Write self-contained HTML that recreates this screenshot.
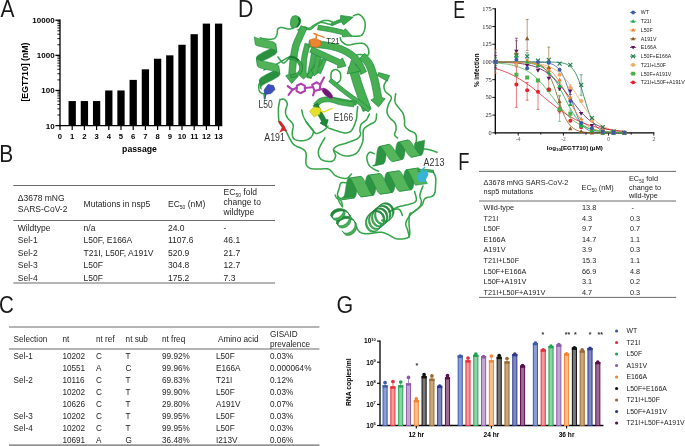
<!DOCTYPE html>
<html><head><meta charset="utf-8"><title>Figure</title>
<style>html,body{margin:0;padding:0;background:#fff;}body{width:685px;height:446px;overflow:hidden;}svg{display:block;}</style>
</head><body>
<svg width="685" height="446" viewBox="0 0 685 446">
<text x="0.50" y="17.40" font-size="23.5" font-weight="normal" text-anchor="start" fill="#1a1a1a" font-family="'Liberation Sans', Arial, sans-serif" textLength="14.0" lengthAdjust="spacingAndGlyphs">A</text>
<text x="-0.70" y="162.00" font-size="23.5" font-weight="normal" text-anchor="start" fill="#1a1a1a" font-family="'Liberation Sans', Arial, sans-serif" textLength="14.0" lengthAdjust="spacingAndGlyphs">B</text>
<text x="-1.00" y="312.80" font-size="23.5" font-weight="normal" text-anchor="start" fill="#1a1a1a" font-family="'Liberation Sans', Arial, sans-serif" textLength="14.8" lengthAdjust="spacingAndGlyphs">C</text>
<text x="238.10" y="17.40" font-size="23.5" font-weight="normal" text-anchor="start" fill="#1a1a1a" font-family="'Liberation Sans', Arial, sans-serif" textLength="15.4" lengthAdjust="spacingAndGlyphs">D</text>
<text x="453.20" y="17.80" font-size="23.5" font-weight="normal" text-anchor="start" fill="#1a1a1a" font-family="'Liberation Sans', Arial, sans-serif" textLength="11.9" lengthAdjust="spacingAndGlyphs">E</text>
<text x="458.30" y="170.30" font-size="23.5" font-weight="normal" text-anchor="start" fill="#1a1a1a" font-family="'Liberation Sans', Arial, sans-serif" textLength="11.2" lengthAdjust="spacingAndGlyphs">F</text>
<text x="336.40" y="312.80" font-size="23.5" font-weight="normal" text-anchor="start" fill="#1a1a1a" font-family="'Liberation Sans', Arial, sans-serif" textLength="16.7" lengthAdjust="spacingAndGlyphs">G</text>
<line x1="60.00" y1="19.61" x2="60.00" y2="126.20" stroke="#000" stroke-width="1.3" />
<line x1="59.40" y1="125.60" x2="222.20" y2="125.60" stroke="#000" stroke-width="1.3" />
<line x1="55.40" y1="125.60" x2="60.00" y2="125.60" stroke="#000" stroke-width="1.3" />
<text x="54.60" y="128.50" font-size="8.0" font-weight="bold" text-anchor="end" fill="#000" font-family="'Liberation Sans', Arial, sans-serif" >10</text>
<line x1="57.40" y1="115.02" x2="60.00" y2="115.02" stroke="#000" stroke-width="0.9" />
<line x1="57.40" y1="108.84" x2="60.00" y2="108.84" stroke="#000" stroke-width="0.9" />
<line x1="57.40" y1="104.45" x2="60.00" y2="104.45" stroke="#000" stroke-width="0.9" />
<line x1="57.40" y1="101.05" x2="60.00" y2="101.05" stroke="#000" stroke-width="0.9" />
<line x1="57.40" y1="98.26" x2="60.00" y2="98.26" stroke="#000" stroke-width="0.9" />
<line x1="57.40" y1="95.91" x2="60.00" y2="95.91" stroke="#000" stroke-width="0.9" />
<line x1="57.40" y1="93.87" x2="60.00" y2="93.87" stroke="#000" stroke-width="0.9" />
<line x1="57.40" y1="92.08" x2="60.00" y2="92.08" stroke="#000" stroke-width="0.9" />
<line x1="55.40" y1="90.47" x2="60.00" y2="90.47" stroke="#000" stroke-width="1.3" />
<text x="54.60" y="93.37" font-size="8.0" font-weight="bold" text-anchor="end" fill="#000" font-family="'Liberation Sans', Arial, sans-serif" >100</text>
<line x1="57.40" y1="79.89" x2="60.00" y2="79.89" stroke="#000" stroke-width="0.9" />
<line x1="57.40" y1="73.71" x2="60.00" y2="73.71" stroke="#000" stroke-width="0.9" />
<line x1="57.40" y1="69.32" x2="60.00" y2="69.32" stroke="#000" stroke-width="0.9" />
<line x1="57.40" y1="65.92" x2="60.00" y2="65.92" stroke="#000" stroke-width="0.9" />
<line x1="57.40" y1="63.13" x2="60.00" y2="63.13" stroke="#000" stroke-width="0.9" />
<line x1="57.40" y1="60.78" x2="60.00" y2="60.78" stroke="#000" stroke-width="0.9" />
<line x1="57.40" y1="58.74" x2="60.00" y2="58.74" stroke="#000" stroke-width="0.9" />
<line x1="57.40" y1="56.95" x2="60.00" y2="56.95" stroke="#000" stroke-width="0.9" />
<line x1="55.40" y1="55.34" x2="60.00" y2="55.34" stroke="#000" stroke-width="1.3" />
<text x="54.60" y="58.24" font-size="8.0" font-weight="bold" text-anchor="end" fill="#000" font-family="'Liberation Sans', Arial, sans-serif" >1000</text>
<line x1="57.40" y1="44.76" x2="60.00" y2="44.76" stroke="#000" stroke-width="0.9" />
<line x1="57.40" y1="38.58" x2="60.00" y2="38.58" stroke="#000" stroke-width="0.9" />
<line x1="57.40" y1="34.19" x2="60.00" y2="34.19" stroke="#000" stroke-width="0.9" />
<line x1="57.40" y1="30.79" x2="60.00" y2="30.79" stroke="#000" stroke-width="0.9" />
<line x1="57.40" y1="28.00" x2="60.00" y2="28.00" stroke="#000" stroke-width="0.9" />
<line x1="57.40" y1="25.65" x2="60.00" y2="25.65" stroke="#000" stroke-width="0.9" />
<line x1="57.40" y1="23.61" x2="60.00" y2="23.61" stroke="#000" stroke-width="0.9" />
<line x1="57.40" y1="21.82" x2="60.00" y2="21.82" stroke="#000" stroke-width="0.9" />
<line x1="55.40" y1="20.21" x2="60.00" y2="20.21" stroke="#000" stroke-width="1.3" />
<text x="54.60" y="23.11" font-size="8.0" font-weight="bold" text-anchor="end" fill="#000" font-family="'Liberation Sans', Arial, sans-serif" >10000</text>
<line x1="60.00" y1="125.60" x2="60.00" y2="130.00" stroke="#000" stroke-width="1.2" />
<text x="60.00" y="139.00" font-size="7.7" font-weight="bold" text-anchor="middle" fill="#000" font-family="'Liberation Sans', Arial, sans-serif" >0</text>
<line x1="72.20" y1="125.60" x2="72.20" y2="130.00" stroke="#000" stroke-width="1.2" />
<text x="72.20" y="139.00" font-size="7.7" font-weight="bold" text-anchor="middle" fill="#000" font-family="'Liberation Sans', Arial, sans-serif" >1</text>
<rect x="68.55" y="101.05" width="7.30" height="24.55" fill="#000" />
<line x1="84.40" y1="125.60" x2="84.40" y2="130.00" stroke="#000" stroke-width="1.2" />
<text x="84.40" y="139.00" font-size="7.7" font-weight="bold" text-anchor="middle" fill="#000" font-family="'Liberation Sans', Arial, sans-serif" >2</text>
<rect x="80.75" y="101.05" width="7.30" height="24.55" fill="#000" />
<line x1="96.60" y1="125.60" x2="96.60" y2="130.00" stroke="#000" stroke-width="1.2" />
<text x="96.60" y="139.00" font-size="7.7" font-weight="bold" text-anchor="middle" fill="#000" font-family="'Liberation Sans', Arial, sans-serif" >3</text>
<rect x="92.95" y="101.05" width="7.30" height="24.55" fill="#000" />
<line x1="108.80" y1="125.60" x2="108.80" y2="130.00" stroke="#000" stroke-width="1.2" />
<text x="108.80" y="139.00" font-size="7.7" font-weight="bold" text-anchor="middle" fill="#000" font-family="'Liberation Sans', Arial, sans-serif" >4</text>
<rect x="105.15" y="90.47" width="7.30" height="35.13" fill="#000" />
<line x1="121.00" y1="125.60" x2="121.00" y2="130.00" stroke="#000" stroke-width="1.2" />
<text x="121.00" y="139.00" font-size="7.7" font-weight="bold" text-anchor="middle" fill="#000" font-family="'Liberation Sans', Arial, sans-serif" >5</text>
<rect x="117.35" y="90.47" width="7.30" height="35.13" fill="#000" />
<line x1="133.20" y1="125.60" x2="133.20" y2="130.00" stroke="#000" stroke-width="1.2" />
<text x="133.20" y="139.00" font-size="7.7" font-weight="bold" text-anchor="middle" fill="#000" font-family="'Liberation Sans', Arial, sans-serif" >6</text>
<rect x="129.55" y="79.89" width="7.30" height="45.71" fill="#000" />
<line x1="145.40" y1="125.60" x2="145.40" y2="130.00" stroke="#000" stroke-width="1.2" />
<text x="145.40" y="139.00" font-size="7.7" font-weight="bold" text-anchor="middle" fill="#000" font-family="'Liberation Sans', Arial, sans-serif" >7</text>
<rect x="141.75" y="69.32" width="7.30" height="56.28" fill="#000" />
<line x1="157.60" y1="125.60" x2="157.60" y2="130.00" stroke="#000" stroke-width="1.2" />
<text x="157.60" y="139.00" font-size="7.7" font-weight="bold" text-anchor="middle" fill="#000" font-family="'Liberation Sans', Arial, sans-serif" >8</text>
<rect x="153.95" y="58.74" width="7.30" height="66.86" fill="#000" />
<line x1="169.80" y1="125.60" x2="169.80" y2="130.00" stroke="#000" stroke-width="1.2" />
<text x="169.80" y="139.00" font-size="7.7" font-weight="bold" text-anchor="middle" fill="#000" font-family="'Liberation Sans', Arial, sans-serif" >9</text>
<rect x="166.15" y="55.34" width="7.30" height="70.26" fill="#000" />
<line x1="182.00" y1="125.60" x2="182.00" y2="130.00" stroke="#000" stroke-width="1.2" />
<text x="182.00" y="139.00" font-size="7.7" font-weight="bold" text-anchor="middle" fill="#000" font-family="'Liberation Sans', Arial, sans-serif" >10</text>
<rect x="178.35" y="44.76" width="7.30" height="80.84" fill="#000" />
<line x1="194.20" y1="125.60" x2="194.20" y2="130.00" stroke="#000" stroke-width="1.2" />
<text x="194.20" y="139.00" font-size="7.7" font-weight="bold" text-anchor="middle" fill="#000" font-family="'Liberation Sans', Arial, sans-serif" >11</text>
<rect x="190.55" y="34.19" width="7.30" height="91.41" fill="#000" />
<line x1="206.40" y1="125.60" x2="206.40" y2="130.00" stroke="#000" stroke-width="1.2" />
<text x="206.40" y="139.00" font-size="7.7" font-weight="bold" text-anchor="middle" fill="#000" font-family="'Liberation Sans', Arial, sans-serif" >12</text>
<rect x="202.75" y="23.61" width="7.30" height="101.99" fill="#000" />
<line x1="218.60" y1="125.60" x2="218.60" y2="130.00" stroke="#000" stroke-width="1.2" />
<text x="218.60" y="139.00" font-size="7.7" font-weight="bold" text-anchor="middle" fill="#000" font-family="'Liberation Sans', Arial, sans-serif" >13</text>
<rect x="214.95" y="23.61" width="7.30" height="101.99" fill="#000" />
<text x="139.50" y="151.50" font-size="8.7" font-weight="bold" text-anchor="middle" fill="#000" font-family="'Liberation Sans', Arial, sans-serif" >passage</text>
<text x="0.00" y="0.00" font-size="8.7" font-weight="bold" text-anchor="middle" fill="#000" font-family="'Liberation Sans', Arial, sans-serif" transform="translate(28.3 72.1) rotate(-90)">[EGT710] (nM)</text>
<line x1="13.30" y1="185.50" x2="275.00" y2="185.50" stroke="#6b6b6b" stroke-width="1" />
<line x1="13.30" y1="220.50" x2="275.00" y2="220.50" stroke="#6b6b6b" stroke-width="1" />
<line x1="13.30" y1="283.00" x2="275.00" y2="283.00" stroke="#6b6b6b" stroke-width="1" />
<text x="17.80" y="200.80" font-size="8.5" font-weight="normal" text-anchor="start" fill="#1e1e1e" font-family="'Liberation Sans', Arial, sans-serif" >&#916;3678 mNG</text>
<text x="17.80" y="211.60" font-size="8.5" font-weight="normal" text-anchor="start" fill="#1e1e1e" font-family="'Liberation Sans', Arial, sans-serif" >SARS-CoV-2</text>
<text x="83.60" y="207.00" font-size="8.5" font-weight="normal" text-anchor="start" fill="#1e1e1e" font-family="'Liberation Sans', Arial, sans-serif" >Mutations in nsp5</text>
<text x="168.00" y="207.00" font-size="8.5" font-weight="normal" text-anchor="start" fill="#1e1e1e" font-family="'Liberation Sans', Arial, sans-serif" >EC<tspan font-size="5" dy="2">50</tspan><tspan dy="-2"> (nM)</tspan></text>
<text x="223.60" y="195.40" font-size="8.5" font-weight="normal" text-anchor="start" fill="#1e1e1e" font-family="'Liberation Sans', Arial, sans-serif" >EC<tspan font-size="5" dy="2">50</tspan><tspan dy="-2"> fold</tspan></text>
<text x="223.60" y="205.00" font-size="8.5" font-weight="normal" text-anchor="start" fill="#1e1e1e" font-family="'Liberation Sans', Arial, sans-serif" >change to</text>
<text x="223.60" y="214.60" font-size="8.5" font-weight="normal" text-anchor="start" fill="#1e1e1e" font-family="'Liberation Sans', Arial, sans-serif" >wildtype</text>
<text x="17.80" y="231.00" font-size="8.5" font-weight="normal" text-anchor="start" fill="#1e1e1e" font-family="'Liberation Sans', Arial, sans-serif" >Wildtype</text>
<text x="83.60" y="231.00" font-size="8.5" font-weight="normal" text-anchor="start" fill="#1e1e1e" font-family="'Liberation Sans', Arial, sans-serif" >n/a</text>
<text x="168.00" y="231.00" font-size="8.5" font-weight="normal" text-anchor="start" fill="#1e1e1e" font-family="'Liberation Sans', Arial, sans-serif" >24.0</text>
<text x="223.60" y="231.00" font-size="8.5" font-weight="normal" text-anchor="start" fill="#1e1e1e" font-family="'Liberation Sans', Arial, sans-serif" >-</text>
<text x="17.80" y="243.40" font-size="8.5" font-weight="normal" text-anchor="start" fill="#1e1e1e" font-family="'Liberation Sans', Arial, sans-serif" >Sel-1</text>
<text x="83.60" y="243.40" font-size="8.5" font-weight="normal" text-anchor="start" fill="#1e1e1e" font-family="'Liberation Sans', Arial, sans-serif" >L50F, E166A</text>
<text x="168.00" y="243.40" font-size="8.5" font-weight="normal" text-anchor="start" fill="#1e1e1e" font-family="'Liberation Sans', Arial, sans-serif" >1107.6</text>
<text x="223.60" y="243.40" font-size="8.5" font-weight="normal" text-anchor="start" fill="#1e1e1e" font-family="'Liberation Sans', Arial, sans-serif" >46.1</text>
<text x="17.80" y="255.80" font-size="8.5" font-weight="normal" text-anchor="start" fill="#1e1e1e" font-family="'Liberation Sans', Arial, sans-serif" >Sel-2</text>
<text x="83.60" y="255.80" font-size="8.5" font-weight="normal" text-anchor="start" fill="#1e1e1e" font-family="'Liberation Sans', Arial, sans-serif" >T21I, L50F, A191V</text>
<text x="168.00" y="255.80" font-size="8.5" font-weight="normal" text-anchor="start" fill="#1e1e1e" font-family="'Liberation Sans', Arial, sans-serif" >520.9</text>
<text x="223.60" y="255.80" font-size="8.5" font-weight="normal" text-anchor="start" fill="#1e1e1e" font-family="'Liberation Sans', Arial, sans-serif" >21.7</text>
<text x="17.80" y="268.20" font-size="8.5" font-weight="normal" text-anchor="start" fill="#1e1e1e" font-family="'Liberation Sans', Arial, sans-serif" >Sel-3</text>
<text x="83.60" y="268.20" font-size="8.5" font-weight="normal" text-anchor="start" fill="#1e1e1e" font-family="'Liberation Sans', Arial, sans-serif" >L50F</text>
<text x="168.00" y="268.20" font-size="8.5" font-weight="normal" text-anchor="start" fill="#1e1e1e" font-family="'Liberation Sans', Arial, sans-serif" >304.8</text>
<text x="223.60" y="268.20" font-size="8.5" font-weight="normal" text-anchor="start" fill="#1e1e1e" font-family="'Liberation Sans', Arial, sans-serif" >12.7</text>
<text x="17.80" y="280.60" font-size="8.5" font-weight="normal" text-anchor="start" fill="#1e1e1e" font-family="'Liberation Sans', Arial, sans-serif" >Sel-4</text>
<text x="83.60" y="280.60" font-size="8.5" font-weight="normal" text-anchor="start" fill="#1e1e1e" font-family="'Liberation Sans', Arial, sans-serif" >L50F</text>
<text x="168.00" y="280.60" font-size="8.5" font-weight="normal" text-anchor="start" fill="#1e1e1e" font-family="'Liberation Sans', Arial, sans-serif" >175.2</text>
<text x="223.60" y="280.60" font-size="8.5" font-weight="normal" text-anchor="start" fill="#1e1e1e" font-family="'Liberation Sans', Arial, sans-serif" >7.3</text>
<line x1="9.00" y1="327.00" x2="319.40" y2="327.00" stroke="#6b6b6b" stroke-width="1.2" />
<line x1="9.00" y1="349.00" x2="319.40" y2="349.00" stroke="#6b6b6b" stroke-width="1.2" />
<line x1="9.00" y1="445.20" x2="319.40" y2="445.20" stroke="#6b6b6b" stroke-width="1.2" />
<text x="13.60" y="341.60" font-size="8.2" font-weight="normal" text-anchor="start" fill="#1e1e1e" font-family="'Liberation Sans', Arial, sans-serif" >Selection</text>
<text x="62.40" y="341.60" font-size="8.2" font-weight="normal" text-anchor="start" fill="#1e1e1e" font-family="'Liberation Sans', Arial, sans-serif" >nt</text>
<text x="96.00" y="341.60" font-size="8.2" font-weight="normal" text-anchor="start" fill="#1e1e1e" font-family="'Liberation Sans', Arial, sans-serif" >nt ref</text>
<text x="125.60" y="341.60" font-size="8.2" font-weight="normal" text-anchor="start" fill="#1e1e1e" font-family="'Liberation Sans', Arial, sans-serif" >nt sub</text>
<text x="162.00" y="341.60" font-size="8.2" font-weight="normal" text-anchor="start" fill="#1e1e1e" font-family="'Liberation Sans', Arial, sans-serif" >nt freq</text>
<text x="218.00" y="341.60" font-size="8.2" font-weight="normal" text-anchor="start" fill="#1e1e1e" font-family="'Liberation Sans', Arial, sans-serif" >Amino acid</text>
<text x="270.00" y="337.00" font-size="8.2" font-weight="normal" text-anchor="start" fill="#1e1e1e" font-family="'Liberation Sans', Arial, sans-serif" >GISAID</text>
<text x="270.00" y="346.60" font-size="8.2" font-weight="normal" text-anchor="start" fill="#1e1e1e" font-family="'Liberation Sans', Arial, sans-serif" >prevalence</text>
<text x="13.60" y="359.00" font-size="8.2" font-weight="normal" text-anchor="start" fill="#1e1e1e" font-family="'Liberation Sans', Arial, sans-serif" >Sel-1</text>
<text x="62.40" y="359.00" font-size="8.2" font-weight="normal" text-anchor="start" fill="#1e1e1e" font-family="'Liberation Sans', Arial, sans-serif" >10202</text>
<text x="96.00" y="359.00" font-size="8.2" font-weight="normal" text-anchor="start" fill="#1e1e1e" font-family="'Liberation Sans', Arial, sans-serif" >C</text>
<text x="125.60" y="359.00" font-size="8.2" font-weight="normal" text-anchor="start" fill="#1e1e1e" font-family="'Liberation Sans', Arial, sans-serif" >T</text>
<text x="162.00" y="359.00" font-size="8.2" font-weight="normal" text-anchor="start" fill="#1e1e1e" font-family="'Liberation Sans', Arial, sans-serif" >99.92%</text>
<text x="216.00" y="359.00" font-size="8.2" font-weight="normal" text-anchor="start" fill="#1e1e1e" font-family="'Liberation Sans', Arial, sans-serif" >L50F</text>
<text x="270.00" y="359.00" font-size="8.2" font-weight="normal" text-anchor="start" fill="#1e1e1e" font-family="'Liberation Sans', Arial, sans-serif" >0.03%</text>
<text x="62.40" y="370.95" font-size="8.2" font-weight="normal" text-anchor="start" fill="#1e1e1e" font-family="'Liberation Sans', Arial, sans-serif" >10551</text>
<text x="96.00" y="370.95" font-size="8.2" font-weight="normal" text-anchor="start" fill="#1e1e1e" font-family="'Liberation Sans', Arial, sans-serif" >A</text>
<text x="125.60" y="370.95" font-size="8.2" font-weight="normal" text-anchor="start" fill="#1e1e1e" font-family="'Liberation Sans', Arial, sans-serif" >C</text>
<text x="162.00" y="370.95" font-size="8.2" font-weight="normal" text-anchor="start" fill="#1e1e1e" font-family="'Liberation Sans', Arial, sans-serif" >99.96%</text>
<text x="216.00" y="370.95" font-size="8.2" font-weight="normal" text-anchor="start" fill="#1e1e1e" font-family="'Liberation Sans', Arial, sans-serif" >E166A</text>
<text x="270.00" y="370.95" font-size="8.2" font-weight="normal" text-anchor="start" fill="#1e1e1e" font-family="'Liberation Sans', Arial, sans-serif" >0.000064%</text>
<text x="13.60" y="382.90" font-size="8.2" font-weight="normal" text-anchor="start" fill="#1e1e1e" font-family="'Liberation Sans', Arial, sans-serif" >Sel-2</text>
<text x="62.40" y="382.90" font-size="8.2" font-weight="normal" text-anchor="start" fill="#1e1e1e" font-family="'Liberation Sans', Arial, sans-serif" >10116</text>
<text x="96.00" y="382.90" font-size="8.2" font-weight="normal" text-anchor="start" fill="#1e1e1e" font-family="'Liberation Sans', Arial, sans-serif" >C</text>
<text x="125.60" y="382.90" font-size="8.2" font-weight="normal" text-anchor="start" fill="#1e1e1e" font-family="'Liberation Sans', Arial, sans-serif" >T</text>
<text x="162.00" y="382.90" font-size="8.2" font-weight="normal" text-anchor="start" fill="#1e1e1e" font-family="'Liberation Sans', Arial, sans-serif" >69.83%</text>
<text x="216.00" y="382.90" font-size="8.2" font-weight="normal" text-anchor="start" fill="#1e1e1e" font-family="'Liberation Sans', Arial, sans-serif" >T21I</text>
<text x="270.00" y="382.90" font-size="8.2" font-weight="normal" text-anchor="start" fill="#1e1e1e" font-family="'Liberation Sans', Arial, sans-serif" >0.12%</text>
<text x="62.40" y="394.85" font-size="8.2" font-weight="normal" text-anchor="start" fill="#1e1e1e" font-family="'Liberation Sans', Arial, sans-serif" >10202</text>
<text x="96.00" y="394.85" font-size="8.2" font-weight="normal" text-anchor="start" fill="#1e1e1e" font-family="'Liberation Sans', Arial, sans-serif" >C</text>
<text x="125.60" y="394.85" font-size="8.2" font-weight="normal" text-anchor="start" fill="#1e1e1e" font-family="'Liberation Sans', Arial, sans-serif" >T</text>
<text x="162.00" y="394.85" font-size="8.2" font-weight="normal" text-anchor="start" fill="#1e1e1e" font-family="'Liberation Sans', Arial, sans-serif" >99.90%</text>
<text x="216.00" y="394.85" font-size="8.2" font-weight="normal" text-anchor="start" fill="#1e1e1e" font-family="'Liberation Sans', Arial, sans-serif" >L50F</text>
<text x="270.00" y="394.85" font-size="8.2" font-weight="normal" text-anchor="start" fill="#1e1e1e" font-family="'Liberation Sans', Arial, sans-serif" >0.03%</text>
<text x="62.40" y="406.80" font-size="8.2" font-weight="normal" text-anchor="start" fill="#1e1e1e" font-family="'Liberation Sans', Arial, sans-serif" >10626</text>
<text x="96.00" y="406.80" font-size="8.2" font-weight="normal" text-anchor="start" fill="#1e1e1e" font-family="'Liberation Sans', Arial, sans-serif" >C</text>
<text x="125.60" y="406.80" font-size="8.2" font-weight="normal" text-anchor="start" fill="#1e1e1e" font-family="'Liberation Sans', Arial, sans-serif" >T</text>
<text x="162.00" y="406.80" font-size="8.2" font-weight="normal" text-anchor="start" fill="#1e1e1e" font-family="'Liberation Sans', Arial, sans-serif" >29.80%</text>
<text x="216.00" y="406.80" font-size="8.2" font-weight="normal" text-anchor="start" fill="#1e1e1e" font-family="'Liberation Sans', Arial, sans-serif" >A191V</text>
<text x="270.00" y="406.80" font-size="8.2" font-weight="normal" text-anchor="start" fill="#1e1e1e" font-family="'Liberation Sans', Arial, sans-serif" >0.07%</text>
<text x="13.60" y="418.75" font-size="8.2" font-weight="normal" text-anchor="start" fill="#1e1e1e" font-family="'Liberation Sans', Arial, sans-serif" >Sel-3</text>
<text x="62.40" y="418.75" font-size="8.2" font-weight="normal" text-anchor="start" fill="#1e1e1e" font-family="'Liberation Sans', Arial, sans-serif" >10202</text>
<text x="96.00" y="418.75" font-size="8.2" font-weight="normal" text-anchor="start" fill="#1e1e1e" font-family="'Liberation Sans', Arial, sans-serif" >C</text>
<text x="125.60" y="418.75" font-size="8.2" font-weight="normal" text-anchor="start" fill="#1e1e1e" font-family="'Liberation Sans', Arial, sans-serif" >T</text>
<text x="162.00" y="418.75" font-size="8.2" font-weight="normal" text-anchor="start" fill="#1e1e1e" font-family="'Liberation Sans', Arial, sans-serif" >99.95%</text>
<text x="216.00" y="418.75" font-size="8.2" font-weight="normal" text-anchor="start" fill="#1e1e1e" font-family="'Liberation Sans', Arial, sans-serif" >L50F</text>
<text x="270.00" y="418.75" font-size="8.2" font-weight="normal" text-anchor="start" fill="#1e1e1e" font-family="'Liberation Sans', Arial, sans-serif" >0.03%</text>
<text x="13.60" y="430.70" font-size="8.2" font-weight="normal" text-anchor="start" fill="#1e1e1e" font-family="'Liberation Sans', Arial, sans-serif" >Sel-4</text>
<text x="62.40" y="430.70" font-size="8.2" font-weight="normal" text-anchor="start" fill="#1e1e1e" font-family="'Liberation Sans', Arial, sans-serif" >10202</text>
<text x="96.00" y="430.70" font-size="8.2" font-weight="normal" text-anchor="start" fill="#1e1e1e" font-family="'Liberation Sans', Arial, sans-serif" >C</text>
<text x="125.60" y="430.70" font-size="8.2" font-weight="normal" text-anchor="start" fill="#1e1e1e" font-family="'Liberation Sans', Arial, sans-serif" >T</text>
<text x="162.00" y="430.70" font-size="8.2" font-weight="normal" text-anchor="start" fill="#1e1e1e" font-family="'Liberation Sans', Arial, sans-serif" >99.95%</text>
<text x="216.00" y="430.70" font-size="8.2" font-weight="normal" text-anchor="start" fill="#1e1e1e" font-family="'Liberation Sans', Arial, sans-serif" >L50F</text>
<text x="270.00" y="430.70" font-size="8.2" font-weight="normal" text-anchor="start" fill="#1e1e1e" font-family="'Liberation Sans', Arial, sans-serif" >0.03%</text>
<text x="62.40" y="442.65" font-size="8.2" font-weight="normal" text-anchor="start" fill="#1e1e1e" font-family="'Liberation Sans', Arial, sans-serif" >10691</text>
<text x="96.00" y="442.65" font-size="8.2" font-weight="normal" text-anchor="start" fill="#1e1e1e" font-family="'Liberation Sans', Arial, sans-serif" >A</text>
<text x="125.60" y="442.65" font-size="8.2" font-weight="normal" text-anchor="start" fill="#1e1e1e" font-family="'Liberation Sans', Arial, sans-serif" >G</text>
<text x="162.00" y="442.65" font-size="8.2" font-weight="normal" text-anchor="start" fill="#1e1e1e" font-family="'Liberation Sans', Arial, sans-serif" >36.48%</text>
<text x="216.00" y="442.65" font-size="8.2" font-weight="normal" text-anchor="start" fill="#1e1e1e" font-family="'Liberation Sans', Arial, sans-serif" >I213V</text>
<text x="270.00" y="442.65" font-size="8.2" font-weight="normal" text-anchor="start" fill="#1e1e1e" font-family="'Liberation Sans', Arial, sans-serif" >0.06%</text>
<line x1="479.00" y1="171.40" x2="676.00" y2="171.40" stroke="#6b6b6b" stroke-width="1" />
<line x1="479.00" y1="201.00" x2="676.00" y2="201.00" stroke="#6b6b6b" stroke-width="1" />
<line x1="479.00" y1="297.40" x2="676.00" y2="297.40" stroke="#6b6b6b" stroke-width="1" />
<text x="483.60" y="185.00" font-size="7.3" font-weight="normal" text-anchor="start" fill="#1e1e1e" font-family="'Liberation Sans', Arial, sans-serif" >&#916;3678 mNG SARS-CoV-2</text>
<text x="483.60" y="193.60" font-size="7.3" font-weight="normal" text-anchor="start" fill="#1e1e1e" font-family="'Liberation Sans', Arial, sans-serif" >nsp5 mutations</text>
<text x="581.60" y="189.60" font-size="7.3" font-weight="normal" text-anchor="start" fill="#1e1e1e" font-family="'Liberation Sans', Arial, sans-serif" >EC<tspan font-size="4.5" dy="2">50</tspan><tspan dy="-2"> (nM)</tspan></text>
<text x="629.00" y="181.00" font-size="7.3" font-weight="normal" text-anchor="start" fill="#1e1e1e" font-family="'Liberation Sans', Arial, sans-serif" >EC<tspan font-size="4.5" dy="2">50</tspan><tspan dy="-2"> fold</tspan></text>
<text x="629.00" y="189.60" font-size="7.3" font-weight="normal" text-anchor="start" fill="#1e1e1e" font-family="'Liberation Sans', Arial, sans-serif" >change to</text>
<text x="629.00" y="198.20" font-size="7.3" font-weight="normal" text-anchor="start" fill="#1e1e1e" font-family="'Liberation Sans', Arial, sans-serif" >wild-type</text>
<text x="483.60" y="210.40" font-size="7.3" font-weight="normal" text-anchor="start" fill="#1e1e1e" font-family="'Liberation Sans', Arial, sans-serif" >Wild-type</text>
<text x="582.00" y="210.40" font-size="7.3" font-weight="normal" text-anchor="start" fill="#1e1e1e" font-family="'Liberation Sans', Arial, sans-serif" >13.8</text>
<text x="631.50" y="210.40" font-size="7.3" font-weight="normal" text-anchor="start" fill="#1e1e1e" font-family="'Liberation Sans', Arial, sans-serif" >-</text>
<text x="483.60" y="220.92" font-size="7.3" font-weight="normal" text-anchor="start" fill="#1e1e1e" font-family="'Liberation Sans', Arial, sans-serif" >T21I</text>
<text x="582.00" y="220.92" font-size="7.3" font-weight="normal" text-anchor="start" fill="#1e1e1e" font-family="'Liberation Sans', Arial, sans-serif" >4.3</text>
<text x="630.00" y="220.92" font-size="7.3" font-weight="normal" text-anchor="start" fill="#1e1e1e" font-family="'Liberation Sans', Arial, sans-serif" >0.3</text>
<text x="483.60" y="231.44" font-size="7.3" font-weight="normal" text-anchor="start" fill="#1e1e1e" font-family="'Liberation Sans', Arial, sans-serif" >L50F</text>
<text x="582.00" y="231.44" font-size="7.3" font-weight="normal" text-anchor="start" fill="#1e1e1e" font-family="'Liberation Sans', Arial, sans-serif" >9.7</text>
<text x="630.00" y="231.44" font-size="7.3" font-weight="normal" text-anchor="start" fill="#1e1e1e" font-family="'Liberation Sans', Arial, sans-serif" >0.7</text>
<text x="483.60" y="241.96" font-size="7.3" font-weight="normal" text-anchor="start" fill="#1e1e1e" font-family="'Liberation Sans', Arial, sans-serif" >E166A</text>
<text x="582.00" y="241.96" font-size="7.3" font-weight="normal" text-anchor="start" fill="#1e1e1e" font-family="'Liberation Sans', Arial, sans-serif" >14.7</text>
<text x="630.00" y="241.96" font-size="7.3" font-weight="normal" text-anchor="start" fill="#1e1e1e" font-family="'Liberation Sans', Arial, sans-serif" >1.1</text>
<text x="483.60" y="252.48" font-size="7.3" font-weight="normal" text-anchor="start" fill="#1e1e1e" font-family="'Liberation Sans', Arial, sans-serif" >A191V</text>
<text x="582.00" y="252.48" font-size="7.3" font-weight="normal" text-anchor="start" fill="#1e1e1e" font-family="'Liberation Sans', Arial, sans-serif" >3.9</text>
<text x="630.00" y="252.48" font-size="7.3" font-weight="normal" text-anchor="start" fill="#1e1e1e" font-family="'Liberation Sans', Arial, sans-serif" >0.3</text>
<text x="483.60" y="263.00" font-size="7.3" font-weight="normal" text-anchor="start" fill="#1e1e1e" font-family="'Liberation Sans', Arial, sans-serif" >T21I+L50F</text>
<text x="582.00" y="263.00" font-size="7.3" font-weight="normal" text-anchor="start" fill="#1e1e1e" font-family="'Liberation Sans', Arial, sans-serif" >15.3</text>
<text x="630.00" y="263.00" font-size="7.3" font-weight="normal" text-anchor="start" fill="#1e1e1e" font-family="'Liberation Sans', Arial, sans-serif" >1.1</text>
<text x="483.60" y="273.52" font-size="7.3" font-weight="normal" text-anchor="start" fill="#1e1e1e" font-family="'Liberation Sans', Arial, sans-serif" >L50F+E166A</text>
<text x="582.00" y="273.52" font-size="7.3" font-weight="normal" text-anchor="start" fill="#1e1e1e" font-family="'Liberation Sans', Arial, sans-serif" >66.9</text>
<text x="630.00" y="273.52" font-size="7.3" font-weight="normal" text-anchor="start" fill="#1e1e1e" font-family="'Liberation Sans', Arial, sans-serif" >4.8</text>
<text x="483.60" y="284.04" font-size="7.3" font-weight="normal" text-anchor="start" fill="#1e1e1e" font-family="'Liberation Sans', Arial, sans-serif" >L50F+A191V</text>
<text x="582.00" y="284.04" font-size="7.3" font-weight="normal" text-anchor="start" fill="#1e1e1e" font-family="'Liberation Sans', Arial, sans-serif" >3.1</text>
<text x="630.00" y="284.04" font-size="7.3" font-weight="normal" text-anchor="start" fill="#1e1e1e" font-family="'Liberation Sans', Arial, sans-serif" >0.2</text>
<text x="483.60" y="294.56" font-size="7.3" font-weight="normal" text-anchor="start" fill="#1e1e1e" font-family="'Liberation Sans', Arial, sans-serif" >T21I+L50F+A191V</text>
<text x="582.00" y="294.56" font-size="7.3" font-weight="normal" text-anchor="start" fill="#1e1e1e" font-family="'Liberation Sans', Arial, sans-serif" >4.7</text>
<text x="630.00" y="294.56" font-size="7.3" font-weight="normal" text-anchor="start" fill="#1e1e1e" font-family="'Liberation Sans', Arial, sans-serif" >0.3</text>
<line x1="495.30" y1="8.31" x2="495.30" y2="133.40" stroke="#000" stroke-width="1.3" />
<line x1="494.70" y1="132.80" x2="654.30" y2="132.80" stroke="#000" stroke-width="1.3" />
<line x1="492.30" y1="132.80" x2="495.30" y2="132.80" stroke="#000" stroke-width="0.9" />
<text x="491.80" y="134.90" font-size="6.4" font-weight="normal" text-anchor="end" fill="#222" font-family="'Liberation Serif', 'Times New Roman', serif" >0</text>
<line x1="492.30" y1="115.09" x2="495.30" y2="115.09" stroke="#000" stroke-width="0.9" />
<text x="491.80" y="117.19" font-size="6.4" font-weight="normal" text-anchor="end" fill="#222" font-family="'Liberation Serif', 'Times New Roman', serif" >25</text>
<line x1="492.30" y1="97.38" x2="495.30" y2="97.38" stroke="#000" stroke-width="0.9" />
<text x="491.80" y="99.47" font-size="6.4" font-weight="normal" text-anchor="end" fill="#222" font-family="'Liberation Serif', 'Times New Roman', serif" >50</text>
<line x1="492.30" y1="79.66" x2="495.30" y2="79.66" stroke="#000" stroke-width="0.9" />
<text x="491.80" y="81.76" font-size="6.4" font-weight="normal" text-anchor="end" fill="#222" font-family="'Liberation Serif', 'Times New Roman', serif" >75</text>
<line x1="492.30" y1="61.95" x2="495.30" y2="61.95" stroke="#000" stroke-width="0.9" />
<text x="491.80" y="64.05" font-size="6.4" font-weight="normal" text-anchor="end" fill="#222" font-family="'Liberation Serif', 'Times New Roman', serif" >100</text>
<line x1="492.30" y1="44.24" x2="495.30" y2="44.24" stroke="#000" stroke-width="0.9" />
<text x="491.80" y="46.34" font-size="6.4" font-weight="normal" text-anchor="end" fill="#222" font-family="'Liberation Serif', 'Times New Roman', serif" >125</text>
<line x1="492.30" y1="26.53" x2="495.30" y2="26.53" stroke="#000" stroke-width="0.9" />
<text x="491.80" y="28.63" font-size="6.4" font-weight="normal" text-anchor="end" fill="#222" font-family="'Liberation Serif', 'Times New Roman', serif" >150</text>
<line x1="492.30" y1="8.81" x2="495.30" y2="8.81" stroke="#000" stroke-width="0.9" />
<text x="491.80" y="10.91" font-size="6.4" font-weight="normal" text-anchor="end" fill="#222" font-family="'Liberation Serif', 'Times New Roman', serif" >175</text>
<line x1="495.60" y1="132.80" x2="495.60" y2="134.60" stroke="#000" stroke-width="0.9" />
<line x1="518.20" y1="132.80" x2="518.20" y2="135.60" stroke="#000" stroke-width="0.9" />
<line x1="540.80" y1="132.80" x2="540.80" y2="134.60" stroke="#000" stroke-width="0.9" />
<line x1="563.40" y1="132.80" x2="563.40" y2="135.60" stroke="#000" stroke-width="0.9" />
<line x1="586.00" y1="132.80" x2="586.00" y2="134.60" stroke="#000" stroke-width="0.9" />
<line x1="608.60" y1="132.80" x2="608.60" y2="135.60" stroke="#000" stroke-width="0.9" />
<line x1="631.20" y1="132.80" x2="631.20" y2="134.60" stroke="#000" stroke-width="0.9" />
<line x1="653.80" y1="132.80" x2="653.80" y2="135.60" stroke="#000" stroke-width="0.9" />
<text x="518.20" y="140.80" font-size="5.4" font-weight="normal" text-anchor="middle" fill="#555" font-family="'Liberation Serif', 'Times New Roman', serif" >-4</text>
<text x="563.40" y="140.80" font-size="5.4" font-weight="normal" text-anchor="middle" fill="#555" font-family="'Liberation Serif', 'Times New Roman', serif" >-2</text>
<text x="608.60" y="140.80" font-size="5.4" font-weight="normal" text-anchor="middle" fill="#555" font-family="'Liberation Serif', 'Times New Roman', serif" >0</text>
<text x="653.80" y="140.80" font-size="5.4" font-weight="normal" text-anchor="middle" fill="#555" font-family="'Liberation Serif', 'Times New Roman', serif" >2</text>
<text x="574.80" y="149.80" font-size="6.2" font-weight="bold" text-anchor="middle" fill="#000" font-family="'Liberation Sans', Arial, sans-serif" >log<tspan font-size="4.4" dy="1.6">10</tspan><tspan dy="-1.6">[EGT710] (&#956;M)</tspan></text>
<text x="0.00" y="0.00" font-size="6.3" font-weight="bold" text-anchor="middle" fill="#000" font-family="'Liberation Sans', Arial, sans-serif" transform="translate(479.3 70.3) rotate(-90)">% infection</text>
<path d="M495.60 49.91V73.29M494.10 49.91h3M494.10 73.29h3" stroke="#f08330" stroke-width="0.7" fill="none" opacity="0.85"/>
<path d="M495.60 52.74V69.04M494.10 52.74h3M494.10 69.04h3" stroke="#3a5cab" stroke-width="0.7" fill="none" opacity="0.85"/>
<path d="M495.60 55.57V67.62M494.10 55.57h3M494.10 67.62h3" stroke="#5a1457" stroke-width="0.7" fill="none" opacity="0.85"/>
<path d="M495.60 57.70V65.49M494.10 57.70h3M494.10 65.49h3" stroke="#1f7a4f" stroke-width="0.7" fill="none" opacity="0.85"/>
<g fill="none" stroke-width="0.8">
<polyline points="495.6,62.0 497.4,62.0 499.2,62.0 501.0,62.0 502.8,62.0 504.6,62.0 506.4,62.0 508.3,62.0 510.1,62.0 511.9,62.0 513.7,62.0 515.5,62.0 517.3,62.0 519.1,62.0 520.9,62.0 522.7,62.0 524.5,62.0 526.3,62.0 528.1,62.0 530.0,62.0 531.8,62.0 533.6,62.0 535.4,62.1 537.2,62.1 539.0,62.2 540.8,62.2 542.6,62.3 544.4,62.5 546.2,62.7 548.0,63.0 549.8,63.4 551.6,64.0 553.5,64.7 555.3,65.8 557.1,67.2 558.9,69.0 560.7,71.5 562.5,74.5 564.3,78.3 566.1,82.9 567.9,88.1 569.7,93.7 571.5,99.6 573.3,105.3 575.2,110.6 577.0,115.4 578.8,119.3 580.6,122.6 582.4,125.2 584.2,127.1 586.0,128.6 587.8,129.8 589.6,130.6 591.4,131.2 593.2,131.6 595.0,132.0 596.8,132.2 598.7,132.4 600.5,132.5 602.3,132.6 604.1,132.6 605.9,132.7 607.7,132.7 609.5,132.7 611.3,132.8 613.1,132.8 614.9,132.8 616.7,132.8 618.5,132.8 620.4,132.8 622.2,132.8 624.0,132.8" stroke="#3a5cab"/>
<polyline points="495.6,62.0 497.4,62.0 499.2,62.0 501.0,62.0 502.8,62.0 504.6,62.0 506.4,62.1 508.3,62.1 510.1,62.1 511.9,62.1 513.7,62.2 515.5,62.2 517.3,62.3 519.1,62.4 520.9,62.5 522.7,62.6 524.5,62.7 526.3,62.9 528.1,63.1 530.0,63.4 531.8,63.7 533.6,64.1 535.4,64.6 537.2,65.1 539.0,65.8 540.8,66.6 542.6,67.5 544.4,68.7 546.2,70.0 548.0,71.6 549.8,73.4 551.6,75.5 553.5,77.8 555.3,80.5 557.1,83.4 558.9,86.5 560.7,89.9 562.5,93.4 564.3,96.9 566.1,100.5 567.9,104.0 569.7,107.4 571.5,110.6 573.3,113.6 575.2,116.3 577.0,118.7 578.8,120.9 580.6,122.7 582.4,124.4 584.2,125.8 586.0,126.9 587.8,127.9 589.6,128.8 591.4,129.5 593.2,130.1 595.0,130.6 596.8,131.0 598.7,131.3 600.5,131.6 602.3,131.8 604.1,132.0 605.9,132.1 607.7,132.2 609.5,132.3 611.3,132.4 613.1,132.5 614.9,132.6 616.7,132.6 618.5,132.6 620.4,132.7 622.2,132.7 624.0,132.7" stroke="#1fa84e"/>
<polyline points="495.6,62.0 497.4,62.0 499.2,62.0 501.0,62.0 502.8,62.0 504.6,62.0 506.4,62.0 508.3,62.0 510.1,62.1 511.9,62.1 513.7,62.1 515.5,62.1 517.3,62.2 519.1,62.2 520.9,62.3 522.7,62.4 524.5,62.5 526.3,62.6 528.1,62.8 530.0,62.9 531.8,63.2 533.6,63.4 535.4,63.7 537.2,64.1 539.0,64.6 540.8,65.2 542.6,65.9 544.4,66.7 546.2,67.7 548.0,68.8 549.8,70.2 551.6,71.8 553.5,73.6 555.3,75.8 557.1,78.2 558.9,80.8 560.7,83.8 562.5,86.9 564.3,90.3 566.1,93.8 567.9,97.4 569.7,101.0 571.5,104.5 573.3,107.8 575.2,111.0 577.0,113.9 578.8,116.6 580.6,119.0 582.4,121.1 584.2,123.0 586.0,124.5 587.8,125.9 589.6,127.1 591.4,128.1 593.2,128.9 595.0,129.6 596.8,130.1 598.7,130.6 600.5,131.0 602.3,131.3 604.1,131.6 605.9,131.8 607.7,132.0 609.5,132.1 611.3,132.3 613.1,132.4 614.9,132.4 616.7,132.5 618.5,132.6 620.4,132.6 622.2,132.6 624.0,132.7" stroke="#f08330"/>
<polyline points="495.6,62.0 497.4,62.0 499.2,62.0 501.0,62.0 502.8,62.0 504.6,62.0 506.4,62.0 508.3,62.0 510.1,62.0 511.9,62.0 513.7,62.0 515.5,62.0 517.3,62.0 519.1,62.0 520.9,62.1 522.7,62.1 524.5,62.2 526.3,62.3 528.1,62.4 530.0,62.5 531.8,62.7 533.6,63.0 535.4,63.4 537.2,63.9 539.0,64.6 540.8,65.5 542.6,66.7 544.4,68.4 546.2,70.4 548.0,73.1 549.8,76.3 551.6,80.2 553.5,84.8 555.3,89.9 557.1,95.3 558.9,100.8 560.7,106.2 562.5,111.2 564.3,115.6 566.1,119.3 567.9,122.4 569.7,124.9 571.5,126.8 573.3,128.3 575.2,129.5 577.0,130.3 578.8,131.0 580.6,131.5 582.4,131.8 584.2,132.1 586.0,132.3 587.8,132.4 589.6,132.5 591.4,132.6 593.2,132.6 595.0,132.7 596.8,132.7 598.7,132.7 600.5,132.8 602.3,132.8 604.1,132.8 605.9,132.8 607.7,132.8 609.5,132.8 611.3,132.8 613.1,132.8 614.9,132.8 616.7,132.8 618.5,132.8 620.4,132.8 622.2,132.8 624.0,132.8" stroke="#8a5a22"/>
<polyline points="495.6,62.2 497.4,62.2 499.2,62.3 501.0,62.3 502.8,62.4 504.6,62.4 506.4,62.5 508.3,62.6 510.1,62.7 511.9,62.8 513.7,62.9 515.5,63.1 517.3,63.2 519.1,63.4 520.9,63.6 522.7,63.9 524.5,64.2 526.3,64.5 528.1,64.8 530.0,65.2 531.8,65.7 533.6,66.2 535.4,66.8 537.2,67.5 539.0,68.2 540.8,69.1 542.6,70.0 544.4,71.0 546.2,72.2 548.0,73.5 549.8,74.8 551.6,76.4 553.5,78.0 555.3,79.8 557.1,81.7 558.9,83.7 560.7,85.9 562.5,88.1 564.3,90.4 566.1,92.8 567.9,95.2 569.7,97.7 571.5,100.1 573.3,102.5 575.2,104.9 577.0,107.2 578.8,109.4 580.6,111.5 582.4,113.5 584.2,115.4 586.0,117.2 587.8,118.8 589.6,120.3 591.4,121.6 593.2,122.9 595.0,124.0 596.8,125.0 598.7,125.9 600.5,126.7 602.3,127.4 604.1,128.1 605.9,128.7 607.7,129.2 609.5,129.6 611.3,130.0 613.1,130.4 614.9,130.7 616.7,130.9 618.5,131.2 620.4,131.4 622.2,131.6 624.0,131.7" stroke="#5a1457"/>
<polyline points="495.6,62.0 497.4,62.0 499.2,62.0 501.0,62.0 502.8,62.0 504.6,62.0 506.4,62.0 508.3,62.0 510.1,62.0 511.9,62.0 513.7,62.0 515.5,62.0 517.3,62.0 519.1,62.0 520.9,62.0 522.7,62.0 524.5,62.0 526.3,62.0 528.1,62.0 530.0,62.0 531.8,62.0 533.6,62.0 535.4,62.0 537.2,62.0 539.0,62.0 540.8,62.0 542.6,62.0 544.4,62.0 546.2,62.0 548.0,62.0 549.8,62.0 551.6,62.1 553.5,62.1 555.3,62.2 557.1,62.3 558.9,62.5 560.7,62.7 562.5,63.0 564.3,63.4 566.1,64.0 567.9,64.9 569.7,66.0 571.5,67.6 573.3,69.7 575.2,72.4 577.0,76.0 578.8,80.3 580.6,85.5 582.4,91.2 584.2,97.4 586.0,103.5 587.8,109.3 589.6,114.4 591.4,118.8 593.2,122.3 595.0,125.1 596.8,127.2 598.7,128.7 600.5,129.9 602.3,130.7 604.1,131.3 605.9,131.8 607.7,132.1 609.5,132.3 611.3,132.4 613.1,132.5 614.9,132.6 616.7,132.7 618.5,132.7 620.4,132.7 622.2,132.8 624.0,132.8" stroke="#1f7a4f"/>
<polyline points="495.6,62.0 497.4,62.0 499.2,62.0 501.0,62.0 502.8,62.0 504.6,62.0 506.4,62.0 508.3,62.1 510.1,62.1 511.9,62.1 513.7,62.1 515.5,62.2 517.3,62.2 519.1,62.3 520.9,62.3 522.7,62.4 524.5,62.5 526.3,62.6 528.1,62.7 530.0,62.8 531.8,62.9 533.6,63.1 535.4,63.3 537.2,63.6 539.0,63.9 540.8,64.2 542.6,64.6 544.4,65.0 546.2,65.6 548.0,66.2 549.8,66.9 551.6,67.7 553.5,68.7 555.3,69.7 557.1,71.0 558.9,72.3 560.7,73.9 562.5,75.6 564.3,77.6 566.1,79.7 567.9,82.0 569.7,84.4 571.5,87.0 573.3,89.8 575.2,92.6 577.0,95.5 578.8,98.5 580.6,101.4 582.4,104.3 584.2,107.0 586.0,109.7 587.8,112.2 589.6,114.5 591.4,116.7 593.2,118.7 595.0,120.4 596.8,122.0 598.7,123.5 600.5,124.7 602.3,125.8 604.1,126.8 605.9,127.7 607.7,128.4 609.5,129.0 611.3,129.6 613.1,130.1 614.9,130.5 616.7,130.8 618.5,131.1 620.4,131.4 622.2,131.6 624.0,131.8" stroke="#f0a865"/>
<polyline points="495.6,62.9 497.4,63.0 499.2,63.2 501.0,63.4 502.8,63.6 504.6,63.8 506.4,64.0 508.3,64.3 510.1,64.7 511.9,65.1 513.7,65.5 515.5,66.0 517.3,66.5 519.1,67.1 520.9,67.8 522.7,68.6 524.5,69.5 526.3,70.4 528.1,71.5 530.0,72.7 531.8,74.0 533.6,75.4 535.4,77.0 537.2,78.7 539.0,80.5 540.8,82.4 542.6,84.4 544.4,86.6 546.2,88.8 548.0,91.1 549.8,93.5 551.6,95.9 553.5,98.3 555.3,100.7 557.1,103.1 558.9,105.4 560.7,107.6 562.5,109.8 564.3,111.9 566.1,113.8 567.9,115.7 569.7,117.4 571.5,118.9 573.3,120.4 575.2,121.7 577.0,122.9 578.8,124.0 580.6,125.0 582.4,125.9 584.2,126.7 586.0,127.4 587.8,128.1 589.6,128.7 591.4,129.2 593.2,129.6 595.0,130.0 596.8,130.3 598.7,130.6 600.5,130.9 602.3,131.1 604.1,131.3 605.9,131.5 607.7,131.7 609.5,131.8 611.3,132.0 613.1,132.1 614.9,132.2 616.7,132.2 618.5,132.3 620.4,132.4 622.2,132.4 624.0,132.5" stroke="#4bb04b"/>
<polyline points="495.6,68.5 497.4,69.1 499.2,69.6 501.0,70.2 502.8,70.9 504.6,71.5 506.4,72.3 508.3,73.0 510.1,73.9 511.9,74.7 513.7,75.6 515.5,76.6 517.3,77.6 519.1,78.7 520.9,79.8 522.7,80.9 524.5,82.1 526.3,83.4 528.1,84.6 530.0,86.0 531.8,87.3 533.6,88.7 535.4,90.2 537.2,91.6 539.0,93.1 540.8,94.6 542.6,96.1 544.4,97.6 546.2,99.1 548.0,100.6 549.8,102.0 551.6,103.5 553.5,104.9 555.3,106.4 557.1,107.8 558.9,109.1 560.7,110.4 562.5,111.7 564.3,112.9 566.1,114.1 567.9,115.3 569.7,116.4 571.5,117.4 573.3,118.4 575.2,119.4 577.0,120.2 578.8,121.1 580.6,121.9 582.4,122.7 584.2,123.4 586.0,124.0 587.8,124.7 589.6,125.3 591.4,125.8 593.2,126.3 595.0,126.8 596.8,127.3 598.7,127.7 600.5,128.1 602.3,128.4 604.1,128.8 605.9,129.1 607.7,129.4 609.5,129.6 611.3,129.9 613.1,130.1 614.9,130.3 616.7,130.5 618.5,130.7 620.4,130.9 622.2,131.0 624.0,131.2" stroke="#e8202c"/>
</g>
<path d="M516.39 56.28V63.37M514.89 56.28h3M514.89 63.37h3" stroke="#3a5cab" stroke-width="0.7" fill="none" opacity="0.85"/>
<path d="M559.56 81.79V90.29M558.06 81.79h3M558.06 90.29h3" stroke="#1fa84e" stroke-width="0.7" fill="none" opacity="0.85"/>
<path d="M516.39 40.70V65.49M514.89 40.70h3M514.89 65.49h3" stroke="#8a5a22" stroke-width="0.7" fill="none" opacity="0.85"/>
<path d="M527.18 19.44V50.61M525.68 19.44h3M525.68 50.61h3" stroke="#8a5a22" stroke-width="0.7" fill="none" opacity="0.85"/>
<path d="M548.77 47.07V88.87M547.27 47.07h3M547.27 88.87h3" stroke="#8a5a22" stroke-width="0.7" fill="none" opacity="0.85"/>
<path d="M559.56 95.96V107.29M558.06 95.96h3M558.06 107.29h3" stroke="#8a5a22" stroke-width="0.7" fill="none" opacity="0.85"/>
<path d="M516.39 38.22V64.08M514.89 38.22h3M514.89 64.08h3" stroke="#5a1457" stroke-width="0.7" fill="none" opacity="0.85"/>
<path d="M570.35 87.46V94.54M568.85 87.46h3M568.85 94.54h3" stroke="#5a1457" stroke-width="0.7" fill="none" opacity="0.85"/>
<path d="M581.14 74.70V95.25M579.64 74.70h3M579.64 95.25h3" stroke="#1f7a4f" stroke-width="0.7" fill="none" opacity="0.85"/>
<path d="M527.18 52.74V59.82M525.68 52.74h3M525.68 59.82h3" stroke="#1f7a4f" stroke-width="0.7" fill="none" opacity="0.85"/>
<path d="M570.35 84.62V90.29M568.85 84.62h3M568.85 90.29h3" stroke="#f0a865" stroke-width="0.7" fill="none" opacity="0.85"/>
<path d="M559.56 95.25V121.46M558.06 95.25h3M558.06 121.46h3" stroke="#4bb04b" stroke-width="0.7" fill="none" opacity="0.85"/>
<path d="M570.35 110.13V117.21M568.85 110.13h3M568.85 117.21h3" stroke="#4bb04b" stroke-width="0.7" fill="none" opacity="0.85"/>
<path d="M516.39 66.91V107.29M514.89 66.91h3M514.89 107.29h3" stroke="#e8202c" stroke-width="0.7" fill="none" opacity="0.85"/>
<path d="M527.18 82.50V100.21M525.68 82.50h3M525.68 100.21h3" stroke="#e8202c" stroke-width="0.7" fill="none" opacity="0.85"/>
<path d="M537.98 81.79V109.42M536.48 81.79h3M536.48 109.42h3" stroke="#e8202c" stroke-width="0.7" fill="none" opacity="0.85"/>
<path d="M559.56 107.29V112.96M558.06 107.29h3M558.06 112.96h3" stroke="#e8202c" stroke-width="0.7" fill="none" opacity="0.85"/>
<circle cx="495.60" cy="61.95" r="2.00" fill="#e8202c"/>
<rect x="493.60" y="59.95" width="4.00" height="4.00" fill="#4bb04b"/>
<circle cx="495.60" cy="61.95" r="2.00" fill="#f0a865"/>
<path d="M493.60 59.95L497.60 63.95M497.60 59.95L493.60 63.95" stroke="#1f7a4f" stroke-width="1.1"/>
<polygon points="495.60,64.15 497.80,60.35 493.40,60.35" fill="#5a1457"/>
<polygon points="495.60,59.75 497.80,63.55 493.40,63.55" fill="#8a5a22"/>
<polygon points="495.60,59.75 497.80,63.55 493.40,63.55" fill="#f08330"/>
<polygon points="495.60,59.75 497.80,63.55 493.40,63.55" fill="#1fa84e"/>
<circle cx="495.60" cy="61.95" r="2.00" fill="#3a5cab"/>
<circle cx="516.39" cy="84.62" r="2.00" fill="#e8202c"/>
<circle cx="527.18" cy="90.29" r="2.00" fill="#e8202c"/>
<circle cx="537.98" cy="91.71" r="2.00" fill="#e8202c"/>
<circle cx="548.77" cy="89.58" r="2.00" fill="#e8202c"/>
<circle cx="559.56" cy="110.13" r="2.00" fill="#e8202c"/>
<circle cx="570.35" cy="120.76" r="2.00" fill="#e8202c"/>
<circle cx="581.14" cy="127.13" r="2.00" fill="#e8202c"/>
<circle cx="591.93" cy="131.38" r="2.00" fill="#e8202c"/>
<circle cx="602.72" cy="132.80" r="2.00" fill="#e8202c"/>
<circle cx="613.52" cy="132.80" r="2.00" fill="#e8202c"/>
<circle cx="624.31" cy="132.80" r="2.00" fill="#e8202c"/>
<rect x="514.39" y="72.70" width="4.00" height="4.00" fill="#4bb04b"/>
<rect x="525.18" y="75.54" width="4.00" height="4.00" fill="#4bb04b"/>
<rect x="535.98" y="78.37" width="4.00" height="4.00" fill="#4bb04b"/>
<rect x="546.77" y="87.94" width="4.00" height="4.00" fill="#4bb04b"/>
<rect x="557.56" y="107.42" width="4.00" height="4.00" fill="#4bb04b"/>
<rect x="568.35" y="111.67" width="4.00" height="4.00" fill="#4bb04b"/>
<rect x="579.14" y="123.72" width="4.00" height="4.00" fill="#4bb04b"/>
<rect x="589.93" y="128.67" width="4.00" height="4.00" fill="#4bb04b"/>
<rect x="600.72" y="130.80" width="4.00" height="4.00" fill="#4bb04b"/>
<rect x="611.52" y="130.80" width="4.00" height="4.00" fill="#4bb04b"/>
<rect x="622.31" y="130.80" width="4.00" height="4.00" fill="#4bb04b"/>
<circle cx="516.39" cy="64.08" r="2.00" fill="#f0a865"/>
<circle cx="527.18" cy="61.95" r="2.00" fill="#f0a865"/>
<circle cx="537.98" cy="64.78" r="2.00" fill="#f0a865"/>
<circle cx="548.77" cy="68.33" r="2.00" fill="#f0a865"/>
<circle cx="559.56" cy="74.70" r="2.00" fill="#f0a865"/>
<circle cx="570.35" cy="87.46" r="2.00" fill="#f0a865"/>
<circle cx="581.14" cy="100.92" r="2.00" fill="#f0a865"/>
<circle cx="591.93" cy="120.76" r="2.00" fill="#f0a865"/>
<circle cx="602.72" cy="130.67" r="2.00" fill="#f0a865"/>
<circle cx="613.52" cy="132.80" r="2.00" fill="#f0a865"/>
<circle cx="624.31" cy="132.80" r="2.00" fill="#f0a865"/>
<path d="M514.39 52.87L518.39 56.87M518.39 52.87L514.39 56.87" stroke="#1f7a4f" stroke-width="1.1"/>
<path d="M525.18 54.28L529.18 58.28M529.18 54.28L525.18 58.28" stroke="#1f7a4f" stroke-width="1.1"/>
<path d="M535.98 58.53L539.98 62.53M539.98 58.53L535.98 62.53" stroke="#1f7a4f" stroke-width="1.1"/>
<path d="M546.77 57.82L550.77 61.82M550.77 57.82L546.77 61.82" stroke="#1f7a4f" stroke-width="1.1"/>
<path d="M557.56 61.72L561.56 65.72M561.56 61.72L557.56 65.72" stroke="#1f7a4f" stroke-width="1.1"/>
<path d="M568.35 62.78L572.35 66.78M572.35 62.78L568.35 66.78" stroke="#1f7a4f" stroke-width="1.1"/>
<path d="M579.14 82.91L583.14 86.91M583.14 82.91L579.14 86.91" stroke="#1f7a4f" stroke-width="1.1"/>
<path d="M589.93 115.92L593.93 119.92M593.93 115.92L589.93 119.92" stroke="#1f7a4f" stroke-width="1.1"/>
<path d="M600.72 125.13L604.72 129.13M604.72 125.13L600.72 129.13" stroke="#1f7a4f" stroke-width="1.1"/>
<path d="M611.52 129.38L615.52 133.38M615.52 129.38L611.52 133.38" stroke="#1f7a4f" stroke-width="1.1"/>
<path d="M622.31 130.80L626.31 134.80M626.31 130.80L622.31 134.80" stroke="#1f7a4f" stroke-width="1.1"/>
<polygon points="516.39,53.52 518.59,49.72 514.19,49.72" fill="#5a1457"/>
<polygon points="527.18,67.69 529.38,63.89 524.98,63.89" fill="#5a1457"/>
<polygon points="537.98,72.65 540.18,68.85 535.77,68.85" fill="#5a1457"/>
<polygon points="548.77,80.45 550.97,76.65 546.57,76.65" fill="#5a1457"/>
<polygon points="559.56,91.07 561.76,87.27 557.36,87.27" fill="#5a1457"/>
<polygon points="570.35,93.20 572.55,89.40 568.15,89.40" fill="#5a1457"/>
<polygon points="581.14,115.87 583.34,112.07 578.94,112.07" fill="#5a1457"/>
<polygon points="591.93,127.92 594.13,124.12 589.73,124.12" fill="#5a1457"/>
<polygon points="602.72,133.58 604.92,129.78 600.52,129.78" fill="#5a1457"/>
<polygon points="613.52,135.00 615.72,131.20 611.32,131.20" fill="#5a1457"/>
<polygon points="624.31,135.00 626.51,131.20 622.11,131.20" fill="#5a1457"/>
<polygon points="516.39,51.25 518.59,55.05 514.19,55.05" fill="#8a5a22"/>
<polygon points="527.18,36.37 529.38,40.17 524.98,40.17" fill="#8a5a22"/>
<polygon points="537.98,63.29 540.18,67.09 535.77,67.09" fill="#8a5a22"/>
<polygon points="548.77,65.42 550.97,69.22 546.57,69.22" fill="#8a5a22"/>
<polygon points="559.56,99.43 561.76,103.23 557.36,103.23" fill="#8a5a22"/>
<polygon points="570.35,126.35 572.55,130.15 568.15,130.15" fill="#8a5a22"/>
<polygon points="581.14,129.18 583.34,132.98 578.94,132.98" fill="#8a5a22"/>
<polygon points="591.93,130.60 594.13,134.40 589.73,134.40" fill="#8a5a22"/>
<polygon points="602.72,130.60 604.92,134.40 600.52,134.40" fill="#8a5a22"/>
<polygon points="613.52,130.60 615.72,134.40 611.32,134.40" fill="#8a5a22"/>
<polygon points="624.31,130.60 626.51,134.40 622.11,134.40" fill="#8a5a22"/>
<polygon points="516.39,59.75 518.59,63.55 514.19,63.55" fill="#f08330"/>
<polygon points="527.18,58.33 529.38,62.13 524.98,62.13" fill="#f08330"/>
<polygon points="537.98,61.88 540.18,65.68 535.77,65.68" fill="#f08330"/>
<polygon points="548.77,68.25 550.97,72.05 546.57,72.05" fill="#f08330"/>
<polygon points="559.56,77.46 561.76,81.26 557.36,81.26" fill="#f08330"/>
<polygon points="570.35,95.17 572.55,98.97 568.15,98.97" fill="#f08330"/>
<polygon points="581.14,116.43 583.34,120.23 578.94,120.23" fill="#f08330"/>
<polygon points="591.93,127.06 594.13,130.86 589.73,130.86" fill="#f08330"/>
<polygon points="602.72,129.89 604.92,133.69 600.52,133.69" fill="#f08330"/>
<polygon points="613.52,130.60 615.72,134.40 611.32,134.40" fill="#f08330"/>
<polygon points="624.31,130.60 626.51,134.40 622.11,134.40" fill="#f08330"/>
<polygon points="516.39,54.08 518.59,57.88 514.19,57.88" fill="#1fa84e"/>
<polygon points="527.18,59.75 529.38,63.55 524.98,63.55" fill="#1fa84e"/>
<polygon points="537.98,63.29 540.18,67.09 535.77,67.09" fill="#1fa84e"/>
<polygon points="548.77,70.38 550.97,74.18 546.57,74.18" fill="#1fa84e"/>
<polygon points="559.56,83.84 561.76,87.64 557.36,87.64" fill="#1fa84e"/>
<polygon points="570.35,102.26 572.55,106.06 568.15,106.06" fill="#1fa84e"/>
<polygon points="581.14,123.52 583.34,127.32 578.94,127.32" fill="#1fa84e"/>
<polygon points="591.93,128.47 594.13,132.27 589.73,132.27" fill="#1fa84e"/>
<polygon points="602.72,130.25 604.92,134.05 600.52,134.05" fill="#1fa84e"/>
<polygon points="613.52,130.60 615.72,134.40 611.32,134.40" fill="#1fa84e"/>
<polygon points="624.31,130.60 626.51,134.40 622.11,134.40" fill="#1fa84e"/>
<circle cx="516.39" cy="59.82" r="2.00" fill="#3a5cab"/>
<circle cx="527.18" cy="68.33" r="2.00" fill="#3a5cab"/>
<circle cx="537.98" cy="61.95" r="2.00" fill="#3a5cab"/>
<circle cx="548.77" cy="62.66" r="2.00" fill="#3a5cab"/>
<circle cx="559.56" cy="69.74" r="2.00" fill="#3a5cab"/>
<circle cx="570.35" cy="100.92" r="2.00" fill="#3a5cab"/>
<circle cx="581.14" cy="122.88" r="2.00" fill="#3a5cab"/>
<circle cx="591.93" cy="128.19" r="2.00" fill="#3a5cab"/>
<circle cx="602.72" cy="132.09" r="2.00" fill="#3a5cab"/>
<circle cx="613.52" cy="132.80" r="2.00" fill="#3a5cab"/>
<circle cx="624.31" cy="132.80" r="2.00" fill="#3a5cab"/>
<circle cx="548.77" cy="89.58" r="2.00" fill="#e8202c"/>
<line x1="630.00" y1="12.50" x2="636.20" y2="12.50" stroke="#3a5cab" stroke-width="0.8" />
<circle cx="633.10" cy="12.50" r="1.90" fill="#3a5cab"/>
<text x="640.80" y="14.40" font-size="5.2" font-weight="normal" text-anchor="start" fill="#222" font-family="'Liberation Sans', Arial, sans-serif" >WT</text>
<line x1="630.00" y1="21.24" x2="636.20" y2="21.24" stroke="#1fa84e" stroke-width="0.8" />
<polygon points="633.10,19.15 635.19,22.76 631.01,22.76" fill="#1fa84e"/>
<text x="640.80" y="23.14" font-size="5.2" font-weight="normal" text-anchor="start" fill="#222" font-family="'Liberation Sans', Arial, sans-serif" >T21I</text>
<line x1="630.00" y1="29.98" x2="636.20" y2="29.98" stroke="#f08330" stroke-width="0.8" />
<polygon points="633.10,27.89 635.19,31.50 631.01,31.50" fill="#f08330"/>
<text x="640.80" y="31.88" font-size="5.2" font-weight="normal" text-anchor="start" fill="#222" font-family="'Liberation Sans', Arial, sans-serif" >L50F</text>
<line x1="630.00" y1="38.72" x2="636.20" y2="38.72" stroke="#8a5a22" stroke-width="0.8" />
<polygon points="633.10,36.63 635.19,40.24 631.01,40.24" fill="#8a5a22"/>
<text x="640.80" y="40.62" font-size="5.2" font-weight="normal" text-anchor="start" fill="#222" font-family="'Liberation Sans', Arial, sans-serif" >A191V</text>
<line x1="630.00" y1="47.46" x2="636.20" y2="47.46" stroke="#5a1457" stroke-width="0.8" />
<polygon points="633.10,49.55 635.19,45.94 631.01,45.94" fill="#5a1457"/>
<text x="640.80" y="49.36" font-size="5.2" font-weight="normal" text-anchor="start" fill="#222" font-family="'Liberation Sans', Arial, sans-serif" >E166A</text>
<line x1="630.00" y1="56.20" x2="636.20" y2="56.20" stroke="#1f7a4f" stroke-width="0.8" />
<path d="M631.20 54.30L635.00 58.10M635.00 54.30L631.20 58.10" stroke="#1f7a4f" stroke-width="1.1"/>
<text x="640.80" y="58.10" font-size="5.2" font-weight="normal" text-anchor="start" fill="#222" font-family="'Liberation Sans', Arial, sans-serif" >L50F+E166A</text>
<line x1="630.00" y1="64.94" x2="636.20" y2="64.94" stroke="#f0a865" stroke-width="0.8" />
<circle cx="633.10" cy="64.94" r="1.90" fill="#f0a865"/>
<text x="640.80" y="66.84" font-size="5.2" font-weight="normal" text-anchor="start" fill="#222" font-family="'Liberation Sans', Arial, sans-serif" >T21I+L50F</text>
<line x1="630.00" y1="73.68" x2="636.20" y2="73.68" stroke="#4bb04b" stroke-width="0.8" />
<rect x="631.20" y="71.78" width="3.80" height="3.80" fill="#4bb04b"/>
<text x="640.80" y="75.58" font-size="5.2" font-weight="normal" text-anchor="start" fill="#222" font-family="'Liberation Sans', Arial, sans-serif" >L50F+A191V</text>
<line x1="630.00" y1="82.42" x2="636.20" y2="82.42" stroke="#e8202c" stroke-width="0.8" />
<circle cx="633.10" cy="82.42" r="1.90" fill="#e8202c"/>
<text x="640.80" y="84.32" font-size="5.2" font-weight="normal" text-anchor="start" fill="#222" font-family="'Liberation Sans', Arial, sans-serif" >T21I+L50F+A191V</text>
<line x1="380.00" y1="340.60" x2="380.00" y2="426.10" stroke="#000" stroke-width="1.3" />
<line x1="379.40" y1="425.50" x2="603.40" y2="425.50" stroke="#000" stroke-width="1.3" />
<line x1="377.00" y1="425.50" x2="380.00" y2="425.50" stroke="#000" stroke-width="1.1" />
<text x="375.80" y="427.80" font-size="6.6" font-weight="bold" text-anchor="end" fill="#000" font-family="'Liberation Sans', Arial, sans-serif" >10<tspan font-size="4" dy="-2.6">6</tspan></text>
<line x1="377.00" y1="404.40" x2="380.00" y2="404.40" stroke="#000" stroke-width="1.1" />
<text x="375.80" y="406.70" font-size="6.6" font-weight="bold" text-anchor="end" fill="#000" font-family="'Liberation Sans', Arial, sans-serif" >10<tspan font-size="4" dy="-2.6">7</tspan></text>
<line x1="377.00" y1="383.30" x2="380.00" y2="383.30" stroke="#000" stroke-width="1.1" />
<text x="375.80" y="385.60" font-size="6.6" font-weight="bold" text-anchor="end" fill="#000" font-family="'Liberation Sans', Arial, sans-serif" >10<tspan font-size="4" dy="-2.6">8</tspan></text>
<line x1="377.00" y1="362.20" x2="380.00" y2="362.20" stroke="#000" stroke-width="1.1" />
<text x="375.80" y="364.50" font-size="6.6" font-weight="bold" text-anchor="end" fill="#000" font-family="'Liberation Sans', Arial, sans-serif" >10<tspan font-size="4" dy="-2.6">9</tspan></text>
<line x1="377.00" y1="341.10" x2="380.00" y2="341.10" stroke="#000" stroke-width="1.1" />
<text x="375.80" y="343.40" font-size="6.6" font-weight="bold" text-anchor="end" fill="#000" font-family="'Liberation Sans', Arial, sans-serif" >10<tspan font-size="4" dy="-2.6">10</tspan></text>
<text x="0.00" y="0.00" font-size="6.8" font-weight="bold" text-anchor="middle" fill="#000" font-family="'Liberation Sans', Arial, sans-serif" transform="translate(350.9 382.2) rotate(-90)">RNA copies/ml</text>
<line x1="416.30" y1="425.50" x2="416.30" y2="428.50" stroke="#000" stroke-width="1.1" />
<text x="416.30" y="437.00" font-size="6.6" font-weight="bold" text-anchor="middle" fill="#000" font-family="'Liberation Sans', Arial, sans-serif" >12 hr</text>
<rect x="383.05" y="385.80" width="4.1" height="39.70" fill="#8b9fd6" stroke="#3a5bad" stroke-width="1.0"/>
<rect x="382.55" y="385.30" width="5.10" height="2.30" fill="#3a5bad" />
<line x1="385.10" y1="382.50" x2="385.10" y2="385.80" stroke="#3a5bad" stroke-width="0.7" />
<circle cx="385.10" cy="382.50" r="1.85" fill="#3a5bad"/>
<rect x="390.85" y="386.90" width="4.1" height="38.60" fill="#f39a9a" stroke="#e8303c" stroke-width="1.0"/>
<rect x="390.35" y="386.40" width="5.10" height="2.30" fill="#e8303c" />
<line x1="392.90" y1="381.50" x2="392.90" y2="386.90" stroke="#e8303c" stroke-width="0.7" />
<circle cx="392.90" cy="381.50" r="1.85" fill="#e8303c"/>
<rect x="398.65" y="385.80" width="4.1" height="39.70" fill="#8fd3a5" stroke="#23a455" stroke-width="1.0"/>
<rect x="398.15" y="385.30" width="5.10" height="2.30" fill="#23a455" />
<line x1="400.70" y1="382.00" x2="400.70" y2="385.80" stroke="#23a455" stroke-width="0.7" />
<circle cx="400.70" cy="382.00" r="1.85" fill="#23a455"/>
<rect x="406.45" y="383.80" width="4.1" height="41.70" fill="#c3a8d2" stroke="#8c5ca8" stroke-width="1.0"/>
<rect x="405.95" y="383.30" width="5.10" height="2.30" fill="#8c5ca8" />
<line x1="408.50" y1="377.40" x2="408.50" y2="383.80" stroke="#8c5ca8" stroke-width="0.7" />
<circle cx="408.50" cy="377.40" r="1.85" fill="#8c5ca8"/>
<rect x="414.25" y="400.60" width="4.1" height="24.90" fill="#f7c08e" stroke="#f08532" stroke-width="1.0"/>
<rect x="413.75" y="400.10" width="5.10" height="2.30" fill="#f08532" />
<line x1="416.30" y1="398.80" x2="416.30" y2="400.60" stroke="#f08532" stroke-width="0.7" />
<circle cx="416.30" cy="398.80" r="1.85" fill="#f08532"/>
<rect x="422.05" y="376.60" width="4.1" height="48.90" fill="#777777" stroke="#111111" stroke-width="1.0"/>
<rect x="421.55" y="376.10" width="5.10" height="2.30" fill="#111111" />
<line x1="424.10" y1="374.70" x2="424.10" y2="376.60" stroke="#111111" stroke-width="0.7" />
<circle cx="424.10" cy="374.70" r="1.85" fill="#111111"/>
<rect x="429.85" y="379.20" width="4.1" height="46.30" fill="#c9a77a" stroke="#9a6a34" stroke-width="1.0"/>
<rect x="429.35" y="378.70" width="5.10" height="2.30" fill="#9a6a34" />
<line x1="431.90" y1="375.90" x2="431.90" y2="379.20" stroke="#9a6a34" stroke-width="0.7" />
<circle cx="431.90" cy="375.90" r="1.85" fill="#9a6a34"/>
<rect x="437.65" y="386.30" width="4.1" height="39.20" fill="#8088c2" stroke="#2f3a8e" stroke-width="1.0"/>
<rect x="437.15" y="385.80" width="5.10" height="2.30" fill="#2f3a8e" />
<circle cx="439.70" cy="386.10" r="1.85" fill="#2f3a8e"/>
<rect x="445.45" y="377.70" width="4.1" height="47.80" fill="#a06a96" stroke="#5a0f4e" stroke-width="1.0"/>
<rect x="444.95" y="377.20" width="5.10" height="2.30" fill="#5a0f4e" />
<line x1="447.50" y1="375.70" x2="447.50" y2="377.70" stroke="#5a0f4e" stroke-width="0.7" />
<circle cx="447.50" cy="375.70" r="1.85" fill="#5a0f4e"/>
<line x1="491.40" y1="425.50" x2="491.40" y2="428.50" stroke="#000" stroke-width="1.1" />
<text x="491.40" y="437.00" font-size="6.6" font-weight="bold" text-anchor="middle" fill="#000" font-family="'Liberation Sans', Arial, sans-serif" >24 hr</text>
<rect x="458.15" y="356.00" width="4.1" height="69.50" fill="#8b9fd6" stroke="#3a5bad" stroke-width="1.0"/>
<rect x="457.65" y="355.50" width="5.10" height="2.30" fill="#3a5bad" />
<circle cx="460.20" cy="356.00" r="1.85" fill="#3a5bad"/>
<rect x="465.95" y="360.80" width="4.1" height="64.70" fill="#f39a9a" stroke="#e8303c" stroke-width="1.0"/>
<rect x="465.45" y="360.30" width="5.10" height="2.30" fill="#e8303c" />
<line x1="468.00" y1="358.00" x2="468.00" y2="360.80" stroke="#e8303c" stroke-width="0.7" />
<circle cx="468.00" cy="358.00" r="1.85" fill="#e8303c"/>
<rect x="473.75" y="355.20" width="4.1" height="70.30" fill="#8fd3a5" stroke="#23a455" stroke-width="1.0"/>
<rect x="473.25" y="354.70" width="5.10" height="2.30" fill="#23a455" />
<circle cx="475.80" cy="354.00" r="1.85" fill="#23a455"/>
<rect x="481.55" y="356.50" width="4.1" height="69.00" fill="#c3a8d2" stroke="#8c5ca8" stroke-width="1.0"/>
<rect x="481.05" y="356.00" width="5.10" height="2.30" fill="#8c5ca8" />
<circle cx="483.60" cy="356.70" r="1.85" fill="#8c5ca8"/>
<rect x="489.35" y="360.80" width="4.1" height="64.70" fill="#f7c08e" stroke="#f08532" stroke-width="1.0"/>
<rect x="488.85" y="360.30" width="5.10" height="2.30" fill="#f08532" />
<line x1="491.40" y1="356.00" x2="491.40" y2="360.80" stroke="#f08532" stroke-width="0.7" />
<circle cx="491.40" cy="356.00" r="1.85" fill="#f08532"/>
<rect x="497.15" y="357.30" width="4.1" height="68.20" fill="#777777" stroke="#111111" stroke-width="1.0"/>
<rect x="496.65" y="356.80" width="5.10" height="2.30" fill="#111111" />
<line x1="499.20" y1="355.50" x2="499.20" y2="357.30" stroke="#111111" stroke-width="0.7" />
<circle cx="499.20" cy="355.50" r="1.85" fill="#111111"/>
<rect x="504.95" y="361.90" width="4.1" height="63.60" fill="#c9a77a" stroke="#9a6a34" stroke-width="1.0"/>
<rect x="504.45" y="361.40" width="5.10" height="2.30" fill="#9a6a34" />
<line x1="507.00" y1="358.50" x2="507.00" y2="361.90" stroke="#9a6a34" stroke-width="0.7" />
<circle cx="507.00" cy="358.50" r="1.85" fill="#9a6a34"/>
<rect x="512.75" y="354.50" width="4.1" height="71.00" fill="#8088c2" stroke="#2f3a8e" stroke-width="1.0"/>
<rect x="512.25" y="354.00" width="5.10" height="2.30" fill="#2f3a8e" />
<circle cx="514.80" cy="354.00" r="1.85" fill="#2f3a8e"/>
<rect x="520.55" y="366.00" width="4.1" height="59.50" fill="#a06a96" stroke="#5a0f4e" stroke-width="1.0"/>
<rect x="520.05" y="365.50" width="5.10" height="2.30" fill="#5a0f4e" />
<circle cx="522.60" cy="365.70" r="1.85" fill="#5a0f4e"/>
<line x1="566.60" y1="425.50" x2="566.60" y2="428.50" stroke="#000" stroke-width="1.1" />
<text x="566.60" y="437.00" font-size="6.6" font-weight="bold" text-anchor="middle" fill="#000" font-family="'Liberation Sans', Arial, sans-serif" >36 hr</text>
<rect x="533.35" y="343.50" width="4.1" height="82.00" fill="#8b9fd6" stroke="#3a5bad" stroke-width="1.0"/>
<rect x="532.85" y="343.00" width="5.10" height="2.30" fill="#3a5bad" />
<circle cx="535.40" cy="343.10" r="1.85" fill="#3a5bad"/>
<rect x="541.15" y="350.00" width="4.1" height="75.50" fill="#f39a9a" stroke="#e8303c" stroke-width="1.0"/>
<rect x="540.65" y="349.50" width="5.10" height="2.30" fill="#e8303c" />
<circle cx="543.20" cy="349.80" r="1.85" fill="#e8303c"/>
<rect x="548.95" y="346.50" width="4.1" height="79.00" fill="#8fd3a5" stroke="#23a455" stroke-width="1.0"/>
<rect x="548.45" y="346.00" width="5.10" height="2.30" fill="#23a455" />
<circle cx="551.00" cy="346.20" r="1.85" fill="#23a455"/>
<rect x="556.75" y="345.00" width="4.1" height="80.50" fill="#c3a8d2" stroke="#8c5ca8" stroke-width="1.0"/>
<rect x="556.25" y="344.50" width="5.10" height="2.30" fill="#8c5ca8" />
<circle cx="558.80" cy="344.70" r="1.85" fill="#8c5ca8"/>
<rect x="564.55" y="354.00" width="4.1" height="71.50" fill="#f7c08e" stroke="#f08532" stroke-width="1.0"/>
<rect x="564.05" y="353.50" width="5.10" height="2.30" fill="#f08532" />
<circle cx="566.60" cy="353.80" r="1.85" fill="#f08532"/>
<rect x="572.35" y="348.00" width="4.1" height="77.50" fill="#777777" stroke="#111111" stroke-width="1.0"/>
<rect x="571.85" y="347.50" width="5.10" height="2.30" fill="#111111" />
<circle cx="574.40" cy="347.80" r="1.85" fill="#111111"/>
<rect x="580.15" y="351.00" width="4.1" height="74.50" fill="#c9a77a" stroke="#9a6a34" stroke-width="1.0"/>
<rect x="579.65" y="350.50" width="5.10" height="2.30" fill="#9a6a34" />
<circle cx="582.20" cy="349.80" r="1.85" fill="#9a6a34"/>
<rect x="587.95" y="348.50" width="4.1" height="77.00" fill="#8088c2" stroke="#2f3a8e" stroke-width="1.0"/>
<rect x="587.45" y="348.00" width="5.10" height="2.30" fill="#2f3a8e" />
<circle cx="590.00" cy="348.30" r="1.85" fill="#2f3a8e"/>
<rect x="595.75" y="362.50" width="4.1" height="63.00" fill="#a06a96" stroke="#5a0f4e" stroke-width="1.0"/>
<rect x="595.25" y="362.00" width="5.10" height="2.30" fill="#5a0f4e" />
<circle cx="597.80" cy="362.10" r="1.85" fill="#5a0f4e"/>
<text x="416.80" y="368.40" font-size="7" font-weight="bold" text-anchor="middle" fill="#333" font-family="'Liberation Sans', Arial, sans-serif" >*</text>
<text x="542.80" y="337.40" font-size="7" font-weight="bold" text-anchor="middle" fill="#333" font-family="'Liberation Sans', Arial, sans-serif" >*</text>
<text x="567.40" y="337.40" font-size="7" font-weight="bold" text-anchor="middle" fill="#333" font-family="'Liberation Sans', Arial, sans-serif" >**</text>
<text x="575.30" y="337.40" font-size="7" font-weight="bold" text-anchor="middle" fill="#333" font-family="'Liberation Sans', Arial, sans-serif" >*</text>
<text x="590.20" y="337.40" font-size="7" font-weight="bold" text-anchor="middle" fill="#333" font-family="'Liberation Sans', Arial, sans-serif" >*</text>
<text x="600.20" y="337.40" font-size="7" font-weight="bold" text-anchor="middle" fill="#333" font-family="'Liberation Sans', Arial, sans-serif" >**</text>
<circle cx="616.6" cy="331.00" r="1.6" fill="#3a5bad"/>
<text x="626.40" y="333.40" font-size="6.9" font-weight="normal" text-anchor="start" fill="#222" font-family="'Liberation Sans', Arial, sans-serif" >WT</text>
<circle cx="616.6" cy="342.50" r="1.6" fill="#e8303c"/>
<text x="626.40" y="344.90" font-size="6.9" font-weight="normal" text-anchor="start" fill="#222" font-family="'Liberation Sans', Arial, sans-serif" >T21I</text>
<circle cx="616.6" cy="354.00" r="1.6" fill="#23a455"/>
<text x="626.40" y="356.40" font-size="6.9" font-weight="normal" text-anchor="start" fill="#222" font-family="'Liberation Sans', Arial, sans-serif" >L50F</text>
<circle cx="616.6" cy="365.50" r="1.6" fill="#8c5ca8"/>
<text x="626.40" y="367.90" font-size="6.9" font-weight="normal" text-anchor="start" fill="#222" font-family="'Liberation Sans', Arial, sans-serif" >A191V</text>
<circle cx="616.6" cy="377.00" r="1.6" fill="#f08532"/>
<text x="626.40" y="379.40" font-size="6.9" font-weight="normal" text-anchor="start" fill="#222" font-family="'Liberation Sans', Arial, sans-serif" >E166A</text>
<circle cx="616.6" cy="388.50" r="1.6" fill="#111111"/>
<text x="626.40" y="390.90" font-size="6.9" font-weight="normal" text-anchor="start" fill="#222" font-family="'Liberation Sans', Arial, sans-serif" >L50F+E166A</text>
<circle cx="616.6" cy="400.00" r="1.6" fill="#9a6a34"/>
<text x="626.40" y="402.40" font-size="6.9" font-weight="normal" text-anchor="start" fill="#222" font-family="'Liberation Sans', Arial, sans-serif" >T21I+L50F</text>
<circle cx="616.6" cy="411.50" r="1.6" fill="#2f3a8e"/>
<text x="626.40" y="413.90" font-size="6.9" font-weight="normal" text-anchor="start" fill="#222" font-family="'Liberation Sans', Arial, sans-serif" >L50F+A191V</text>
<circle cx="616.6" cy="423.00" r="1.6" fill="#5a0f4e"/>
<text x="626.40" y="425.40" font-size="6.9" font-weight="normal" text-anchor="start" fill="#222" font-family="'Liberation Sans', Arial, sans-serif" >T21I+L50F+A191V</text>
<g id="protein">
<polyline points="293.20,28.20 292.88,28.28 292.48,28.40 292.00,28.54 291.46,28.69 290.86,28.83 290.21,28.94 289.52,29.00 288.80,29.00 288.00,28.90 287.09,28.72 286.12,28.47 285.11,28.21 284.10,27.94 283.14,27.72 282.26,27.56 281.50,27.50 280.84,27.52 280.25,27.58 279.72,27.68 279.24,27.84 278.81,28.04 278.43,28.30 278.09,28.62 277.80,29.00 277.58,29.47 277.47,30.04 277.41,30.68 277.40,31.37 277.39,32.08 277.36,32.79 277.27,33.47 277.10,34.10 276.86,34.71 276.60,35.34 276.30,35.96 275.97,36.58 275.60,37.15 275.18,37.68 274.72,38.13 274.20,38.50 273.61,38.77 272.96,38.97 272.24,39.10 271.49,39.17 270.71,39.20 269.92,39.21 269.15,39.20 268.40,39.20 267.64,39.18 266.85,39.13 266.03,39.04 265.22,38.94 264.45,38.83 263.72,38.71 263.06,38.60 262.50,38.50 262.03,38.40 261.64,38.29 261.31,38.17 261.03,38.06 260.80,37.95 260.61,37.85 260.44,37.76 260.30,37.70" fill="none" stroke="#34a64a" stroke-width="1.55" stroke-linecap="round" stroke-linejoin="round"/>
<polyline points="298.00,30.00 298.47,29.74 299.10,29.36 299.85,28.91 300.68,28.43 301.54,27.95 302.42,27.53 303.25,27.19 304.00,27.00 304.68,26.98 305.34,27.12 305.98,27.35 306.61,27.64 307.24,27.92 307.88,28.14 308.53,28.25 309.20,28.20 309.89,27.98 310.57,27.64 311.26,27.20 311.96,26.70 312.68,26.16 313.42,25.61 314.19,25.08 315.00,24.60 315.86,24.13 316.78,23.63 317.74,23.11 318.71,22.61 319.69,22.12 320.64,21.68 321.55,21.30 322.40,21.00 323.19,20.78 323.95,20.61 324.68,20.50 325.38,20.43 326.05,20.40 326.71,20.41 327.36,20.45 328.00,20.50 328.65,20.60 329.33,20.77 330.00,20.98 330.65,21.22 331.26,21.46 331.80,21.68 332.25,21.87 332.60,22.00" fill="none" stroke="#34a64a" stroke-width="1.55" stroke-linecap="round" stroke-linejoin="round"/>
<polyline points="305.00,28.50 305.40,28.60 305.94,28.77 306.57,28.98 307.28,29.19 308.03,29.37 308.79,29.49 309.52,29.51 310.20,29.40 310.84,29.14 311.48,28.74 312.12,28.25 312.76,27.69 313.39,27.11 314.03,26.52 314.66,25.98 315.30,25.50 315.93,25.05 316.55,24.59 317.16,24.13 317.78,23.69 318.41,23.29 319.05,22.95 319.71,22.68 320.40,22.50 321.13,22.43 321.90,22.46 322.69,22.56 323.50,22.72 324.31,22.91 325.10,23.12 325.87,23.32 326.60,23.50 327.33,23.67 328.07,23.88 328.82,24.09 329.54,24.31 330.21,24.53 330.81,24.72 331.31,24.88 331.70,25.00" fill="none" stroke="#34a64a" stroke-width="1.55" stroke-linecap="round" stroke-linejoin="round"/>
<polyline points="353.40,15.80 353.85,15.64 354.46,15.38 355.18,15.06 355.98,14.74 356.82,14.46 357.66,14.28 358.47,14.24 359.20,14.40 359.90,14.77 360.63,15.31 361.36,15.98 362.07,16.76 362.74,17.60 363.35,18.48 363.88,19.35 364.30,20.20 364.62,21.04 364.87,21.92 365.04,22.83 365.15,23.76 365.19,24.70 365.18,25.64 365.11,26.58 365.00,27.50 364.83,28.45 364.60,29.46 364.30,30.49 363.96,31.51 363.56,32.49 363.11,33.38 362.63,34.17 362.10,34.80 361.51,35.28 360.84,35.62 360.12,35.87 359.35,36.02 358.57,36.12 357.78,36.19 357.02,36.24 356.30,36.30 355.58,36.35 354.82,36.34 354.04,36.31 353.29,36.24 352.58,36.17 351.94,36.10 351.41,36.04 351.00,36.00" fill="none" stroke="#34a64a" stroke-width="1.55" stroke-linecap="round" stroke-linejoin="round"/>
<polyline points="340.20,37.70 340.29,37.99 340.37,38.37 340.46,38.82 340.59,39.33 340.76,39.86 340.99,40.40 341.30,40.92 341.70,41.40 342.20,41.89 342.78,42.42 343.43,42.98 344.14,43.52 344.92,44.02 345.74,44.45 346.60,44.79 347.50,45.00 348.47,45.05 349.52,44.97 350.65,44.78 351.81,44.52 352.98,44.24 354.14,43.97 355.25,43.74 356.30,43.60 357.30,43.50 358.30,43.40 359.27,43.30 360.23,43.24 361.14,43.22 362.01,43.26 362.84,43.38 363.60,43.60 364.31,43.93 364.99,44.36 365.63,44.87 366.21,45.44 366.75,46.05 367.23,46.70 367.65,47.35 368.00,48.00 368.28,48.69 368.50,49.45 368.66,50.26 368.76,51.08 368.81,51.88 368.82,52.62 368.78,53.27 368.70,53.80 368.60,54.21 368.47,54.53 368.31,54.78 368.10,54.96 367.83,55.09 367.48,55.19 367.04,55.25 366.50,55.30 365.81,55.30 364.97,55.21 364.01,55.08 362.99,54.91 361.95,54.75 360.94,54.61 360.01,54.52 359.20,54.50 358.48,54.57 357.79,54.71 357.14,54.89 356.54,55.10 356.00,55.32 355.52,55.52 355.12,55.69 354.80,55.80" fill="none" stroke="#34a64a" stroke-width="1.55" stroke-linecap="round" stroke-linejoin="round"/>
<polyline points="264.00,69.90 264.80,69.57 265.87,69.13 267.14,68.60 268.55,68.02 270.03,67.39 271.51,66.75 272.92,66.11 274.20,65.50 275.39,64.88 276.57,64.22 277.73,63.55 278.87,62.86 279.98,62.19 281.04,61.54 282.05,60.94 283.00,60.40 283.87,59.90 284.66,59.41 285.39,58.95 286.09,58.53 286.76,58.15 287.42,57.83 288.10,57.58 288.80,57.40 289.56,57.32 290.39,57.35 291.23,57.46 292.06,57.61 292.85,57.79 293.56,57.97 294.15,58.11 294.60,58.20" fill="none" stroke="#34a64a" stroke-width="1.55" stroke-linecap="round" stroke-linejoin="round"/>
<polyline points="278.00,57.00 278.23,57.32 278.54,57.77 278.91,58.29 279.31,58.88 279.74,59.47 280.18,60.05 280.60,60.57 281.00,61.00 281.36,61.39 281.71,61.80 282.05,62.20 282.39,62.55 282.74,62.84 283.12,63.02 283.54,63.09 284.00,63.00 284.55,62.69 285.19,62.17 285.88,61.49 286.59,60.73 287.27,59.95 287.90,59.22 288.42,58.62 288.80,58.20" fill="none" stroke="#34a64a" stroke-width="1.55" stroke-linecap="round" stroke-linejoin="round"/>
<polyline points="262.00,80.40 261.73,80.72 261.35,81.14 260.90,81.63 260.41,82.19 259.92,82.80 259.48,83.44 259.13,84.11 258.90,84.80 258.78,85.55 258.72,86.40 258.72,87.31 258.78,88.24 258.90,89.15 259.08,90.01 259.31,90.77 259.60,91.40 259.98,91.93 260.48,92.41 261.04,92.84 261.66,93.19 262.30,93.45 262.92,93.62 263.50,93.67 264.00,93.60 264.45,93.34 264.90,92.86 265.32,92.24 265.73,91.54 266.09,90.82 266.41,90.15 266.69,89.58 266.90,89.20" fill="none" stroke="#34a64a" stroke-width="1.55" stroke-linecap="round" stroke-linejoin="round"/>
<polyline points="264.00,93.60 264.50,99.00" fill="none" stroke="#34a64a" stroke-width="1.55" stroke-linecap="round" stroke-linejoin="round"/>
<polyline points="280.80,99.40 281.08,99.37 281.46,99.30 281.92,99.21 282.42,99.13 282.94,99.08 283.46,99.09 283.96,99.19 284.40,99.40 284.83,99.72 285.28,100.12 285.75,100.60 286.19,101.15 286.59,101.75 286.92,102.40 287.17,103.09 287.30,103.80 287.28,104.57 287.10,105.42 286.82,106.33 286.48,107.28 286.13,108.24 285.82,109.20 285.59,110.12 285.50,111.00 285.51,111.82 285.56,112.61 285.66,113.38 285.82,114.14 286.04,114.90 286.32,115.68 286.67,116.47 287.10,117.30 287.68,118.15 288.43,119.02 289.29,119.90 290.20,120.79 291.09,121.71 291.90,122.65 292.55,123.61 293.00,124.60 293.20,125.65 293.20,126.76 293.06,127.92 292.83,129.09 292.57,130.25 292.35,131.38 292.20,132.43 292.20,133.40 292.29,134.30 292.38,135.16 292.52,135.98 292.70,136.76 292.96,137.47 293.32,138.12 293.79,138.70 294.40,139.20 295.19,139.62 296.17,139.98 297.28,140.28 298.48,140.50 299.72,140.66 300.95,140.74 302.13,140.76 303.20,140.70 304.21,140.56 305.23,140.33 306.24,140.03 307.22,139.66 308.15,139.23 309.02,138.75 309.81,138.24 310.50,137.70 311.11,137.10 311.67,136.41 312.16,135.67 312.59,134.89 312.93,134.10 313.19,133.32 313.35,132.58 313.40,131.90 313.33,131.29 313.12,130.73 312.80,130.21 312.41,129.70 311.95,129.19 311.47,128.67 310.97,128.11 310.50,127.50 310.01,126.84 309.47,126.15 308.89,125.43 308.30,124.69 307.71,123.94 307.13,123.19 306.59,122.44 306.10,121.70 305.66,120.97 305.24,120.23 304.84,119.49 304.47,118.75 304.12,118.01 303.79,117.27 303.49,116.53 303.20,115.80 302.94,115.03 302.69,114.21 302.47,113.36 302.27,112.53 302.09,111.75 301.94,111.04 301.81,110.45 301.70,110.00" fill="none" stroke="#34a64a" stroke-width="1.55" stroke-linecap="round" stroke-linejoin="round"/>
<polyline points="280.00,99.40 279.88,99.98 279.72,100.76 279.52,101.69 279.31,102.72 279.10,103.79 278.90,104.84 278.73,105.83 278.60,106.70 278.51,107.43 278.44,108.06 278.40,108.64 278.37,109.20 278.36,109.78 278.36,110.41 278.37,111.14 278.40,112.00 278.43,113.04 278.46,114.24 278.50,115.55 278.56,116.91 278.64,118.26 278.75,119.55 278.90,120.72 279.10,121.70 279.35,122.48 279.64,123.12 279.96,123.64 280.32,124.09 280.71,124.51 281.12,124.94 281.55,125.42 282.00,126.00 282.48,126.65 283.01,127.33 283.58,128.03 284.16,128.76 284.74,129.51 285.32,130.29 285.88,131.08 286.40,131.90 286.88,132.76 287.34,133.66 287.77,134.60 288.20,135.56 288.63,136.51 289.06,137.45 289.52,138.35 290.00,139.20 290.48,140.01 290.94,140.79 291.40,141.55 291.88,142.28 292.39,142.99 292.97,143.68 293.63,144.35 294.40,145.00 295.33,145.62 296.43,146.20 297.64,146.75 298.89,147.29 300.14,147.81 301.31,148.33 302.35,148.86 303.20,149.40 303.86,149.91 304.41,150.36 304.85,150.80 305.20,151.24 305.48,151.73 305.72,152.29 305.92,152.97 306.10,153.80 306.21,154.84 306.20,156.08 306.12,157.46 306.01,158.90 305.91,160.34 305.86,161.72 305.91,162.96 306.10,164.00 306.40,164.85 306.77,165.60 307.20,166.24 307.71,166.80 308.28,167.28 308.94,167.70 309.68,168.07 310.50,168.40 311.45,168.66 312.53,168.83 313.72,168.92 314.98,168.96 316.26,168.97 317.55,168.97 318.81,168.97 320.00,169.00 321.15,169.00 322.29,168.93 323.43,168.82 324.56,168.72 325.66,168.67 326.74,168.71 327.79,168.87 328.80,169.20 329.74,169.75 330.60,170.49 331.42,171.38 332.21,172.35 333.02,173.34 333.87,174.28 334.78,175.12 335.80,175.80 336.95,176.36 338.24,176.90 339.60,177.38 340.99,177.79 342.38,178.11 343.71,178.34 344.93,178.44 346.00,178.40 346.95,178.15 347.83,177.69 348.65,177.07 349.39,176.36 350.05,175.64 350.62,174.95 351.11,174.39 351.50,174.00" fill="none" stroke="#34a64a" stroke-width="1.55" stroke-linecap="round" stroke-linejoin="round"/>
<polyline points="306.10,121.70 306.57,122.28 307.20,123.08 307.95,124.03 308.78,125.08 309.65,126.15 310.50,127.21 311.30,128.18 312.00,129.00 312.59,129.74 313.12,130.48 313.60,131.19 314.06,131.84 314.54,132.42 315.05,132.89 315.63,133.22 316.30,133.40 317.09,133.39 317.98,133.20 318.95,132.88 319.94,132.45 320.94,131.95 321.91,131.42 322.81,130.89 323.60,130.40 324.32,129.89 325.01,129.30 325.66,128.66 326.26,128.01 326.80,127.39 327.28,126.82 327.68,126.35 328.00,126.00" fill="none" stroke="#34a64a" stroke-width="1.55" stroke-linecap="round" stroke-linejoin="round"/>
<polyline points="324.80,137.90 324.25,138.90 323.46,140.25 322.50,141.86 321.48,143.64 320.48,145.49 319.59,147.31 318.90,149.02 318.50,150.50 318.35,151.84 318.35,153.15 318.50,154.42 318.78,155.62 319.20,156.75 319.74,157.76 320.41,158.65 321.20,159.40 322.21,160.01 323.50,160.52 324.97,160.91 326.54,161.19 328.12,161.36 329.62,161.42 330.94,161.37 332.00,161.20 332.83,160.88 333.54,160.38 334.13,159.74 334.61,159.01 334.98,158.21 335.27,157.38 335.47,156.57 335.60,155.80 335.57,155.04 335.32,154.23 334.94,153.40 334.49,152.56 334.05,151.73 333.69,150.93 333.49,150.18 333.50,149.50 333.73,148.88 334.10,148.29 334.59,147.74 335.18,147.23 335.84,146.75 336.54,146.31 337.27,145.89 338.00,145.50 338.76,145.16 339.57,144.87 340.44,144.63 341.34,144.41 342.27,144.20 343.19,143.99 344.11,143.76 345.00,143.50 345.88,143.21 346.78,142.91 347.68,142.60 348.58,142.28 349.47,141.96 350.34,141.64 351.19,141.32 352.00,141.00 352.79,140.70 353.58,140.41 354.36,140.13 355.11,139.85 355.82,139.55 356.50,139.24 357.13,138.89 357.70,138.50 358.22,138.07 358.71,137.59 359.15,137.09 359.55,136.57 359.90,136.03 360.19,135.48 360.43,134.94 360.60,134.40 360.67,133.87 360.63,133.35 360.51,132.83 360.34,132.31 360.17,131.77 360.01,131.21 359.91,130.62 359.90,130.00 359.95,129.33 360.02,128.62 360.11,127.87 360.24,127.10 360.41,126.33 360.64,125.58 360.93,124.87 361.30,124.20 361.77,123.59 362.36,123.03 363.03,122.51 363.75,122.00 364.48,121.49 365.19,120.97 365.84,120.41 366.40,119.80 366.90,119.10 367.37,118.31 367.81,117.47 368.22,116.62 368.59,115.81 368.91,115.07 369.18,114.46 369.40,114.00" fill="none" stroke="#34a64a" stroke-width="1.55" stroke-linecap="round" stroke-linejoin="round"/>
<polyline points="333.80,150.50 334.62,150.96 335.72,151.62 337.02,152.41 338.48,153.26 340.01,154.10 341.57,154.85 343.08,155.44 344.50,155.80 345.88,155.95 347.32,155.97 348.78,155.88 350.24,155.68 351.65,155.38 352.98,154.99 354.21,154.53 355.30,154.00 356.25,153.36 357.08,152.59 357.82,151.72 358.48,150.77 359.07,149.78 359.61,148.79 360.11,147.81 360.60,146.90 361.05,146.05 361.45,145.23 361.80,144.43 362.10,143.63 362.37,142.81 362.60,141.94 362.81,141.01 363.00,140.00 363.13,138.86 363.17,137.59 363.16,136.23 363.13,134.84 363.11,133.48 363.15,132.18 363.26,131.00 363.50,130.00 363.84,129.18 364.26,128.51 364.74,127.94 365.28,127.45 365.87,127.00 366.50,126.57 367.18,126.11 367.90,125.60 368.71,125.07 369.66,124.57 370.68,124.07 371.74,123.57 372.77,123.06 373.72,122.50 374.55,121.88 375.20,121.20 375.67,120.38 376.00,119.43 376.22,118.39 376.36,117.33 376.44,116.30 376.49,115.36 376.53,114.57 376.60,114.00" fill="none" stroke="#34a64a" stroke-width="1.55" stroke-linecap="round" stroke-linejoin="round"/>
<polyline points="326.00,126.50 326.28,126.65 326.61,126.84 327.00,127.06 327.46,127.32 327.98,127.60 328.58,127.89 329.25,128.19 330.00,128.50 330.87,128.83 331.88,129.19 332.98,129.58 334.14,129.98 335.33,130.38 336.51,130.75 337.65,131.10 338.70,131.40 339.69,131.68 340.66,131.98 341.60,132.26 342.52,132.51 343.43,132.72 344.31,132.87 345.16,132.93 346.00,132.90 346.82,132.80 347.61,132.66 348.39,132.46 349.14,132.18 349.87,131.82 350.57,131.34 351.25,130.74 351.90,130.00 352.54,129.05 353.17,127.90 353.78,126.58 354.37,125.17 354.91,123.73 355.41,122.32 355.84,120.99 356.20,119.80 356.47,118.74 356.65,117.74 356.76,116.78 356.82,115.87 356.86,115.00 356.89,114.15 356.93,113.32 357.00,112.50 357.10,111.66 357.20,110.81 357.30,109.96 357.40,109.14 357.49,108.38 357.58,107.71 357.65,107.14 357.70,106.70" fill="none" stroke="#34a64a" stroke-width="1.55" stroke-linecap="round" stroke-linejoin="round"/>
<polyline points="387.00,79.80 386.74,80.26 386.36,80.86 385.90,81.58 385.41,82.39 384.93,83.24 384.50,84.09 384.18,84.93 384.00,85.70 383.94,86.43 383.96,87.16 384.04,87.88 384.20,88.61 384.42,89.33 384.72,90.05 385.08,90.78 385.50,91.50 386.08,92.21 386.85,92.91 387.74,93.61 388.68,94.31 389.57,95.02 390.36,95.74 390.96,96.50 391.30,97.30 391.34,98.14 391.15,99.02 390.78,99.92 390.30,100.85 389.76,101.79 389.22,102.73 388.75,103.67 388.40,104.60 388.12,105.53 387.84,106.48 387.57,107.43 387.33,108.38 387.14,109.32 387.01,110.25 386.95,111.14 387.00,112.00 387.15,112.82 387.39,113.62 387.71,114.40 388.10,115.15 388.54,115.88 389.01,116.60 389.50,117.31 390.00,118.00 390.56,118.67 391.20,119.30 391.90,119.90 392.62,120.50 393.32,121.10 393.98,121.70 394.55,122.33 395.00,123.00 395.34,123.70 395.61,124.43 395.81,125.19 395.96,125.95 396.05,126.72 396.10,127.49 396.11,128.25 396.10,129.00 396.01,129.75 395.80,130.52 395.53,131.30 395.23,132.07 394.95,132.82 394.72,133.54 394.59,134.20 394.60,134.80 394.78,135.35 395.10,135.86 395.53,136.33 396.01,136.76 396.50,137.15 396.96,137.49 397.34,137.77 397.60,138.00" fill="none" stroke="#34a64a" stroke-width="1.55" stroke-linecap="round" stroke-linejoin="round"/>
<polyline points="395.70,93.70 395.62,94.33 395.47,95.19 395.30,96.21 395.12,97.33 394.98,98.50 394.89,99.66 394.89,100.75 395.00,101.70 395.24,102.54 395.58,103.33 396.00,104.07 396.48,104.79 397.00,105.49 397.54,106.18 398.08,106.88 398.60,107.60 399.13,108.32 399.71,109.04 400.32,109.75 400.93,110.46 401.53,111.17 402.09,111.90 402.58,112.64 403.00,113.40 403.33,114.19 403.60,115.01 403.82,115.84 404.00,116.69 404.15,117.53 404.27,118.37 404.38,119.20 404.50,120.00 404.58,120.79 404.59,121.58 404.56,122.36 404.53,123.14 404.51,123.89 404.55,124.63 404.67,125.33 404.90,126.00 405.24,126.64 405.66,127.25 406.16,127.83 406.71,128.39 407.30,128.92 407.92,129.44 408.56,129.93 409.20,130.40 409.89,130.82 410.67,131.18 411.49,131.50 412.33,131.81 413.15,132.13 413.90,132.49 414.57,132.90 415.10,133.40 415.51,133.99 415.83,134.65 416.08,135.37 416.26,136.12 416.38,136.90 416.45,137.68 416.49,138.46 416.50,139.20 416.45,139.96 416.31,140.79 416.12,141.63 415.89,142.46 415.65,143.25 415.42,143.96 415.23,144.55 415.10,145.00" fill="none" stroke="#34a64a" stroke-width="1.55" stroke-linecap="round" stroke-linejoin="round"/>
<polyline points="419.50,148.70 420.17,148.74 421.06,148.77 422.12,148.81 423.30,148.87 424.55,148.95 425.81,149.05 427.05,149.20 428.20,149.40 429.36,149.68 430.60,150.04 431.88,150.45 433.14,150.89 434.34,151.33 435.42,151.73 436.32,152.06 437.00,152.30" fill="none" stroke="#34a64a" stroke-width="1.55" stroke-linecap="round" stroke-linejoin="round"/>
<polyline points="374.20,153.80 373.85,153.64 373.37,153.39 372.81,153.09 372.18,152.78 371.53,152.50 370.90,152.30 370.31,152.22 369.80,152.30 369.34,152.55 368.87,152.92 368.41,153.39 367.98,153.95 367.60,154.58 367.28,155.26 367.04,155.97 366.90,156.70 366.86,157.49 366.90,158.39 367.02,159.35 367.20,160.35 367.44,161.35 367.72,162.31 368.05,163.21 368.40,164.00 368.79,164.70 369.24,165.34 369.74,165.93 370.27,166.48 370.85,166.99 371.45,167.47 372.07,167.94 372.70,168.40 373.40,168.85 374.20,169.30 375.05,169.72 375.92,170.13 376.75,170.49 377.50,170.81 378.13,171.09 378.60,171.30" fill="none" stroke="#34a64a" stroke-width="1.55" stroke-linecap="round" stroke-linejoin="round"/>
<polyline points="346.30,182.80 345.87,182.78 345.26,182.72 344.54,182.65 343.76,182.59 342.96,182.56 342.20,182.61 341.53,182.74 341.00,183.00 340.62,183.38 340.32,183.87 340.10,184.44 339.93,185.07 339.79,185.77 339.65,186.50 339.49,187.25 339.30,188.00 339.04,188.80 338.73,189.69 338.40,190.63 338.08,191.59 337.79,192.54 337.58,193.45 337.47,194.28 337.50,195.00 337.68,195.65 337.99,196.26 338.40,196.83 338.89,197.34 339.42,197.78 339.97,198.13 340.50,198.37 341.00,198.50 341.50,198.46 342.06,198.24 342.64,197.89 343.22,197.47 343.77,197.02 344.27,196.59 344.69,196.23 345.00,196.00" fill="none" stroke="#34a64a" stroke-width="1.55" stroke-linecap="round" stroke-linejoin="round"/>
<polyline points="337.50,196.80 337.63,197.20 337.79,197.75 337.98,198.39 338.20,199.11 338.44,199.86 338.71,200.61 339.00,201.34 339.30,202.00 339.65,202.64 340.08,203.32 340.54,204.01 341.01,204.68 341.47,205.30 341.89,205.87 342.24,206.34 342.50,206.70" fill="none" stroke="#34a64a" stroke-width="1.55" stroke-linecap="round" stroke-linejoin="round"/>
<polyline points="356.40,227.10 356.65,227.52 356.96,228.10 357.32,228.80 357.74,229.56 358.22,230.33 358.76,231.06 359.35,231.70 360.00,232.20 360.70,232.58 361.43,232.90 362.21,233.16 363.05,233.36 363.97,233.52 364.97,233.62 366.08,233.68 367.30,233.70 368.71,233.63 370.32,233.45 372.08,233.19 373.90,232.91 375.72,232.62 377.48,232.39 379.09,232.23 380.50,232.20 381.69,232.28 382.71,232.44 383.61,232.66 384.43,232.93 385.22,233.25 386.01,233.61 386.86,233.99 387.80,234.40 388.81,234.88 389.84,235.46 390.89,236.11 391.96,236.78 393.06,237.43 394.18,238.01 395.33,238.48 396.50,238.80 397.76,238.98 399.14,239.05 400.57,239.04 402.01,238.96 403.41,238.81 404.71,238.61 405.86,238.37 406.80,238.10 407.54,237.84 408.13,237.57 408.59,237.28 408.94,236.94 409.20,236.51 409.40,235.96 409.56,235.27 409.70,234.40 409.78,233.30 409.75,231.97 409.64,230.47 409.49,228.86 409.32,227.22 409.16,225.60 409.05,224.07 409.00,222.70 409.01,221.42 409.03,220.15 409.06,218.90 409.12,217.71 409.21,216.60 409.34,215.60 409.50,214.72 409.70,214.00 409.94,213.49 410.20,213.19 410.50,213.04 410.83,212.98 411.20,212.96 411.62,212.91 412.08,212.78 412.60,212.50 413.21,212.10 413.91,211.64 414.69,211.12 415.49,210.57 416.30,209.98 417.08,209.37 417.79,208.74 418.40,208.10 418.94,207.45 419.45,206.78 419.93,206.09 420.36,205.38 420.73,204.65 421.03,203.89 421.26,203.11 421.40,202.30 421.40,201.47 421.23,200.62 420.96,199.75 420.64,198.85 420.32,197.93 420.06,196.98 419.90,196.00 419.90,195.00 420.09,193.89 420.42,192.66 420.86,191.35 421.36,190.04 421.86,188.79 422.34,187.66 422.73,186.71 423.00,186.00" fill="none" stroke="#34a64a" stroke-width="1.55" stroke-linecap="round" stroke-linejoin="round"/>
<polyline points="433.00,171.50 433.21,171.91 433.51,172.44 433.86,173.07 434.24,173.78 434.63,174.55 434.99,175.36 435.29,176.18 435.50,177.00 435.64,177.82 435.74,178.66 435.80,179.53 435.82,180.44 435.81,181.38 435.76,182.37 435.69,183.41 435.60,184.50 435.51,185.72 435.45,187.08 435.37,188.53 435.26,190.00 435.07,191.44 434.79,192.80 434.37,194.00 433.80,195.00 433.00,195.75 431.97,196.29 430.78,196.67 429.50,196.97 428.21,197.24 426.98,197.54 425.89,197.94 425.00,198.50 424.37,199.20 423.94,199.96 423.65,200.79 423.41,201.67 423.17,202.59 422.83,203.54 422.33,204.51 421.60,205.50 420.58,206.51 419.33,207.58 417.92,208.67 416.41,209.79 414.90,210.93 413.44,212.06 412.12,213.19 411.00,214.30 410.04,215.40 409.16,216.52 408.35,217.64 407.62,218.76 407.00,219.87 406.48,220.95 406.08,221.99 405.80,223.00 405.69,223.96 405.76,224.87 405.97,225.75 406.27,226.61 406.62,227.45 406.99,228.29 407.33,229.14 407.60,230.00 407.83,230.92 408.07,231.91 408.32,232.93 408.56,233.94 408.79,234.89 409.00,235.74 409.17,236.46 409.30,237.00" fill="none" stroke="#34a64a" stroke-width="1.55" stroke-linecap="round" stroke-linejoin="round"/>
<polyline points="414.60,191.50 414.78,192.22 415.07,193.21 415.42,194.39 415.78,195.68 416.10,197.00 416.33,198.27 416.41,199.39 416.30,200.30 415.98,201.00 415.51,201.59 414.90,202.08 414.19,202.49 413.42,202.85 412.61,203.18 411.79,203.48 411.00,203.80 410.21,204.10 409.37,204.35 408.50,204.56 407.61,204.76 406.70,204.93 405.79,205.11 404.89,205.30 404.00,205.50 403.12,205.71 402.23,205.90 401.33,206.08 400.44,206.28 399.55,206.48 398.68,206.71 397.83,206.98 397.00,207.30 396.16,207.70 395.29,208.18 394.41,208.71 393.56,209.26 392.77,209.80 392.05,210.29 391.46,210.70 391.00,211.00" fill="none" stroke="#34a64a" stroke-width="1.55" stroke-linecap="round" stroke-linejoin="round"/>
<polyline points="402.40,215.40 402.20,214.91 401.95,214.22 401.66,213.39 401.32,212.50 400.93,211.61 400.50,210.78 400.03,210.09 399.50,209.60 398.90,209.31 398.21,209.14 397.45,209.07 396.66,209.09 395.85,209.17 395.05,209.30 394.30,209.45 393.60,209.60 392.93,209.80 392.25,210.09 391.58,210.43 390.93,210.80 390.33,211.17 389.80,211.51 389.35,211.80 389.00,212.00" fill="none" stroke="#34a64a" stroke-width="1.55" stroke-linecap="round" stroke-linejoin="round"/>
<polyline points="335.20,195.00 335.30,195.22 335.40,195.52 335.53,195.88 335.68,196.27 335.87,196.69 336.09,197.11 336.37,197.52 336.70,197.90 337.12,198.24 337.64,198.55 338.23,198.86 338.85,199.16 339.47,199.49 340.06,199.86 340.58,200.29 341.00,200.80 341.33,201.43 341.61,202.20 341.83,203.05 342.02,203.93 342.17,204.79 342.30,205.57 342.40,206.22 342.50,206.70" fill="none" stroke="#34a64a" stroke-width="1.55" stroke-linecap="round" stroke-linejoin="round"/>
<polyline points="336.00,84.00 335.62,83.72 335.09,83.38 334.44,82.97 333.75,82.50 333.06,81.97 332.41,81.38 331.88,80.72 331.50,80.00 331.25,79.15 331.08,78.15 330.97,77.05 330.94,75.90 330.97,74.77 331.08,73.70 331.25,72.76 331.50,72.00 331.85,71.39 332.32,70.87 332.87,70.43 333.49,70.09 334.14,69.83 334.79,69.66 335.42,69.58 336.00,69.60 336.57,69.72 337.17,69.96 337.78,70.29 338.38,70.71 338.95,71.21 339.45,71.76 339.88,72.36 340.20,73.00 340.43,73.72 340.59,74.57 340.69,75.49 340.73,76.46 340.69,77.44 340.59,78.38 340.43,79.24 340.20,80.00 339.85,80.67 339.35,81.30 338.75,81.90 338.10,82.44 337.45,82.92 336.85,83.35 336.35,83.71 336.00,84.00" fill="none" stroke="#34a64a" stroke-width="1.55" stroke-linecap="round" stroke-linejoin="round"/>
<polygon points="276.76,51.87 276.77,52.06 276.76,52.26 276.71,52.46 276.63,52.66 276.52,52.87 276.39,53.08 276.23,53.29 276.04,53.51 275.82,53.73 275.58,53.95 275.31,54.18 275.02,54.41 274.70,54.65 274.36,54.88 274.00,55.13 273.62,55.37 273.22,55.62 272.80,55.86 272.36,56.11 271.91,56.37 271.44,56.62 270.96,56.88 270.47,57.14 269.97,57.40 269.46,57.66 268.95,57.92 268.43,58.18 267.90,58.44 267.37,58.71 266.84,58.97 266.32,59.23 265.79,59.50 265.27,59.76 264.75,60.02 264.24,60.28 263.74,60.54 263.25,60.80 262.77,61.05 262.31,61.31 261.85,61.56 261.42,61.81 261.00,62.06 260.60,62.31 260.22,62.55 259.86,62.79 259.52,63.03 259.20,63.26 258.91,63.50 258.64,63.72 258.39,63.95 258.18,64.17 257.99,64.39 257.83,64.60 257.69,64.81 257.59,65.02 257.51,65.22 257.46,65.42 257.44,65.61 257.45,65.80 256.38,57.88 256.37,57.69 256.39,57.49 256.44,57.29 256.52,57.09 256.62,56.88 256.76,56.67 256.92,56.46 257.11,56.24 257.33,56.02 257.57,55.80 257.84,55.57 258.13,55.34 258.45,55.10 258.79,54.86 259.15,54.62 259.53,54.38 259.93,54.13 260.35,53.89 260.79,53.63 261.24,53.38 261.70,53.13 262.18,52.87 262.67,52.61 263.17,52.35 263.68,52.09 264.20,51.83 264.72,51.57 265.25,51.31 265.77,51.04 266.30,50.78 266.83,50.52 267.36,50.25 267.88,49.99 268.39,49.73 268.90,49.47 269.40,49.21 269.89,48.95 270.37,48.69 270.84,48.44 271.29,48.19 271.73,47.94 272.15,47.69 272.55,47.44 272.93,47.20 273.29,46.96 273.63,46.72 273.95,46.48 274.24,46.25 274.51,46.02 274.75,45.80 274.97,45.58 275.16,45.36 275.32,45.15 275.45,44.94 275.56,44.73 275.64,44.53 275.69,44.33 275.70,44.14 275.69,43.94" fill="#2a9040" stroke="#2a9040" stroke-width="0.6" stroke-linejoin="round"/>
<polygon points="279.76,74.12 279.77,74.31 279.76,74.51 279.71,74.71 279.63,74.91 279.52,75.12 279.39,75.33 279.23,75.54 279.04,75.76 278.82,75.98 278.58,76.20 278.31,76.43 278.02,76.66 277.70,76.90 277.36,77.13 277.00,77.38 276.62,77.62 276.22,77.87 275.80,78.11 275.36,78.36 274.91,78.62 274.44,78.87 273.96,79.13 273.47,79.39 272.97,79.65 272.46,79.91 271.95,80.17 271.43,80.43 270.90,80.69 270.37,80.96 269.84,81.22 269.32,81.48 268.79,81.75 268.27,82.01 267.75,82.27 267.24,82.53 266.74,82.79 266.25,83.05 265.77,83.30 265.31,83.56 264.85,83.81 264.42,84.06 264.00,84.31 263.60,84.56 263.22,84.80 262.86,85.04 262.52,85.28 262.20,85.51 261.91,85.75 261.64,85.97 261.39,86.20 261.18,86.42 260.99,86.64 260.83,86.85 260.69,87.06 260.59,87.27 260.51,87.47 260.46,87.67 260.44,87.86 260.45,88.05 259.38,80.13 259.37,79.94 259.39,79.74 259.44,79.54 259.52,79.34 259.62,79.13 259.76,78.92 259.92,78.71 260.11,78.49 260.33,78.27 260.57,78.05 260.84,77.82 261.13,77.59 261.45,77.35 261.79,77.11 262.15,76.87 262.53,76.63 262.93,76.38 263.35,76.14 263.79,75.88 264.24,75.63 264.70,75.38 265.18,75.12 265.67,74.86 266.17,74.60 266.68,74.34 267.20,74.08 267.72,73.82 268.25,73.56 268.77,73.29 269.30,73.03 269.83,72.77 270.36,72.50 270.88,72.24 271.39,71.98 271.90,71.72 272.40,71.46 272.89,71.20 273.37,70.94 273.84,70.69 274.29,70.44 274.73,70.19 275.15,69.94 275.55,69.69 275.93,69.45 276.29,69.21 276.63,68.97 276.95,68.73 277.24,68.50 277.51,68.27 277.75,68.05 277.97,67.83 278.16,67.61 278.32,67.40 278.45,67.19 278.56,66.98 278.64,66.78 278.69,66.58 278.70,66.39 278.69,66.19" fill="#2a9040" stroke="#2a9040" stroke-width="0.6" stroke-linejoin="round"/>
<polygon points="255.34,44.77 255.58,44.93 255.84,45.09 256.14,45.24 256.45,45.39 256.80,45.54 257.17,45.68 257.55,45.82 257.97,45.95 258.40,46.09 258.85,46.22 259.32,46.35 259.81,46.47 260.31,46.60 260.83,46.72 261.36,46.84 261.90,46.96 262.45,47.08 263.01,47.20 263.58,47.31 264.15,47.43 264.73,47.54 265.31,47.65 265.89,47.77 266.46,47.88 267.04,48.00 267.61,48.11 268.18,48.23 268.74,48.34 269.29,48.46 269.84,48.58 270.37,48.70 270.88,48.82 271.39,48.95 271.87,49.07 272.35,49.20 272.80,49.33 273.23,49.47 273.64,49.60 274.03,49.74 274.40,49.89 274.75,50.03 275.07,50.18 275.36,50.33 275.63,50.49 275.87,50.65 276.08,50.81 276.27,50.98 276.43,51.15 276.55,51.32 276.65,51.50 276.72,51.69 276.76,51.87 275.69,43.94 275.65,43.76 275.58,43.58 275.49,43.40 275.36,43.22 275.20,43.05 275.01,42.88 274.80,42.72 274.56,42.56 274.29,42.40 274.00,42.25 273.68,42.10 273.33,41.96 272.97,41.82 272.57,41.68 272.16,41.54 271.73,41.41 271.28,41.27 270.81,41.15 270.32,41.02 269.82,40.90 269.30,40.77 268.77,40.65 268.23,40.53 267.67,40.42 267.11,40.30 266.55,40.18 265.97,40.07 265.40,39.95 264.82,39.84 264.24,39.73 263.66,39.61 263.08,39.50 262.51,39.38 261.94,39.27 261.38,39.15 260.83,39.03 260.29,38.91 259.76,38.79 259.24,38.67 258.74,38.55 258.25,38.42 257.78,38.29 257.33,38.16 256.90,38.03 256.49,37.89 256.10,37.75 255.73,37.61 255.39,37.46 255.07,37.31 254.77,37.16 254.51,37.00 254.27,36.84" fill="#52b257" stroke="#1a8a3a" stroke-width="0.6" stroke-linejoin="round"/>
<polygon points="257.45,65.80 257.49,65.99 257.56,66.17 257.66,66.35 257.79,66.53 257.95,66.70 258.13,66.86 258.34,67.03 258.58,67.19 258.85,67.34 259.15,67.50 259.47,67.64 259.81,67.79 260.18,67.93 260.57,68.07 260.98,68.21 261.41,68.34 261.86,68.47 262.33,68.60 262.82,68.73 263.32,68.85 263.84,68.97 264.37,69.09 264.91,69.21 265.46,69.33 266.02,69.45 266.59,69.56 267.16,69.68 267.74,69.79 268.32,69.91 268.90,70.02 269.48,70.13 270.05,70.25 270.62,70.36 271.19,70.48 271.75,70.60 272.30,70.71 272.84,70.83 273.37,70.95 273.89,71.08 274.39,71.20 274.88,71.33 275.35,71.45 275.80,71.59 276.24,71.72 276.65,71.86 277.04,71.99 277.41,72.14 277.75,72.28 278.07,72.43 278.36,72.58 278.63,72.74 278.87,72.90 279.08,73.06 279.27,73.23 279.43,73.40 279.55,73.58 279.65,73.75 279.72,73.94 279.76,74.12 278.69,66.19 278.65,66.01 278.58,65.83 278.49,65.65 278.36,65.47 278.20,65.30 278.02,65.13 277.80,64.97 277.56,64.81 277.29,64.66 277.00,64.50 276.68,64.35 276.34,64.21 275.97,64.07 275.58,63.93 275.17,63.79 274.73,63.66 274.28,63.53 273.81,63.40 273.32,63.27 272.82,63.15 272.31,63.02 271.78,62.90 271.23,62.78 270.68,62.67 270.12,62.55 269.56,62.44 268.98,62.32 268.41,62.21 267.83,62.09 267.25,61.98 266.67,61.86 266.09,61.75 265.52,61.64 264.95,61.52 264.39,61.40 263.84,61.29 263.30,61.17 262.77,61.05 262.25,60.92 261.75,60.80 261.26,60.67 260.79,60.54 260.34,60.41 259.91,60.28 259.50,60.14 259.11,60.00 258.74,59.86 258.40,59.72 258.08,59.57 257.78,59.41 257.52,59.26 257.28,59.10 257.06,58.94 256.88,58.77 256.72,58.60 256.59,58.42 256.49,58.25 256.42,58.06 256.38,57.88" fill="#52b257" stroke="#1a8a3a" stroke-width="0.6" stroke-linejoin="round"/>
<polygon points="260.45,88.05 260.49,88.24 260.56,88.42 260.66,88.60 260.79,88.77 260.94,88.94 261.12,89.11 261.34,89.27 260.27,81.34 260.06,81.18 259.87,81.01 259.72,80.84 259.59,80.67 259.49,80.49 259.42,80.31 259.38,80.13" fill="#52b257" stroke="#1a8a3a" stroke-width="0.6" stroke-linejoin="round"/>
<polygon points="290.4,24 290.9,19.5 292.3,16.4 295.8,15.6 299.4,17.2 300.8,20.2 300.1,23.8 297.6,26.8 294,28.1 291.4,27.2" fill="#48ae52" stroke="#1a8a3a" stroke-width="0.7" stroke-linejoin="round"/>
<path d="M298.6,18.2 Q301.2,22 297.2,26.6" fill="none" stroke="#146a2a" stroke-width="1.6" stroke-linecap="round"/>
<polygon points="383.47,163.69 383.63,163.64 383.78,163.57 383.93,163.47 384.07,163.35 384.20,163.20 384.33,163.04 384.46,162.84 384.58,162.63 384.69,162.39 384.80,162.13 384.91,161.86 385.01,161.56 385.10,161.24 385.19,160.90 385.28,160.54 385.36,160.17 385.44,159.78 385.52,159.38 385.59,158.96 385.66,158.53 385.73,158.09 385.79,157.64 385.86,157.17 385.92,156.70 385.98,156.23 386.03,155.74 386.09,155.25 386.15,154.76 386.20,154.27 386.26,153.78 386.31,153.28 386.37,152.79 386.43,152.31 386.48,151.82 386.54,151.34 386.60,150.87 386.67,150.41 386.73,149.96 386.80,149.52 386.87,149.09 386.94,148.67 387.02,148.27 387.10,147.88 387.18,147.50 387.27,147.15 387.36,146.81 387.45,146.49 387.55,146.19 387.66,145.91 387.77,145.65 387.88,145.42 388.00,145.20 388.13,145.01 388.26,144.84 388.39,144.70 388.53,144.58 388.68,144.48 388.83,144.40 388.99,144.36 379.25,146.60 379.09,146.65 378.94,146.73 378.79,146.82 378.65,146.95 378.51,147.09 378.38,147.26 378.26,147.45 378.14,147.67 378.02,147.90 377.91,148.16 377.81,148.44 377.71,148.74 377.61,149.06 377.52,149.40 377.44,149.75 377.35,150.13 377.27,150.51 377.20,150.92 377.12,151.33 377.05,151.77 376.99,152.21 376.92,152.66 376.86,153.12 376.80,153.59 376.74,154.07 376.68,154.55 376.63,155.04 376.57,155.53 376.51,156.03 376.46,156.52 376.40,157.01 376.35,157.50 376.29,157.99 376.23,158.47 376.17,158.95 376.11,159.42 376.05,159.88 375.99,160.34 375.92,160.78 375.85,161.21 375.78,161.63 375.70,162.03 375.62,162.42 375.54,162.79 375.45,163.15 375.36,163.49 375.26,163.80 375.16,164.10 375.06,164.38 374.95,164.64 374.83,164.88 374.71,165.09 374.59,165.28 374.46,165.45 374.32,165.60 374.18,165.72 374.04,165.82 373.88,165.89 373.73,165.94" fill="#2c9442" stroke="#2c9442" stroke-width="0.6" stroke-linejoin="round"/>
<polygon points="402.43,159.32 402.59,159.27 402.74,159.19 402.88,159.10 403.03,158.98 403.16,158.83 403.29,158.66 403.42,158.47 403.54,158.25 403.65,158.02 403.76,157.76 403.87,157.48 403.97,157.18 404.06,156.86 404.15,156.52 404.24,156.17 404.32,155.80 404.40,155.41 404.48,155.00 404.55,154.59 404.62,154.16 404.69,153.71 404.75,153.26 404.82,152.80 404.88,152.33 404.94,151.85 404.99,151.37 405.05,150.88 405.11,150.39 405.16,149.90 405.22,149.40 405.27,148.91 405.33,148.42 405.38,147.93 405.44,147.45 405.50,146.97 405.56,146.50 405.62,146.04 405.69,145.58 405.76,145.14 405.83,144.71 405.90,144.29 405.98,143.89 406.05,143.50 406.14,143.13 406.23,142.77 406.32,142.44 406.41,142.12 406.51,141.82 406.62,141.54 406.73,141.28 406.84,141.04 406.96,140.83 407.09,140.64 407.22,140.47 407.35,140.32 407.49,140.20 407.64,140.10 407.79,140.03 407.95,139.98 398.21,142.23 398.05,142.28 397.90,142.35 397.75,142.45 397.61,142.57 397.47,142.72 397.34,142.89 397.22,143.08 397.10,143.29 396.98,143.53 396.87,143.79 396.77,144.07 396.67,144.37 396.57,144.68 396.48,145.02 396.39,145.38 396.31,145.75 396.23,146.14 396.16,146.54 396.08,146.96 396.01,147.39 395.95,147.83 395.88,148.29 395.82,148.75 395.76,149.22 395.70,149.70 395.64,150.18 395.58,150.67 395.53,151.16 395.47,151.65 395.42,152.14 395.36,152.64 395.31,153.13 395.25,153.62 395.19,154.10 395.13,154.58 395.07,155.05 395.01,155.51 394.94,155.96 394.88,156.40 394.81,156.83 394.73,157.25 394.66,157.66 394.58,158.04 394.50,158.42 394.41,158.77 394.32,159.11 394.22,159.43 394.12,159.73 394.02,160.01 393.91,160.27 393.79,160.50 393.67,160.72 393.55,160.91 393.42,161.08 393.28,161.22 393.14,161.35 392.99,161.44 392.84,161.52 392.68,161.57" fill="#2c9442" stroke="#2c9442" stroke-width="0.6" stroke-linejoin="round"/>
<polygon points="421.39,154.94 421.54,154.89 421.70,154.82 421.85,154.72 421.99,154.60 422.12,154.45 422.25,154.28 422.38,154.09 422.50,153.87 422.62,153.63 422.73,153.37 422.83,153.09 422.93,152.78 423.03,152.46 423.12,152.12 423.21,151.76 423.29,151.38 423.37,150.99 423.44,150.58 423.52,150.16 423.59,149.73 423.65,149.28 423.72,148.83 423.78,148.36 423.84,147.89 423.90,147.40 423.96,146.92 424.02,146.43 424.07,145.93 424.13,145.44 424.18,144.94 424.24,144.44 424.30,143.95 424.35,143.46 424.41,142.98 424.47,142.50 424.53,142.02 424.60,141.56 424.66,141.11 424.73,140.67 424.80,140.24 415.06,142.49 414.99,142.92 414.92,143.36 414.85,143.81 414.79,144.27 414.73,144.75 414.67,145.22 414.61,145.71 414.55,146.20 414.50,146.69 414.44,147.19 414.38,147.68 414.33,148.18 414.27,148.67 414.22,149.17 414.16,149.65 414.10,150.13 414.04,150.61 413.98,151.07 413.91,151.53 413.84,151.98 413.77,152.41 413.70,152.83 413.62,153.24 413.54,153.63 413.46,154.01 413.37,154.37 413.28,154.71 413.19,155.03 413.09,155.33 412.98,155.62 412.87,155.88 412.76,156.12 412.64,156.33 412.51,156.53 412.38,156.70 412.24,156.85 412.10,156.97 411.95,157.07 411.80,157.14 411.64,157.19" fill="#2c9442" stroke="#2c9442" stroke-width="0.6" stroke-linejoin="round"/>
<polygon points="382.22,163.37 382.41,163.48 382.60,163.58 382.79,163.65 382.97,163.69 383.14,163.72 383.31,163.72 383.47,163.69 373.73,165.94 373.56,165.97 373.39,165.97 373.22,165.94 373.04,165.90 372.86,165.83 372.67,165.73 372.47,165.62" fill="#55b55a" stroke="#1a8a3a" stroke-width="0.6" stroke-linejoin="round"/>
<polygon points="388.99,144.36 389.15,144.33 389.32,144.33 389.50,144.35 389.68,144.40 389.86,144.47 390.06,144.57 390.25,144.68 390.45,144.83 390.66,144.99 390.87,145.17 391.09,145.38 391.31,145.60 391.54,145.85 391.77,146.11 392.00,146.39 392.24,146.69 392.48,147.00 392.72,147.33 392.97,147.68 393.22,148.03 393.48,148.40 393.74,148.78 393.99,149.17 394.25,149.56 394.52,149.97 394.78,150.38 395.05,150.79 395.31,151.21 395.58,151.63 395.84,152.05 396.11,152.46 396.37,152.88 396.64,153.30 396.90,153.70 397.16,154.11 397.43,154.50 397.68,154.89 397.94,155.27 398.19,155.64 398.45,156.00 398.69,156.34 398.94,156.67 399.18,156.98 399.42,157.28 399.65,157.56 399.88,157.83 400.11,158.07 400.33,158.30 400.55,158.50 400.76,158.68 400.97,158.85 401.17,158.99 401.36,159.11 401.55,159.20 401.74,159.27 401.92,159.32 402.10,159.34 402.26,159.34 402.43,159.32 392.68,161.57 392.52,161.59 392.35,161.59 392.18,161.57 392.00,161.52 391.81,161.45 391.62,161.35 391.42,161.24 391.22,161.10 391.02,160.93 390.80,160.75 390.59,160.54 390.37,160.32 390.14,160.07 389.91,159.81 389.68,159.53 389.44,159.23 389.20,158.92 388.95,158.59 388.70,158.24 388.45,157.89 388.20,157.52 387.94,157.14 387.68,156.75 387.42,156.36 387.16,155.95 386.89,155.54 386.63,155.13 386.36,154.71 386.10,154.29 385.83,153.88 385.57,153.46 385.30,153.04 385.04,152.63 384.77,152.22 384.51,151.81 384.25,151.42 383.99,151.03 383.73,150.65 383.48,150.28 383.23,149.93 382.98,149.58 382.74,149.25 382.49,148.94 382.26,148.64 382.02,148.36 381.79,148.10 381.57,147.85 381.34,147.63 381.13,147.42 380.92,147.24 380.71,147.07 380.51,146.93 380.31,146.82 380.12,146.72 379.93,146.65 379.75,146.60 379.58,146.58 379.41,146.58 379.25,146.60" fill="#55b55a" stroke="#1a8a3a" stroke-width="0.6" stroke-linejoin="round"/>
<polygon points="407.95,139.98 408.11,139.96 408.28,139.95 408.46,139.98 408.64,140.03 408.82,140.10 409.01,140.19 409.21,140.31 409.41,140.45 409.62,140.61 409.83,140.80 410.05,141.00 410.27,141.23 410.49,141.47 410.72,141.74 410.96,142.02 411.20,142.32 411.44,142.63 411.68,142.96 411.93,143.30 412.18,143.66 412.44,144.03 412.69,144.41 412.95,144.79 413.21,145.19 413.48,145.59 413.74,146.00 414.00,146.42 414.27,146.83 414.53,147.25 414.80,147.67 415.07,148.09 415.33,148.51 415.60,148.92 415.86,149.33 416.12,149.73 416.38,150.13 416.64,150.52 416.90,150.90 417.15,151.26 417.40,151.62 417.65,151.96 417.90,152.29 418.14,152.61 418.38,152.91 418.61,153.19 418.84,153.45 419.07,153.70 419.29,153.92 419.51,154.13 419.72,154.31 419.92,154.47 420.13,154.61 420.32,154.73 420.51,154.83 420.70,154.90 420.88,154.94 421.05,154.97 421.22,154.97 421.39,154.94 411.64,157.19 411.48,157.22 411.31,157.22 411.14,157.19 410.95,157.15 410.77,157.07 410.58,156.98 410.38,156.86 410.18,156.72 409.97,156.56 409.76,156.37 409.55,156.17 409.32,155.94 409.10,155.70 408.87,155.44 408.63,155.15 408.40,154.86 408.15,154.54 407.91,154.21 407.66,153.87 407.41,153.51 407.15,153.14 406.90,152.77 406.64,152.38 406.38,151.98 406.12,151.58 405.85,151.17 405.59,150.76 405.32,150.34 405.06,149.92 404.79,149.50 404.53,149.08 404.26,148.66 403.99,148.25 403.73,147.84 403.47,147.44 403.21,147.04 402.95,146.65 402.69,146.28 402.44,145.91 402.19,145.55 401.94,145.21 401.69,144.88 401.45,144.56 401.21,144.27 400.98,143.98 400.75,143.72 400.52,143.48 400.30,143.25 400.09,143.05 399.87,142.86 399.67,142.70 399.47,142.56 399.27,142.44 399.08,142.35 398.89,142.27 398.71,142.23 398.54,142.20 398.37,142.20 398.21,142.23" fill="#55b55a" stroke="#1a8a3a" stroke-width="0.6" stroke-linejoin="round"/>
<polygon points="354.14,197.98 354.30,197.94 354.46,197.87 354.61,197.78 354.76,197.65 354.90,197.50 355.04,197.32 355.18,197.12 355.31,196.88 355.44,196.63 355.56,196.34 355.68,196.03 355.80,195.70 355.91,195.35 356.02,194.97 356.13,194.57 356.23,194.15 356.34,193.71 356.43,193.26 356.53,192.79 356.63,192.30 356.72,191.80 356.81,191.29 356.90,190.76 356.99,190.23 357.07,189.69 357.16,189.14 357.24,188.58 357.33,188.03 357.41,187.47 357.49,186.91 357.58,186.35 357.66,185.79 357.75,185.23 357.83,184.68 357.92,184.14 358.01,183.61 358.10,183.08 358.19,182.57 358.28,182.07 358.37,181.58 358.47,181.11 358.57,180.66 358.67,180.22 358.78,179.80 358.88,179.40 358.99,179.03 359.11,178.67 359.22,178.34 359.34,178.03 359.47,177.75 359.60,177.49 359.73,177.25 359.86,177.05 360.00,176.87 360.15,176.72 360.29,176.60 360.44,176.50 360.60,176.43 360.76,176.40 348.89,178.13 348.73,178.16 348.57,178.23 348.42,178.33 348.27,178.45 348.13,178.60 347.99,178.78 347.85,178.98 347.72,179.22 347.59,179.48 347.47,179.76 347.35,180.07 347.23,180.40 347.12,180.76 347.01,181.13 346.90,181.53 346.80,181.95 346.69,182.39 346.60,182.84 346.50,183.31 346.40,183.80 346.31,184.30 346.22,184.81 346.13,185.34 346.04,185.87 345.96,186.41 345.87,186.96 345.79,187.52 345.70,188.08 345.62,188.64 345.54,189.20 345.45,189.76 345.37,190.31 345.28,190.87 345.20,191.42 345.11,191.96 345.02,192.49 344.93,193.02 344.84,193.53 344.75,194.03 344.66,194.52 344.56,194.99 344.46,195.44 344.36,195.88 344.25,196.30 344.15,196.70 344.04,197.08 343.92,197.43 343.81,197.76 343.69,198.07 343.56,198.36 343.43,198.61 343.30,198.85 343.17,199.05 343.03,199.23 342.88,199.38 342.74,199.51 342.59,199.60 342.43,199.67 342.27,199.71" fill="#2c9442" stroke="#2c9442" stroke-width="0.6" stroke-linejoin="round"/>
<polygon points="373.26,195.19 373.42,195.15 373.57,195.09 373.73,194.99 373.87,194.87 374.02,194.72 374.16,194.54 374.29,194.33 374.42,194.10 374.55,193.84 374.67,193.56 374.79,193.25 374.91,192.92 375.03,192.56 375.14,192.18 375.24,191.78 375.35,191.37 375.45,190.93 375.55,190.47 375.65,190.00 375.74,189.52 375.83,189.02 375.92,188.50 376.01,187.98 376.10,187.44 376.19,186.90 376.27,186.35 376.36,185.80 376.44,185.24 376.52,184.68 376.61,184.12 376.69,183.56 376.78,183.00 376.86,182.45 376.95,181.90 377.03,181.36 377.12,180.82 377.21,180.30 377.30,179.79 377.39,179.29 377.49,178.80 377.58,178.33 377.68,177.87 377.78,177.44 377.89,177.02 378.00,176.62 378.11,176.24 378.22,175.89 378.34,175.55 378.46,175.24 378.58,174.96 378.71,174.70 378.84,174.47 378.98,174.26 379.12,174.08 379.26,173.93 379.41,173.81 379.56,173.72 379.71,173.65 379.87,173.61 368.00,175.34 367.84,175.38 367.68,175.45 367.53,175.54 367.38,175.66 367.24,175.82 367.10,175.99 366.97,176.20 366.83,176.43 366.71,176.69 366.58,176.97 366.46,177.28 366.35,177.62 366.23,177.97 366.12,178.35 366.01,178.75 365.91,179.17 365.81,179.60 365.71,180.06 365.61,180.53 365.52,181.02 365.43,181.52 365.33,182.03 365.25,182.55 365.16,183.09 365.07,183.63 364.99,184.18 364.90,184.73 364.82,185.29 364.73,185.85 364.65,186.41 364.57,186.97 364.48,187.53 364.40,188.08 364.31,188.63 364.23,189.17 364.14,189.71 364.05,190.23 363.96,190.75 363.87,191.25 363.77,191.73 363.67,192.20 363.57,192.66 363.47,193.10 363.37,193.51 363.26,193.91 363.15,194.29 363.04,194.65 362.92,194.98 362.80,195.29 362.68,195.57 362.55,195.83 362.42,196.06 362.28,196.27 362.14,196.45 362.00,196.60 361.85,196.72 361.70,196.82 361.54,196.88 361.38,196.92" fill="#2c9442" stroke="#2c9442" stroke-width="0.6" stroke-linejoin="round"/>
<polygon points="392.37,192.41 392.53,192.37 392.69,192.30 392.84,192.21 392.99,192.08 393.13,191.93 393.27,191.75 393.41,191.55 393.54,191.31 393.66,191.06 393.79,190.77 393.91,190.46 394.03,190.13 394.14,189.78 394.25,189.40 394.36,189.00 394.46,188.58 394.56,188.14 394.66,187.69 394.76,187.22 394.85,186.73 394.95,186.23 395.04,185.72 395.13,185.19 395.21,184.66 395.30,184.12 395.39,183.57 395.47,183.01 395.55,182.46 395.64,181.90 395.72,181.34 395.81,180.78 395.89,180.22 395.97,179.66 396.06,179.11 396.15,178.57 396.23,178.04 396.32,177.51 396.41,177.00 396.51,176.50 396.60,176.01 396.70,175.54 396.80,175.09 396.90,174.65 397.00,174.23 397.11,173.83 397.22,173.46 397.33,173.10 397.45,172.77 397.57,172.46 397.70,172.18 397.82,171.92 397.96,171.68 398.09,171.48 398.23,171.30 398.37,171.15 398.52,171.03 398.67,170.93 398.83,170.86 398.99,170.83 387.11,172.56 386.95,172.59 386.80,172.66 386.65,172.76 386.50,172.88 386.36,173.03 386.22,173.21 386.08,173.41 385.95,173.65 385.82,173.91 385.70,174.19 385.58,174.50 385.46,174.83 385.35,175.19 385.24,175.56 385.13,175.96 385.02,176.38 384.92,176.82 384.82,177.27 384.73,177.74 384.63,178.23 384.54,178.73 384.45,179.24 384.36,179.77 384.27,180.30 384.19,180.84 384.10,181.39 384.02,181.95 383.93,182.51 383.85,183.07 383.76,183.63 383.68,184.19 383.60,184.74 383.51,185.30 383.43,185.85 383.34,186.39 383.25,186.92 383.16,187.45 383.07,187.96 382.98,188.46 382.88,188.95 382.79,189.42 382.69,189.87 382.59,190.31 382.48,190.73 382.38,191.13 382.26,191.51 382.15,191.86 382.03,192.19 381.91,192.50 381.79,192.79 381.66,193.05 381.53,193.28 381.39,193.48 381.26,193.66 381.11,193.81 380.96,193.94 380.81,194.03 380.66,194.10 380.50,194.14" fill="#2c9442" stroke="#2c9442" stroke-width="0.6" stroke-linejoin="round"/>
<polygon points="411.49,189.62 411.65,189.58 411.80,189.52 411.95,189.42 412.10,189.30 412.24,189.15 412.38,188.97 412.52,188.76 412.65,188.53 412.78,188.27 412.90,187.99 413.02,187.68 413.14,187.35 413.25,186.99 413.36,186.61 413.47,186.22 413.58,185.80 413.68,185.36 413.78,184.90 413.87,184.43 413.97,183.95 414.06,183.45 414.15,182.93 414.24,182.41 414.33,181.88 414.41,181.33 414.50,180.78 414.58,180.23 414.67,179.67 414.75,179.11 414.84,178.55 414.92,177.99 415.00,177.43 415.09,176.88 415.17,176.33 415.26,175.79 415.35,175.25 415.44,174.73 415.53,174.22 415.62,173.72 415.71,173.23 415.81,172.76 415.91,172.30 416.01,171.87 416.12,171.45 416.22,171.05 416.33,170.67 416.45,170.32 416.57,169.98 416.69,169.68 416.81,169.39 416.94,169.13 417.07,168.90 417.20,168.69 417.34,168.52 417.49,168.36 417.63,168.24 417.79,168.15 417.94,168.08 418.10,168.04 406.23,169.77 406.07,169.81 405.91,169.88 405.76,169.97 405.61,170.09 405.47,170.25 405.33,170.42 405.19,170.63 405.06,170.86 404.94,171.12 404.81,171.41 404.69,171.71 404.57,172.05 404.46,172.40 404.35,172.78 404.24,173.18 404.14,173.60 404.04,174.03 403.94,174.49 403.84,174.96 403.75,175.45 403.65,175.95 403.56,176.46 403.47,176.98 403.39,177.52 403.30,178.06 403.21,178.61 403.13,179.16 403.04,179.72 402.96,180.28 402.88,180.84 402.79,181.40 402.71,181.96 402.62,182.51 402.54,183.06 402.45,183.61 402.37,184.14 402.28,184.66 402.19,185.18 402.09,185.68 402.00,186.16 401.90,186.63 401.80,187.09 401.70,187.53 401.60,187.95 401.49,188.34 401.38,188.72 401.27,189.08 401.15,189.41 401.03,189.72 400.90,190.00 400.78,190.26 400.64,190.49 400.51,190.70 400.37,190.88 400.23,191.03 400.08,191.15 399.93,191.25 399.77,191.31 399.61,191.35" fill="#2c9442" stroke="#2c9442" stroke-width="0.6" stroke-linejoin="round"/>
<polygon points="352.17,196.63 352.39,196.90 352.60,197.14 352.81,197.36 353.02,197.54 353.22,197.69 353.41,197.81 353.60,197.90 353.79,197.96 353.97,197.98 354.14,197.98 342.27,199.71 342.09,199.71 341.91,199.69 341.73,199.63 341.54,199.54 341.34,199.42 341.14,199.27 340.94,199.09 340.73,198.87 340.52,198.63 340.30,198.36" fill="#55b55a" stroke="#1a8a3a" stroke-width="0.6" stroke-linejoin="round"/>
<polygon points="360.76,176.40 360.92,176.39 361.09,176.41 361.26,176.45 361.44,176.53 361.62,176.63 361.81,176.77 361.99,176.92 362.19,177.11 362.38,177.32 362.58,177.56 362.79,177.82 362.99,178.10 363.20,178.41 363.42,178.74 363.63,179.09 363.85,179.47 364.08,179.86 364.30,180.26 364.53,180.69 364.76,181.13 364.99,181.58 365.22,182.05 365.46,182.52 365.69,183.01 365.93,183.50 366.17,184.01 366.41,184.51 366.65,185.02 366.89,185.54 367.13,186.05 367.37,186.56 367.61,187.07 367.85,187.58 368.09,188.08 368.32,188.58 368.56,189.06 368.80,189.54 369.03,190.01 369.26,190.46 369.49,190.90 369.72,191.32 369.94,191.73 370.16,192.12 370.38,192.49 370.60,192.84 370.81,193.17 371.02,193.48 371.23,193.77 371.43,194.03 371.63,194.27 371.83,194.48 372.02,194.66 372.21,194.82 372.40,194.95 372.58,195.06 372.75,195.13 372.93,195.18 373.09,195.20 373.26,195.19 361.38,196.92 361.22,196.93 361.05,196.91 360.88,196.86 360.70,196.79 360.52,196.68 360.34,196.55 360.15,196.39 359.96,196.21 359.76,196.00 359.56,195.76 359.36,195.50 359.15,195.21 358.94,194.90 358.73,194.57 358.51,194.22 358.29,193.85 358.07,193.46 357.84,193.05 357.62,192.63 357.39,192.19 357.15,191.74 356.92,191.27 356.69,190.79 356.45,190.31 356.21,189.81 355.97,189.31 355.73,188.80 355.49,188.29 355.25,187.78 355.01,187.27 354.77,186.75 354.53,186.24 354.30,185.74 354.06,185.23 353.82,184.74 353.58,184.25 353.35,183.78 353.11,183.31 352.88,182.86 352.65,182.42 352.43,181.99 352.20,181.59 351.98,181.20 351.76,180.82 351.54,180.47 351.33,180.14 351.12,179.83 350.91,179.55 350.71,179.29 350.51,179.05 350.31,178.84 350.12,178.65 349.93,178.50 349.75,178.36 349.57,178.26 349.39,178.18 349.22,178.14 349.05,178.12 348.89,178.13" fill="#55b55a" stroke="#1a8a3a" stroke-width="0.6" stroke-linejoin="round"/>
<polygon points="379.87,173.61 380.04,173.60 380.21,173.62 380.38,173.67 380.56,173.75 380.74,173.85 380.92,173.98 381.11,174.14 381.30,174.32 381.50,174.54 381.70,174.77 381.90,175.03 382.11,175.32 382.32,175.63 382.53,175.96 382.75,176.31 382.97,176.68 383.19,177.07 383.42,177.48 383.64,177.90 383.87,178.34 384.10,178.80 384.34,179.26 384.57,179.74 384.81,180.22 385.05,180.72 385.28,181.22 385.52,181.73 385.76,182.24 386.00,182.75 386.24,183.27 386.48,183.78 386.72,184.29 386.96,184.80 387.20,185.30 387.44,185.79 387.67,186.28 387.91,186.76 388.14,187.22 388.37,187.68 388.60,188.11 388.83,188.54 389.06,188.95 389.28,189.34 389.50,189.71 389.71,190.06 389.93,190.39 390.14,190.70 390.35,190.98 390.55,191.24 390.75,191.48 390.94,191.69 391.14,191.88 391.33,192.04 391.51,192.17 391.69,192.27 391.87,192.35 392.04,192.40 392.21,192.42 392.37,192.41 380.50,194.14 380.33,194.15 380.17,194.13 379.99,194.08 379.82,194.00 379.64,193.90 379.45,193.77 379.26,193.61 379.07,193.42 378.87,193.21 378.67,192.97 378.47,192.71 378.26,192.43 378.05,192.12 377.84,191.79 377.62,191.44 377.40,191.07 377.18,190.68 376.96,190.27 376.73,189.84 376.50,189.41 376.27,188.95 376.04,188.49 375.80,188.01 375.56,187.52 375.33,187.03 375.09,186.53 374.85,186.02 374.61,185.51 374.37,185.00 374.13,184.48 373.89,183.97 373.65,183.46 373.41,182.95 373.17,182.45 372.93,181.95 372.70,181.47 372.46,180.99 372.23,180.53 372.00,180.07 371.77,179.63 371.54,179.21 371.32,178.80 371.09,178.41 370.87,178.04 370.66,177.69 370.44,177.36 370.23,177.05 370.03,176.76 369.82,176.50 369.62,176.27 369.43,176.05 369.23,175.87 369.05,175.71 368.86,175.58 368.68,175.48 368.50,175.40 368.33,175.35 368.16,175.33 368.00,175.34" fill="#55b55a" stroke="#1a8a3a" stroke-width="0.6" stroke-linejoin="round"/>
<polygon points="398.99,170.83 399.15,170.82 399.31,170.84 399.48,170.88 399.66,170.95 399.83,171.05 400.02,171.18 400.20,171.33 400.39,171.51 400.58,171.72 400.78,171.95 400.98,172.20 401.18,172.48 401.39,172.77 401.60,173.09 401.81,173.43 402.02,173.79 402.24,174.17 402.46,174.57 402.68,174.98 402.91,175.41 403.14,175.85 403.36,176.30 403.60,176.77 403.83,177.24 404.06,177.73 404.29,178.22 404.53,178.71 404.76,179.22 405.00,179.72 405.24,180.22 405.47,180.73 405.71,181.23 405.94,181.73 406.18,182.23 406.41,182.72 406.65,183.20 406.88,183.68 407.11,184.14 407.34,184.60 407.57,185.04 407.79,185.47 408.01,185.88 408.23,186.27 408.45,186.65 408.67,187.01 408.88,187.35 409.09,187.67 409.29,187.97 409.50,188.25 409.70,188.50 409.89,188.73 410.08,188.93 410.27,189.11 410.46,189.27 410.64,189.39 410.82,189.49 410.99,189.57 411.16,189.61 411.32,189.63 411.49,189.62 399.61,191.35 399.45,191.36 399.28,191.34 399.12,191.30 398.94,191.22 398.76,191.12 398.58,191.00 398.40,190.84 398.21,190.66 398.02,190.46 397.82,190.23 397.62,189.98 397.42,189.70 397.21,189.40 397.00,189.08 396.79,188.74 396.58,188.38 396.36,188.00 396.14,187.61 395.92,187.20 395.69,186.77 395.46,186.33 395.23,185.87 395.00,185.41 394.77,184.93 394.54,184.45 394.31,183.96 394.07,183.46 393.83,182.96 393.60,182.46 393.36,181.95 393.13,181.45 392.89,180.95 392.65,180.44 392.42,179.95 392.19,179.46 391.95,178.97 391.72,178.50 391.49,178.03 391.26,177.58 391.03,177.14 390.81,176.71 390.59,176.30 390.37,175.90 390.15,175.52 389.93,175.16 389.72,174.82 389.51,174.50 389.31,174.21 389.10,173.93 388.90,173.68 388.71,173.45 388.51,173.24 388.33,173.06 388.14,172.91 387.96,172.78 387.78,172.68 387.61,172.61 387.44,172.57 387.27,172.55 387.11,172.56" fill="#55b55a" stroke="#1a8a3a" stroke-width="0.6" stroke-linejoin="round"/>
<polygon points="418.10,168.04 418.26,168.03 418.43,168.05 418.60,168.10 418.77,168.17 418.95,168.27 419.13,168.40 419.32,168.55 419.51,168.73 419.70,168.94 419.90,169.17 420.10,169.42 420.30,169.70 420.51,170.00 420.72,170.32 420.93,170.66 421.14,171.02 421.36,171.40 421.58,171.80 421.81,172.22 422.03,172.64 422.26,173.09 422.49,173.54 422.72,174.01 422.95,174.49 423.19,174.97 423.42,175.46 423.66,175.96 423.89,176.46 424.13,176.97 424.37,177.47 424.60,177.98 424.84,178.48 425.08,178.99 425.31,179.48 425.55,179.97 425.78,180.46 426.01,180.93 426.24,181.40 426.47,181.85 426.70,182.29 426.93,182.72 427.15,183.13 427.37,183.53 415.49,185.26 415.27,184.86 415.05,184.45 414.83,184.02 414.60,183.58 414.37,183.13 414.14,182.66 413.91,182.19 413.67,181.70 413.44,181.21 413.20,180.72 412.97,180.21 412.73,179.71 412.49,179.20 412.26,178.70 412.02,178.19 411.78,177.69 411.55,177.19 411.31,176.70 411.08,176.22 410.85,175.74 410.62,175.27 410.39,174.82 410.16,174.37 409.93,173.95 409.71,173.53 409.49,173.13 409.27,172.75 409.05,172.39 408.84,172.05 408.63,171.73 408.43,171.43 408.22,171.15 408.02,170.90 407.83,170.67 407.63,170.46 407.44,170.28 407.26,170.13 407.08,170.00 406.90,169.90 406.72,169.83 406.55,169.78 406.39,169.76 406.23,169.77" fill="#55b55a" stroke="#1a8a3a" stroke-width="0.6" stroke-linejoin="round"/>
<polygon points="332.60,217.90 332.52,217.52 332.50,217.12 332.51,216.72 332.58,216.31 332.70,215.89 332.86,215.47 333.07,215.06 333.33,214.64 333.63,214.24 333.98,213.85 334.37,213.47 334.79,213.10 335.26,212.76 335.76,212.44 336.30,212.14 336.86,211.87 337.46,211.63 338.07,211.43 338.71,211.25 339.36,211.11 340.03,211.01 340.70,210.94 341.39,210.92 342.07,210.93 342.75,210.98 343.43,211.07 344.10,211.21 344.75,211.38 345.39,211.59 346.01,211.84 346.61,212.13 347.18,212.46 347.71,212.82 348.22,213.21 348.69,213.64 349.13,214.09 349.52,214.57 349.87,215.08 350.18,215.61 350.44,216.16 348.76,213.92 348.50,213.37 348.19,212.84 347.84,212.33 347.45,211.85 347.01,211.40 346.54,210.97 346.03,210.58 345.50,210.22 344.93,209.89 344.33,209.60 343.71,209.35 343.07,209.14 342.42,208.97 341.75,208.83 341.07,208.74 340.39,208.69 339.71,208.68 339.02,208.70 338.35,208.77 337.68,208.87 337.03,209.01 336.39,209.19 335.78,209.39 335.18,209.63 334.62,209.90 334.08,210.20 333.58,210.52 333.11,210.86 332.69,211.23 332.30,211.61 331.95,212.00 331.65,212.40 331.39,212.82 331.18,213.23 331.02,213.65 330.90,214.07 330.83,214.48 330.82,214.88 330.84,215.28 330.92,215.66" fill="#23883a" stroke="#23883a" stroke-width="0.9" stroke-linejoin="round"/>
<polygon points="338.23,225.40 338.15,225.02 338.12,224.62 338.14,224.22 338.21,223.81 338.32,223.39 338.49,222.97 338.70,222.56 338.95,222.14 339.26,221.74 339.60,221.35 339.99,220.97 340.42,220.60 340.89,220.26 341.39,219.94 341.92,219.64 342.49,219.37 343.08,219.13 343.70,218.93 344.33,218.75 344.99,218.61 345.65,218.51 346.33,218.44 347.01,218.42 347.70,218.43 348.38,218.48 349.06,218.57 349.72,218.71 350.38,218.88 351.02,219.09 351.64,219.34 352.23,219.63 352.80,219.96 353.34,220.32 353.85,220.71 354.32,221.14 354.75,221.59 355.14,222.07 355.50,222.58 355.80,223.11 356.07,223.66 354.39,221.42 354.12,220.87 353.82,220.34 353.46,219.83 353.07,219.35 352.64,218.90 352.17,218.47 351.66,218.08 351.12,217.72 350.55,217.39 349.96,217.10 349.34,216.85 348.70,216.64 348.04,216.47 347.38,216.33 346.70,216.24 346.02,216.19 345.33,216.18 344.65,216.20 343.97,216.27 343.31,216.37 342.65,216.51 342.02,216.69 341.40,216.89 340.81,217.13 340.24,217.40 339.71,217.70 339.21,218.02 338.74,218.36 338.31,218.73 337.92,219.11 337.58,219.50 337.27,219.90 337.02,220.32 336.81,220.73 336.64,221.15 336.53,221.57 336.46,221.98 336.44,222.38 336.47,222.78 336.55,223.16" fill="#23883a" stroke="#23883a" stroke-width="0.9" stroke-linejoin="round"/>
<polygon points="345.26,213.20 345.11,213.80 344.92,214.39 344.69,214.97 344.41,215.53 344.09,216.08 343.73,216.60 343.34,217.09 342.92,217.56 342.47,218.00 342.00,218.41 341.50,218.79 340.99,219.13 340.46,219.43 339.92,219.69 339.37,219.92 338.82,220.10 338.27,220.24 337.73,220.35 337.19,220.41 336.67,220.43 336.16,220.41 335.68,220.35 335.22,220.25 334.78,220.12 334.37,219.94 334.00,219.74 333.67,219.50 333.37,219.23 333.11,218.93 332.89,218.61 332.72,218.26 332.60,217.90 330.92,215.66 331.04,216.02 331.21,216.37 331.43,216.69 331.69,216.99 331.99,217.26 332.32,217.50 332.69,217.70 333.10,217.88 333.54,218.01 334.00,218.11 334.48,218.17 334.99,218.19 335.51,218.17 336.05,218.11 336.59,218.00 337.14,217.86 337.69,217.68 338.24,217.45 338.78,217.19 339.31,216.89 339.82,216.55 340.32,216.17 340.79,215.76 341.24,215.32 341.66,214.85 342.05,214.36 342.41,213.84 342.73,213.29 343.01,212.73 343.24,212.15 343.43,211.56 343.58,210.96" fill="#48ae52" stroke="#1a8a3a" stroke-width="0.7" stroke-linejoin="round"/>
<polygon points="350.44,216.16 350.66,216.73 350.83,217.31 350.95,217.90 351.02,218.50 351.05,219.10 351.03,219.71 350.96,220.31 350.84,220.91 350.68,221.51 350.47,222.09 350.22,222.65 349.94,223.20 349.61,223.74 349.25,224.24 348.85,224.73 348.43,225.18 347.98,225.61 347.50,226.01 347.01,226.37 346.49,226.70 345.97,226.99 345.43,227.24 344.89,227.45 344.35,227.63 343.81,227.76 343.27,227.86 342.74,227.91 342.23,227.93 341.73,227.90 341.25,227.84 340.80,227.74 340.37,227.60 339.97,227.43 339.60,227.22 339.27,226.98 338.98,226.72 338.73,226.42 338.52,226.10 338.35,225.76 338.23,225.40 336.55,223.16 336.67,223.52 336.84,223.86 337.05,224.18 337.30,224.48 337.59,224.74 337.92,224.98 338.29,225.19 338.69,225.36 339.12,225.50 339.57,225.60 340.05,225.66 340.55,225.69 341.06,225.67 341.59,225.62 342.13,225.52 342.67,225.39 343.21,225.21 343.75,225.00 344.29,224.75 344.81,224.46 345.33,224.13 345.82,223.77 346.30,223.37 346.75,222.94 347.17,222.49 347.57,222.00 347.93,221.50 348.26,220.96 348.54,220.41 348.79,219.85 349.00,219.27 349.16,218.67 349.28,218.07 349.35,217.47 349.37,216.86 349.34,216.26 349.27,215.66 349.15,215.07 348.98,214.49 348.76,213.92" fill="#48ae52" stroke="#1a8a3a" stroke-width="0.7" stroke-linejoin="round"/>
<polygon points="356.07,223.66 356.29,224.24 356.46,224.83 356.58,225.43 356.65,226.04 356.67,226.65 356.65,227.27 356.57,227.88 356.45,228.49 356.28,229.09 356.06,229.68 355.80,230.25 355.50,230.81 355.16,231.35 354.79,231.86 354.38,232.34 353.94,232.80 353.47,233.23 352.98,233.62 352.47,233.98 351.95,234.30 351.41,234.58 350.86,234.82 350.31,235.03 349.76,235.19 349.21,235.31 348.67,235.39 348.14,235.43 347.62,235.42 347.12,235.38 346.65,235.30 346.20,235.17 345.78,235.02 345.39,234.82 345.04,234.59 344.72,234.33 344.45,234.05 344.22,233.73 344.03,233.39 343.89,233.03 342.21,230.79 342.35,231.15 342.54,231.49 342.77,231.81 343.04,232.09 343.36,232.35 343.71,232.58 344.10,232.78 344.52,232.93 344.97,233.06 345.44,233.14 345.94,233.18 346.46,233.19 346.99,233.15 347.53,233.07 348.08,232.95 348.63,232.79 349.18,232.58 349.73,232.34 350.27,232.06 350.79,231.74 351.30,231.38 351.79,230.99 352.26,230.56 352.70,230.10 353.11,229.62 353.48,229.11 353.82,228.57 354.12,228.01 354.38,227.44 354.60,226.85 354.77,226.25 354.89,225.64 354.97,225.03 354.99,224.41 354.97,223.80 354.90,223.19 354.78,222.59 354.61,222.00 354.39,221.42" fill="#48ae52" stroke="#1a8a3a" stroke-width="0.7" stroke-linejoin="round"/>
<polygon points="367.12,219.04 367.34,218.28 367.60,217.53 367.90,216.80 368.26,216.09 368.65,215.41 369.09,214.76 369.57,214.14 370.08,213.57 370.63,213.03 371.20,212.55 371.81,212.11 372.43,211.72 373.08,211.38 373.74,211.10 374.41,210.88 375.10,210.71 375.78,210.60 376.47,210.55 377.15,210.56 377.82,210.62 378.49,210.75 379.13,210.93 379.76,211.17 380.36,211.46 380.94,211.80 381.49,212.20 382.01,212.64 382.49,213.12 382.93,213.65 383.33,214.21 383.68,214.81 383.99,215.44 384.26,216.09 384.47,216.76 384.64,217.46 384.75,218.16 384.82,218.88 384.83,219.59 384.80,220.31 384.71,221.02 383.41,222.12 383.50,221.41 383.53,220.69 383.52,219.97 383.46,219.26 383.34,218.56 383.17,217.86 382.96,217.19 382.69,216.53 382.38,215.91 382.03,215.31 381.63,214.75 381.19,214.22 380.71,213.74 380.19,213.30 379.65,212.90 379.07,212.56 378.46,212.27 377.84,212.03 377.19,211.85 376.53,211.72 375.85,211.65 375.17,211.65 374.48,211.70 373.80,211.81 373.12,211.97 372.44,212.20 371.78,212.48 371.14,212.82 370.51,213.21 369.91,213.65 369.33,214.13 368.78,214.67 368.27,215.24 367.79,215.86 367.36,216.50 366.96,217.19 366.61,217.89 366.30,218.63 366.04,219.38 365.83,220.14" fill="#23883a" stroke="#23883a" stroke-width="0.9" stroke-linejoin="round"/>
<polygon points="370.15,216.48 370.36,215.72 370.62,214.97 370.93,214.24 371.28,213.53 371.68,212.85 372.12,212.20 372.59,211.58 373.11,211.01 373.65,210.48 374.23,209.99 374.83,209.55 375.46,209.16 376.10,208.82 376.76,208.54 377.44,208.32 378.12,208.15 378.80,208.04 379.49,207.99 380.17,208.00 380.85,208.07 381.51,208.19 382.16,208.37 382.78,208.61 383.39,208.90 383.97,209.25 384.51,209.64 385.03,210.08 385.51,210.56 385.95,211.09 386.35,211.65 386.70,212.25 387.02,212.88 387.28,213.53 387.50,214.21 387.66,214.90 387.78,215.60 387.84,216.32 387.86,217.04 387.82,217.75 387.73,218.46 386.43,219.56 386.52,218.85 386.56,218.13 386.54,217.42 386.48,216.70 386.36,216.00 386.20,215.30 385.98,214.63 385.72,213.98 385.41,213.35 385.05,212.75 384.65,212.19 384.21,211.66 383.73,211.18 383.22,210.74 382.67,210.34 382.09,210.00 381.49,209.71 380.86,209.47 380.21,209.29 379.55,209.16 378.87,209.10 378.19,209.09 377.51,209.14 376.82,209.25 376.14,209.42 375.47,209.64 374.80,209.92 374.16,210.26 373.53,210.65 372.93,211.09 372.35,211.57 371.81,212.11 371.29,212.68 370.82,213.30 370.38,213.95 369.98,214.63 369.63,215.34 369.32,216.07 369.06,216.82 368.85,217.58" fill="#23883a" stroke="#23883a" stroke-width="0.9" stroke-linejoin="round"/>
<polygon points="373.17,213.93 373.38,213.16 373.64,212.41 373.95,211.68 374.30,210.97 374.70,210.29 375.14,209.64 375.62,209.03 376.13,208.45 376.67,207.92 377.25,207.43 377.85,206.99 378.48,206.60 379.13,206.27 379.79,205.99 380.46,205.76 381.14,205.59 381.83,205.48 382.51,205.43 383.20,205.44 383.87,205.51 384.53,205.63 385.18,205.81 385.81,206.05 386.41,206.34 386.99,206.69 387.54,207.08 388.05,207.52 388.53,208.01 388.97,208.53 389.37,209.10 389.73,209.69 390.04,210.32 390.30,210.97 390.52,211.65 390.68,212.34 390.80,213.05 390.87,213.76 390.88,214.48 390.84,215.19 390.76,215.91 389.46,217.00 389.54,216.29 389.58,215.58 389.57,214.86 389.50,214.14 389.39,213.44 389.22,212.75 389.01,212.07 388.74,211.42 388.43,210.79 388.07,210.19 387.67,209.63 387.23,209.10 386.75,208.62 386.24,208.18 385.69,207.79 385.11,207.44 384.51,207.15 383.88,206.91 383.23,206.73 382.57,206.61 381.90,206.54 381.22,206.53 380.53,206.58 379.84,206.69 379.16,206.86 378.49,207.08 377.83,207.36 377.18,207.70 376.56,208.09 375.95,208.53 375.38,209.02 374.83,209.55 374.32,210.12 373.84,210.74 373.40,211.39 373.01,212.07 372.65,212.78 372.35,213.51 372.08,214.26 371.87,215.02" fill="#23883a" stroke="#23883a" stroke-width="0.9" stroke-linejoin="round"/>
<polygon points="376.19,211.37 376.41,210.60 376.67,209.85 376.97,209.12 377.33,208.41 377.72,207.73 378.16,207.08 378.64,206.47 379.15,205.89 379.70,205.36 380.27,204.87 380.88,204.43 381.50,204.04 382.15,203.71 382.81,203.43 383.48,203.20 384.17,203.03 384.85,202.92 385.54,202.87 386.22,202.88 386.89,202.95 387.56,203.07 388.20,203.26 388.83,203.49 389.43,203.79 390.01,204.13 390.56,204.52 391.08,204.96 391.56,205.45 392.00,205.97 392.40,206.54 392.75,207.13 393.06,207.76 393.33,208.42 393.54,209.09 393.71,209.78 393.82,210.49 393.89,211.20 393.90,211.92 393.87,212.64 393.78,213.35 392.48,214.45 392.57,213.73 392.60,213.02 392.59,212.30 392.53,211.59 392.41,210.88 392.24,210.19 392.03,209.51 391.76,208.86 391.45,208.23 391.10,207.64 390.70,207.07 390.26,206.55 389.78,206.06 389.26,205.62 388.71,205.23 388.14,204.88 387.53,204.59 386.90,204.35 386.26,204.17 385.60,204.05 384.92,203.98 384.24,203.97 383.55,204.02 382.87,204.13 382.19,204.30 381.51,204.53 380.85,204.81 380.21,205.14 379.58,205.53 378.98,205.97 378.40,206.46 377.85,206.99 377.34,207.57 376.86,208.18 376.43,208.83 376.03,209.51 375.68,210.22 375.37,210.95 375.11,211.70 374.90,212.47" fill="#23883a" stroke="#23883a" stroke-width="0.9" stroke-linejoin="round"/>
<polygon points="381.69,223.58 381.55,224.28 381.36,224.97 381.13,225.64 380.85,226.28 380.53,226.90 380.17,227.48 379.77,228.03 379.33,228.54 378.86,229.01 378.36,229.44 377.83,229.81 377.28,230.14 376.71,230.41 376.13,230.63 375.53,230.79 374.92,230.89 374.31,230.94 373.70,230.92 373.10,230.85 372.50,230.72 371.91,230.53 371.34,230.29 370.79,229.98 370.26,229.63 369.76,229.22 369.28,228.76 368.84,228.26 368.44,227.71 368.08,227.12 367.75,226.49 367.47,225.83 367.24,225.14 367.05,224.42 366.91,223.68 366.82,222.93 366.78,222.16 366.79,221.38 366.85,220.60 366.96,219.82 367.12,219.04 365.83,220.14 365.66,220.92 365.55,221.70 365.49,222.48 365.48,223.26 365.52,224.03 365.61,224.78 365.75,225.52 365.94,226.24 366.17,226.93 366.45,227.59 366.78,228.22 367.14,228.81 367.55,229.36 367.99,229.86 368.46,230.32 368.96,230.73 369.49,231.08 370.04,231.38 370.61,231.63 371.20,231.82 371.80,231.95 372.40,232.02 373.02,232.03 373.63,231.99 374.23,231.89 374.83,231.72 375.42,231.51 375.99,231.23 376.54,230.91 377.06,230.53 377.56,230.11 378.03,229.64 378.47,229.13 378.87,228.58 379.24,227.99 379.56,227.38 379.83,226.73 380.07,226.07 380.25,225.38 380.39,224.68" fill="#48ae52" stroke="#1a8a3a" stroke-width="0.7" stroke-linejoin="round"/>
<polygon points="384.71,221.02 384.57,221.72 384.39,222.41 384.15,223.08 383.88,223.72 383.56,224.34 383.19,224.92 382.79,225.47 382.36,225.99 381.88,226.45 381.38,226.88 380.86,227.25 380.31,227.58 379.74,227.85 379.15,228.07 378.55,228.23 377.95,228.33 377.34,228.38 376.73,228.36 376.12,228.29 375.52,228.16 374.93,227.97 374.36,227.73 373.81,227.43 373.28,227.07 372.78,226.66 372.31,226.20 371.87,225.70 371.46,225.15 371.10,224.56 370.77,223.93 370.49,223.27 370.26,222.58 370.07,221.86 369.93,221.13 369.84,220.37 369.80,219.60 369.81,218.82 369.87,218.04 369.98,217.26 370.15,216.48 368.85,217.58 368.69,218.36 368.57,219.14 368.51,219.92 368.50,220.70 368.54,221.47 368.63,222.22 368.77,222.96 368.96,223.68 369.20,224.37 369.48,225.03 369.80,225.66 370.17,226.25 370.57,226.80 371.01,227.30 371.48,227.76 371.98,228.17 372.51,228.52 373.06,228.83 373.64,229.07 374.22,229.26 374.82,229.39 375.43,229.46 376.04,229.48 376.65,229.43 377.25,229.33 377.85,229.17 378.44,228.95 379.01,228.68 379.56,228.35 380.09,227.98 380.59,227.55 381.06,227.08 381.49,226.57 381.90,226.02 382.26,225.44 382.58,224.82 382.86,224.18 383.09,223.51 383.27,222.82 383.41,222.12" fill="#48ae52" stroke="#1a8a3a" stroke-width="0.7" stroke-linejoin="round"/>
<polygon points="387.73,218.46 387.60,219.16 387.41,219.85 387.18,220.52 386.90,221.16 386.58,221.78 386.22,222.37 385.82,222.92 385.38,223.43 384.91,223.90 384.41,224.32 383.88,224.70 383.33,225.02 382.76,225.29 382.17,225.51 381.58,225.67 380.97,225.77 380.36,225.82 379.75,225.81 379.14,225.73 378.54,225.60 377.96,225.41 377.39,225.17 376.83,224.87 376.31,224.51 375.80,224.10 375.33,223.65 374.89,223.14 374.49,222.59 374.12,222.00 373.80,221.38 373.52,220.72 373.28,220.02 373.09,219.31 372.95,218.57 372.86,217.81 372.82,217.04 372.83,216.26 372.90,215.48 373.01,214.70 373.17,213.93 371.87,215.02 371.71,215.80 371.60,216.58 371.54,217.36 371.53,218.14 371.57,218.91 371.66,219.67 371.80,220.40 371.98,221.12 372.22,221.81 372.50,222.47 372.82,223.10 373.19,223.69 373.59,224.24 374.03,224.74 374.50,225.20 375.01,225.61 375.54,225.97 376.09,226.27 376.66,226.51 377.25,226.70 377.84,226.83 378.45,226.90 379.06,226.92 379.67,226.87 380.28,226.77 380.88,226.61 381.46,226.39 382.03,226.12 382.58,225.79 383.11,225.42 383.61,224.99 384.08,224.53 384.52,224.01 384.92,223.46 385.28,222.88 385.60,222.26 385.88,221.62 386.11,220.95 386.30,220.26 386.43,219.56" fill="#48ae52" stroke="#1a8a3a" stroke-width="0.7" stroke-linejoin="round"/>
<polygon points="390.76,215.91 390.62,216.61 390.43,217.29 390.20,217.96 389.92,218.61 389.60,219.22 389.24,219.81 388.84,220.36 388.40,220.87 387.93,221.34 387.43,221.76 386.90,222.14 386.35,222.46 385.78,222.73 385.20,222.95 384.60,223.11 383.99,223.22 383.38,223.26 382.77,223.25 382.17,223.18 381.57,223.05 380.98,222.86 380.41,222.61 379.86,222.31 379.33,221.95 378.83,221.55 378.35,221.09 377.91,220.58 377.51,220.04 377.14,219.45 376.82,218.82 376.54,218.16 376.31,217.47 376.12,216.75 375.98,216.01 375.89,215.25 375.85,214.48 375.86,213.71 375.92,212.92 376.03,212.14 376.19,211.37 374.90,212.47 374.73,213.24 374.62,214.02 374.56,214.80 374.55,215.58 374.59,216.35 374.68,217.11 374.82,217.85 375.01,218.56 375.24,219.26 375.52,219.92 375.85,220.54 376.21,221.13 376.62,221.68 377.06,222.19 377.53,222.64 378.03,223.05 378.56,223.41 379.11,223.71 379.68,223.95 380.27,224.14 380.87,224.27 381.47,224.35 382.08,224.36 382.70,224.31 383.30,224.21 383.90,224.05 384.49,223.83 385.06,223.56 385.61,223.24 386.13,222.86 386.63,222.44 387.10,221.97 387.54,221.46 387.94,220.91 388.30,220.32 388.63,219.70 388.90,219.06 389.14,218.39 389.32,217.70 389.46,217.00" fill="#48ae52" stroke="#1a8a3a" stroke-width="0.7" stroke-linejoin="round"/>
<polygon points="393.78,213.35 393.64,214.05 393.46,214.74 393.22,215.40 392.95,216.05 392.63,216.66 392.26,217.25 391.86,217.80 391.42,218.31 390.95,218.78 390.45,219.20 389.93,219.58 389.38,219.90 388.81,220.18 388.22,220.39 387.62,220.55 387.02,220.66 386.41,220.70 385.80,220.69 385.19,220.62 384.59,220.49 384.00,220.30 383.43,220.05 382.88,219.75 382.35,219.40 381.05,220.49 381.58,220.85 382.13,221.15 382.71,221.40 383.29,221.59 383.89,221.72 384.50,221.79 385.11,221.80 385.72,221.76 386.32,221.65 386.92,221.49 387.51,221.27 388.08,221.00 388.63,220.68 389.16,220.30 389.66,219.88 390.13,219.41 390.56,218.90 390.97,218.35 391.33,217.76 391.65,217.15 391.93,216.50 392.16,215.83 392.34,215.15 392.48,214.45" fill="#48ae52" stroke="#1a8a3a" stroke-width="0.7" stroke-linejoin="round"/>
<polygon points="317.63,29.77 318.35,29.89 319.26,30.03 320.33,30.19 321.53,30.38 322.83,30.58 324.18,30.80 325.57,31.03 326.94,31.27 328.28,31.51 329.56,31.76 330.82,32.01 332.13,32.28 333.48,32.56 334.83,32.85 336.18,33.15 337.52,33.46 338.82,33.77 340.07,34.08 341.25,34.39 342.34,34.70 342.74,37.00 352.00,36.00 345.47,28.69 343.66,30.30 342.47,29.96 341.21,29.62 339.91,29.30 338.56,28.98 337.19,28.66 335.81,28.36 334.43,28.06 333.07,27.78 331.74,27.50 330.44,27.24 329.13,26.99 327.74,26.74 326.33,26.50 324.92,26.26 323.55,26.04 322.24,25.84 321.04,25.65 319.97,25.48 319.07,25.34 318.37,25.23" fill="#48ae52" stroke="#1a8a3a" stroke-width="0.7" stroke-linejoin="round"/>
<polygon points="300.99,25.64 300.72,26.24 300.37,27.01 299.95,27.93 299.48,28.96 298.98,30.07 298.45,31.23 297.92,32.41 297.41,33.56 296.92,34.67 296.48,35.67 296.08,36.58 295.69,37.44 295.29,38.29 294.89,39.15 294.49,40.04 294.09,40.95 293.70,41.91 293.32,42.91 292.96,43.98 292.62,45.10 292.32,46.26 292.03,47.44 291.77,48.65 291.53,49.87 291.31,51.12 291.09,52.38 290.89,53.66 290.70,54.95 290.51,56.24 290.33,57.56 290.15,58.91 289.98,60.33 289.82,61.77 289.66,63.24 289.52,64.71 289.38,66.18 289.25,67.63 289.13,69.05 289.01,70.43 288.91,71.75 288.81,73.08 288.73,74.45 285.68,75.66 291.60,83.50 298.20,76.34 295.31,74.84 295.40,73.53 295.49,72.25 295.59,70.96 295.70,69.60 295.82,68.21 295.95,66.78 296.08,65.35 296.23,63.91 296.38,62.49 296.53,61.10 296.70,59.75 296.87,58.44 297.05,57.17 297.23,55.90 297.42,54.66 297.61,53.44 297.81,52.26 298.02,51.10 298.24,49.98 298.47,48.91 298.72,47.88 298.98,46.90 299.25,45.99 299.54,45.13 299.85,44.32 300.17,43.51 300.52,42.71 300.89,41.90 301.28,41.07 301.68,40.20 302.10,39.28 302.52,38.33 302.96,37.32 303.44,36.25 303.94,35.11 304.47,33.95 304.99,32.80 305.49,31.69 305.96,30.67 306.38,29.74 306.73,28.96 307.01,28.36" fill="#48ae52" stroke="#1a8a3a" stroke-width="0.7" stroke-linejoin="round"/>
<polygon points="304.97,43.40 304.75,44.32 304.46,45.48 304.10,46.88 303.69,48.47 303.26,50.20 302.82,52.03 302.40,53.94 302.01,55.88 301.67,57.81 301.42,59.70 301.23,61.67 301.10,63.78 301.02,66.00 300.96,68.25 300.93,70.48 300.92,72.62 298.58,74.60 303.50,79.00 308.46,74.60 306.12,72.63 306.13,70.52 306.16,68.34 306.21,66.16 306.30,64.04 306.42,62.06 306.58,60.30 306.81,58.60 307.12,56.83 307.48,55.01 307.89,53.20 308.31,51.43 308.73,49.74 309.13,48.18 309.49,46.77 309.80,45.56 310.03,44.60" fill="#48ae52" stroke="#1a8a3a" stroke-width="0.7" stroke-linejoin="round"/>
<polygon points="311.78,51.61 311.64,52.45 311.44,53.55 311.22,54.85 310.96,56.30 310.69,57.86 310.40,59.48 310.11,61.11 309.83,62.70 309.55,64.21 309.29,65.58 309.03,66.90 308.76,68.27 308.47,69.67 308.18,71.06 307.89,72.41 307.62,73.69 307.37,74.87 307.14,75.93 306.95,76.83 306.80,77.54 311.20,78.46 311.35,77.76 311.54,76.87 311.77,75.82 312.02,74.63 312.29,73.34 312.58,71.98 312.87,70.58 313.16,69.17 313.45,67.77 313.71,66.42 313.97,65.03 314.25,63.51 314.54,61.90 314.84,60.26 315.12,58.64 315.40,57.08 315.65,55.62 315.88,54.32 316.07,53.23 316.22,52.39" fill="#48ae52" stroke="#1a8a3a" stroke-width="0.7" stroke-linejoin="round"/>
<polygon points="310.89,78.23 311.25,77.67 311.70,76.96 312.22,76.13 312.80,75.20 313.43,74.22 314.09,73.19 314.77,72.17 315.46,71.17 316.13,70.23 316.77,69.39 317.44,68.57 318.19,67.70 319.01,66.79 319.85,65.88 320.70,64.99 321.52,64.14 322.29,63.35 322.98,62.64 323.58,62.03 324.03,61.55 320.77,58.45 320.33,58.91 319.76,59.50 319.07,60.21 318.29,61.01 317.45,61.88 316.57,62.80 315.69,63.76 314.82,64.72 314.00,65.67 313.23,66.61 312.51,67.57 311.77,68.59 311.04,69.65 310.33,70.73 309.64,71.78 309.00,72.80 308.41,73.73 307.89,74.56 307.46,75.25 307.11,75.77" fill="#48ae52" stroke="#1a8a3a" stroke-width="0.7" stroke-linejoin="round"/>
<polygon points="308.66,46.88 309.96,47.02 311.66,47.17 313.65,47.35 315.87,47.55 318.24,47.77 320.67,48.02 323.09,48.29 325.40,48.58 327.51,48.90 329.36,49.24 331.03,49.60 332.65,49.98 334.19,50.38 335.66,50.80 337.07,51.24 338.42,51.72 339.73,52.22 341.01,52.75 342.26,53.32 343.49,53.93 344.70,54.58 345.88,55.25 347.02,55.95 348.11,56.67 349.16,57.42 350.16,58.20 351.13,59.02 352.05,59.88 352.94,60.78 353.75,61.70 354.53,62.71 355.33,63.93 356.14,65.31 356.93,66.78 357.70,68.30 358.42,69.79 359.08,71.21 359.68,72.50 360.22,73.63 360.66,74.50 366.54,71.50 366.15,70.73 365.66,69.70 365.06,68.42 364.38,66.96 363.62,65.38 362.78,63.73 361.89,62.07 360.94,60.45 359.92,58.90 358.85,57.50 357.76,56.28 356.66,55.15 355.51,54.09 354.33,53.08 353.10,52.13 351.85,51.23 350.56,50.38 349.24,49.57 347.89,48.80 346.51,48.07 345.10,47.36 343.66,46.71 342.19,46.09 340.68,45.52 339.14,44.98 337.56,44.48 335.93,44.01 334.24,43.57 332.49,43.16 330.64,42.76 328.59,42.39 326.30,42.05 323.87,41.74 321.37,41.46 318.88,41.20 316.48,40.98 314.24,40.77 312.25,40.60 310.59,40.45 309.34,40.32" fill="#48ae52" stroke="#1a8a3a" stroke-width="0.7" stroke-linejoin="round"/>
<polygon points="316.73,52.60 316.62,53.26 316.48,54.10 316.31,55.08 316.12,56.17 315.92,57.36 315.70,58.60 315.47,59.86 315.24,61.13 315.00,62.35 314.75,63.51 314.49,64.70 314.18,65.99 313.85,67.35 313.50,68.74 311.14,69.60 314.00,76.00 319.61,71.77 317.96,69.87 318.31,68.46 318.65,67.07 318.97,65.73 319.25,64.49 319.50,63.27 319.75,61.99 320.00,60.70 320.23,59.40 320.45,58.14 320.66,56.95 320.85,55.84 321.01,54.86 321.15,54.04 321.27,53.40" fill="#48ae52" stroke="#1a8a3a" stroke-width="0.7" stroke-linejoin="round"/>
<polygon points="324.33,55.33 324.08,55.94 323.77,56.74 323.39,57.70 322.97,58.76 322.52,59.90 322.05,61.07 321.58,62.24 321.13,63.36 320.71,64.40 320.34,65.31 319.99,66.16 319.63,67.00 319.28,67.83 318.93,68.64 318.60,69.41 318.29,70.13 318.00,70.79 317.74,71.38 317.52,71.88 317.35,72.29 320.65,73.71 320.83,73.31 321.04,72.81 321.30,72.23 321.59,71.57 321.90,70.84 322.24,70.06 322.59,69.25 322.95,68.41 323.31,67.55 323.66,66.69 324.04,65.75 324.47,64.70 324.92,63.58 325.39,62.40 325.86,61.23 326.31,60.09 326.74,59.02 327.11,58.07 327.43,57.27 327.67,56.67" fill="#48ae52" stroke="#1a8a3a" stroke-width="0.7" stroke-linejoin="round"/>
<polygon points="309.74,52.22 310.57,52.61 311.66,53.11 312.94,53.71 314.38,54.38 315.92,55.10 317.54,55.84 319.17,56.60 320.78,57.35 322.32,58.06 323.74,58.72 325.11,59.35 326.49,59.99 327.88,60.63 329.26,61.26 330.62,61.88 331.95,62.49 333.24,63.09 334.47,63.66 335.63,64.20 336.71,64.71 337.73,65.20 337.53,68.11 346.00,66.00 342.56,57.88 340.35,59.80 339.29,59.29 338.18,58.77 337.00,58.22 335.76,57.64 334.46,57.04 333.13,56.43 331.76,55.80 330.38,55.17 329.00,54.54 327.62,53.90 326.26,53.28 324.84,52.62 323.30,51.91 321.70,51.16 320.06,50.40 318.45,49.65 316.90,48.94 315.47,48.27 314.18,47.67 313.10,47.17 312.26,46.78" fill="#48ae52" stroke="#1a8a3a" stroke-width="0.7" stroke-linejoin="round"/>
<polygon points="348.41,67.15 348.72,68.24 349.09,69.61 349.54,71.23 350.04,73.07 350.59,75.08 351.20,77.22 351.84,79.45 352.52,81.74 353.23,84.05 353.96,86.33 354.78,88.75 355.71,91.43 356.73,94.28 357.78,97.22 358.85,100.15 359.89,102.98 360.86,105.62 361.73,107.97 362.46,109.95 363.01,111.45 370.99,108.55 370.44,107.02 369.71,105.04 368.84,102.68 367.87,100.05 366.84,97.23 365.78,94.32 364.73,91.41 363.73,88.61 362.82,85.99 362.04,83.67 361.34,81.50 360.66,79.28 360.00,77.07 359.37,74.89 358.78,72.79 358.23,70.82 357.74,68.99 357.29,67.37 356.91,65.96 356.59,64.85" fill="#48ae52" stroke="#1a8a3a" stroke-width="0.7" stroke-linejoin="round"/>
<polygon points="359.28,58.58 359.76,59.09 360.39,59.70 361.06,60.34 361.77,61.02 362.51,61.75 363.25,62.52 363.96,63.33 364.62,64.15 365.21,64.98 365.72,65.83 366.22,66.78 366.72,67.88 367.21,69.06 367.70,70.32 368.17,71.66 368.64,73.05 369.09,74.49 369.53,75.97 369.96,77.47 370.38,78.98 370.79,80.53 371.19,82.16 371.58,83.86 371.96,85.60 372.32,87.37 372.67,89.12 372.99,90.85 373.29,92.51 373.56,94.10 373.79,95.56 373.99,96.94 374.15,98.31 370.92,99.98 378.50,107.00 385.11,98.71 381.60,97.51 381.42,95.98 381.21,94.44 380.96,92.88 380.68,91.23 380.37,89.50 380.03,87.71 379.68,85.88 379.30,84.05 378.90,82.22 378.48,80.42 378.06,78.68 377.62,77.02 377.18,75.43 376.73,73.86 376.26,72.29 375.77,70.74 375.26,69.22 374.73,67.72 374.18,66.27 373.59,64.86 372.96,63.50 372.28,62.17 371.49,60.87 370.61,59.63 369.69,58.49 368.77,57.45 367.87,56.50 367.01,55.65 366.24,54.91 365.58,54.29 365.09,53.81 364.72,53.42" fill="#48ae52" stroke="#1a8a3a" stroke-width="0.7" stroke-linejoin="round"/>
<polygon points="377.38,75.47 387.22,81.20 388.40,78.40 389.58,75.60 378.62,72.53" fill="#48ae52" stroke="#1a8a3a" stroke-width="0.7" stroke-linejoin="round"/>
<polygon points="328.75,81.56 329.64,82.27 330.78,83.20 332.14,84.30 333.66,85.54 335.31,86.87 337.03,88.26 338.78,89.66 340.52,91.04 342.20,92.36 343.78,93.59 345.32,94.76 346.90,95.93 348.50,97.10 350.10,98.26 351.68,99.40 353.23,100.52 354.74,101.61 356.18,102.65 357.54,103.65 358.79,104.59 359.99,105.51 361.15,106.42 362.28,107.31 363.36,108.17 364.38,108.99 365.32,109.76 366.18,110.46 366.95,111.09 367.61,111.62 368.14,112.06 370.66,108.94 370.13,108.52 369.48,107.99 368.71,107.36 367.85,106.66 366.90,105.88 365.87,105.05 364.77,104.18 363.62,103.27 362.43,102.34 361.21,101.41 359.92,100.44 358.54,99.43 357.08,98.37 355.57,97.28 354.02,96.16 352.44,95.02 350.86,93.87 349.28,92.71 347.73,91.56 346.22,90.41 344.66,89.21 343.00,87.90 341.27,86.53 339.53,85.14 337.82,83.76 336.18,82.43 334.66,81.20 333.30,80.09 332.15,79.16 331.25,78.44" fill="#48ae52" stroke="#1a8a3a" stroke-width="0.7" stroke-linejoin="round"/>
<polygon points="329.64,100.77 330.55,100.93 331.74,101.15 333.15,101.41 334.74,101.70 336.44,102.01 338.19,102.33 339.95,102.65 341.65,102.95 343.24,103.23 344.67,103.47 346.01,103.69 347.37,103.91 348.72,104.11 350.03,104.31 351.30,104.50 352.49,104.67 353.57,104.83 354.54,104.96 355.36,105.08 356.01,105.18 356.59,101.22 355.93,101.12 355.11,101.01 354.14,100.87 353.06,100.71 351.88,100.54 350.62,100.36 349.32,100.16 347.99,99.96 346.65,99.74 345.33,99.53 343.92,99.29 342.34,99.01 340.65,98.71 338.90,98.39 337.15,98.08 335.46,97.77 333.88,97.48 332.46,97.22 331.27,97.00 330.36,96.83" fill="#48ae52" stroke="#1a8a3a" stroke-width="0.7" stroke-linejoin="round"/>
<polygon points="354.35,102.13 353.56,102.01 352.53,101.87 351.32,101.70 349.97,101.51 348.53,101.31 347.03,101.09 345.54,100.87 344.08,100.63 342.71,100.39 341.50,100.15 340.40,99.90 339.31,99.60 338.21,99.26 337.11,98.90 336.00,98.53 334.88,98.17 333.74,97.83 332.60,97.53 331.43,97.28 330.26,97.11 329.15,97.02 328.06,96.98 326.99,96.98 325.94,97.02 324.90,97.11 323.88,97.25 322.88,97.43 321.92,97.66 320.98,97.95 320.04,98.30 319.07,98.79 318.17,99.39 317.35,100.05 316.61,100.73 315.94,101.41 315.35,102.07 314.82,102.67 314.38,103.18 314.05,103.55 313.79,103.81 317.21,107.19 317.57,106.82 318.00,106.34 318.45,105.81 318.93,105.27 319.43,104.71 319.96,104.17 320.49,103.68 321.01,103.26 321.49,102.93 321.96,102.70 322.52,102.49 323.17,102.30 323.87,102.13 324.63,101.99 325.42,101.89 326.24,101.82 327.09,101.78 327.97,101.78 328.86,101.82 329.74,101.89 330.59,102.01 331.48,102.19 332.44,102.45 333.44,102.75 334.50,103.09 335.61,103.46 336.77,103.84 337.97,104.20 339.22,104.55 340.50,104.85 341.84,105.11 343.28,105.36 344.79,105.61 346.33,105.84 347.85,106.06 349.31,106.27 350.67,106.46 351.87,106.62 352.88,106.76 353.65,106.87" fill="#48ae52" stroke="#1a8a3a" stroke-width="0.7" stroke-linejoin="round"/>
<polygon points="313.41,105.46 313.61,105.90 313.87,106.47 314.18,107.16 314.53,107.93 314.91,108.77 315.31,109.64 315.72,110.53 316.14,111.41 316.55,112.26 316.96,113.06 317.37,113.82 317.79,114.57 318.21,115.29 318.63,116.00 319.05,116.69 319.46,117.37 319.86,118.04 320.24,118.70 320.60,119.36 320.94,120.02 321.28,120.74 321.64,121.53 320.11,123.18 326.20,126.50 328.13,119.72 325.84,119.65 325.45,118.79 325.06,117.98 324.66,117.20 324.25,116.45 323.83,115.72 323.41,115.01 322.99,114.31 322.57,113.63 322.17,112.95 321.78,112.28 321.40,111.61 321.04,110.94 320.67,110.21 320.28,109.42 319.88,108.57 319.48,107.71 319.09,106.86 318.72,106.04 318.37,105.27 318.06,104.58 317.80,104.00 317.59,103.54" fill="#1b8a3a" stroke="#0f6a28" stroke-width="0.7" stroke-linejoin="round"/>
<polygon points="288.84,59.09 289.17,59.13 289.59,59.16 290.06,59.19 290.57,59.22 291.10,59.26 291.64,59.32 292.17,59.39 292.66,59.48 293.10,59.58 293.48,59.71 293.86,59.86 294.25,60.05 294.65,60.25 295.03,60.47 295.40,60.71 295.76,60.96 296.11,61.24 296.44,61.53 296.76,61.84 297.06,62.18 297.37,62.56 297.69,62.98 298.01,63.44 298.32,63.93 298.61,64.43 298.88,64.93 299.10,65.42 299.29,65.90 299.43,66.35 299.52,66.76 299.58,67.17 299.60,67.62 299.59,68.07 299.55,68.53 299.48,68.99 299.38,69.44 299.25,69.87 299.10,70.28 298.93,70.66 298.74,70.99 298.52,71.29 298.25,71.60 297.92,71.92 297.53,72.23 297.12,72.54 296.67,72.84 296.21,73.13 295.75,73.39 295.29,73.63 294.88,73.83 294.50,73.99 294.08,74.13 293.62,74.25 293.13,74.35 292.64,74.43 292.15,74.50 291.68,74.56 291.25,74.61 290.86,74.67 290.54,74.72 291.06,77.68 291.31,77.63 291.63,77.59 292.06,77.54 292.55,77.47 293.10,77.39 293.69,77.29 294.29,77.17 294.91,77.01 295.54,76.81 296.12,76.57 296.66,76.30 297.19,76.02 297.74,75.71 298.29,75.37 298.85,74.99 299.39,74.59 299.91,74.15 300.41,73.68 300.86,73.17 301.26,72.61 301.59,72.04 301.87,71.44 302.10,70.83 302.29,70.19 302.43,69.55 302.53,68.89 302.59,68.23 302.60,67.56 302.56,66.90 302.48,66.24 302.33,65.57 302.12,64.90 301.86,64.25 301.57,63.60 301.24,62.97 300.88,62.37 300.51,61.78 300.13,61.23 299.73,60.71 299.34,60.22 298.92,59.76 298.48,59.33 298.03,58.93 297.56,58.56 297.08,58.22 296.58,57.90 296.08,57.62 295.57,57.35 295.06,57.12 294.52,56.89 293.92,56.69 293.28,56.54 292.63,56.42 291.99,56.34 291.37,56.27 290.79,56.23 290.25,56.19 289.79,56.16 289.43,56.14 289.16,56.11" fill="#3fa84b" stroke="#157530" stroke-width="0.7" stroke-linejoin="round"/>
<path d="M289.5,57 Q295,56.8 298.6,60.6" fill="none" stroke="#157530" stroke-width="1.6"/>
<polygon points="347,74 351.5,60 361,71" fill="#48ae52" stroke="#1a8a3a" stroke-width="0.7"/>
<polygon points="417.99,171.70 418.48,171.70 419.10,171.70 419.83,171.70 420.65,171.70 421.53,171.70 422.44,171.70 423.37,171.72 424.27,171.73 425.14,171.76 425.93,171.80 426.71,171.85 427.54,171.92 428.40,172.01 429.26,172.10 430.11,172.20 430.92,172.30 431.67,172.39 432.34,172.47 432.91,172.54 433.36,172.59 433.64,170.21 433.20,170.16 432.63,170.09 431.96,170.01 431.21,169.91 430.39,169.81 429.53,169.72 428.65,169.62 427.76,169.53 426.90,169.46 426.07,169.40 425.23,169.36 424.33,169.33 423.40,169.32 422.46,169.30 421.53,169.30 420.65,169.30 419.83,169.30 419.09,169.30 418.48,169.30 418.01,169.30" fill="#48ae52" stroke="#1a8a3a" stroke-width="0.7" stroke-linejoin="round"/>
<polygon points="332.05,25.79 332.61,25.55 333.31,25.24 334.13,24.88 335.05,24.48 336.04,24.05 337.09,23.60 338.18,23.15 339.28,22.72 340.38,22.30 341.45,21.93 343.66,25.04 353.20,17.20 340.67,15.41 340.55,19.27 339.42,19.67 338.27,20.10 337.13,20.56 336.01,21.02 334.94,21.48 333.93,21.91 333.00,22.32 332.19,22.68 331.50,22.98 330.95,23.21" fill="#3aa84a" stroke="#1a8a3a" stroke-width="0.7" stroke-linejoin="round"/>
<ellipse cx="327.3" cy="93.3" rx="7" ry="2.7" transform="rotate(43 327.3 93.3)" fill="#6c1a74" stroke="#a03aa8" stroke-width="0.6"/>
<g fill="none" stroke="#b23fb2" stroke-width="2.1" stroke-linejoin="round" stroke-linecap="round">
<polygon points="296.8,85.8 301,83.6 304.9,85.8 304.9,90.9 300.5,93.2 296.6,91.1"/>
<polygon points="312.2,84.6 316.9,82.3 320.3,84.6 319.8,89.5 314.5,91"/>
<polyline points="287.7,86.2 292.5,89.7 296.8,87.8"/>
<polyline points="292.5,89.7 288.6,94.8"/>
<polyline points="304.9,88 312,87.3"/>
<polyline points="320.3,84.6 324,77.5"/>
<polyline points="314.5,91 313,95.3"/>
<polyline points="319.8,89.5 322.4,89"/>
</g>
<polygon points="309.5,40 314,38.5 320.5,40.5 321,45 317,47.5 311,46.5" fill="#ee8330" stroke="#c9651a" stroke-width="0.6"/>
<polyline points="316,41 316.5,34.2 313.5,33.5 M316.5,35.5 324.6,37.7" fill="none" stroke="#ee8330" stroke-width="1.3"/>
<path d="M316,41 L316.5,34.2 M313.5,33.5 L316.5,34.5 L324.6,37.7" fill="none" stroke="#ee8330" stroke-width="1.3"/>
<polygon points="264,90 268,84.5 273.5,85.5 275,89.5 271,93.5 265,94.5" fill="#3d4fb8" stroke="#2a3a9a" stroke-width="0.6"/>
<path d="M266,93 L264.8,99" stroke="#3d4fb8" stroke-width="1.3"/>
<polygon points="309.5,111 314,107 320.5,108 320,114 314,117" fill="#e4e02a" stroke="#b5b01a" stroke-width="0.5"/>
<path d="M318,110 L324,112 L332.6,108.2" fill="none" stroke="#e4e02a" stroke-width="1.4"/>
<polygon points="278.3,121.3 280.8,121.3 284.6,126.6 286.8,131.2 283.2,130.4 279.6,132.4 282,127.6" fill="#d8262e" stroke="#b81a22" stroke-width="0.4"/>
<polygon points="416.5,176 421,171 426.5,170 428.5,174 425,182 419,182" fill="#38b4d8"/>
<path d="M421,171 L425,167" stroke="#38b4d8" stroke-width="1.2"/>
<text x="258.6" y="108.2" font-size="10" fill="#333" font-family="Liberation Sans, Arial, sans-serif" textLength="14.2" lengthAdjust="spacingAndGlyphs">L50</text>
<text x="326.2" y="43.8" font-size="9.8" fill="#333" font-family="Liberation Sans, Arial, sans-serif" textLength="13.4" lengthAdjust="spacingAndGlyphs">T21</text>
<text x="333.8" y="120.6" font-size="10" fill="#333" font-family="Liberation Sans, Arial, sans-serif" textLength="19.2" lengthAdjust="spacingAndGlyphs">E166</text>
<text x="264.3" y="140.7" font-size="10" fill="#333" font-family="Liberation Sans, Arial, sans-serif" textLength="20.6" lengthAdjust="spacingAndGlyphs">A191</text>
<text x="423.6" y="166.2" font-size="10" fill="#333" font-family="Liberation Sans, Arial, sans-serif" textLength="20.8" lengthAdjust="spacingAndGlyphs">A213</text>
</g>
</svg>
</body></html>
